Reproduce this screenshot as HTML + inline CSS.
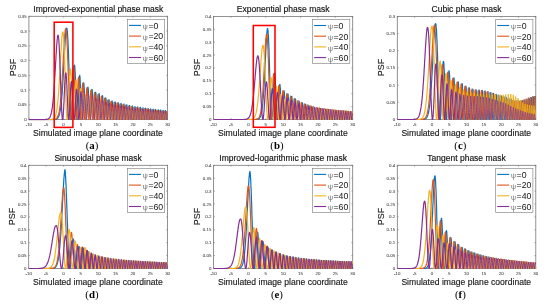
<!DOCTYPE html>
<html lang="en"><head><meta charset="utf-8"><title>PSF of phase masks</title>
<style>
html,body{margin:0;padding:0;background:#fff}
body{width:550px;height:308px;overflow:hidden}
svg{display:block}
text{font-family:'Liberation Sans', sans-serif}
.t{font-size:8.5px;fill:#111;text-anchor:middle;stroke:#111;stroke-width:.15px}
.l{font-size:8.58px;fill:#1a1a1a;text-anchor:middle;stroke:#1a1a1a;stroke-width:.15px}
.k{font-size:4.4px;fill:#505050;stroke:#505050;stroke-width:.08px}
.g{font-size:8.75px;fill:#151515}
.s{font-family:'Liberation Serif', serif;font-size:10.8px;fill:#000;text-anchor:middle}
</style></head><body>
<svg width="550" height="308" viewBox="0 0 550 308">
<rect width="550" height="308" fill="#fff"/>
<g id="panel-a">
<clipPath id="cp0"><rect x="28.90" y="15.30" width="138.70" height="104.90"/></clipPath>
<rect x="28.90" y="16.30" width="138.70" height="103.30" fill="none" stroke="#777" stroke-width="0.8"/>
<path d="M28.90 119.60v-1.4M28.90 16.30v1.4M46.24 119.60v-1.4M46.24 16.30v1.4M63.57 119.60v-1.4M63.57 16.30v1.4M80.91 119.60v-1.4M80.91 16.30v1.4M98.25 119.60v-1.4M98.25 16.30v1.4M115.59 119.60v-1.4M115.59 16.30v1.4M132.92 119.60v-1.4M132.92 16.30v1.4M150.26 119.60v-1.4M150.26 16.30v1.4M167.60 119.60v-1.4M167.60 16.30v1.4M28.90 119.60h1.4M167.60 119.60h-1.4M28.90 104.84h1.4M167.60 104.84h-1.4M28.90 90.09h1.4M167.60 90.09h-1.4M28.90 75.33h1.4M167.60 75.33h-1.4M28.90 60.57h1.4M167.60 60.57h-1.4M28.90 45.81h1.4M167.60 45.81h-1.4M28.90 31.06h1.4M167.60 31.06h-1.4M28.90 16.30h1.4M167.60 16.30h-1.4" stroke="#777" stroke-width="0.6" fill="none"/>
<g clip-path="url(#cp0)"><g transform="scale(.1)" fill="none" stroke-width="10.0" stroke-linejoin="round">
<path stroke="#0473C2" stroke-width="12" d="M289 1196L536 1196l1 0 2-1 1 0 1 0 1 0 2 0 1 0 1 0 1 0 2 0 1-1 1 0 2 0 1 0 1 0 1-1 2 0 1 0 1-1 1 0 2-1 1 0 1-1 1-1 2 0 1-1 1-1 1-1 2-1 1-1 1-2 1-1 2-1 1-2 1-2 2-2 1-2 1-2 1-3 2-3 1-3 1-3 1-4 2-3 1-5 1-4 1-5 2-5 1-5 1-6 1-7 2-6 1-8 1-7 1-9 2-8 1-10 1-10 2-10 1-11 1-12 1-12 2-13 1-14 1-14 1-15 2-16 1-16 1-17 1-18 2-18 1-19 1-20 1-20 2-21 1-22 1-21 1-23 2-23 1-23 1-23 2-24 1-23 1-24 1-24 2-23 1-23 1-23 1-22 2-22 1-21 1-20 1-19 2-18 1-17 1-15 1-14 2-12 1-10 1-8 1-6 2-4 1-2 1 0 2 2 1 5 1 7 1 10 2 12 1 15 1 18 1 20 2 22 1 25 1 28 1 29 2 32 1 33 1 35 1 37 2 38 1 39 1 39 1 40 2 40 1 40 1 39 2 38 1 37 1 35 1 34 2 31 1 29 1 25 1 23 2 19 1 15 1 12 1 8 2 4 1-1 1-4 1-8 2-13 1-15 1-20 1-23 2-25 1-29 1-30 2-32 1-34 1-34 1-34 2-35 1-33 1-31 1-30 2-27 1-25 1-20 1-17 2-13 1-9 1-3 1 1 2 6 1 10 1 16 1 19 2 24 1 27 1 31 2 33 1 35 1 37 1 38 2 37 1 37 1 36 1 33 2 31 1 27 1 24 1 18 2 14 1 8 1 3 1-3 2-8 1-14 1-19 1-24 2-28 1-32 1-34 2-36 1-37 1-36 1-36 2-33 1-30 1-26 1-21 2-15 1-8 1-2 1 5 2 12 1 19 1 25 1 31 2 36 1 40 1 42 1 43 2 42 1 39 1 35 2 29 1 23 1 14 1 7 2-2 1-11 1-18 1-25 2-31 1-35 1-38 1-38 2-38 1-35 1-31 1-26 2-20 1-14 1-6 1 0 2 8 1 13 1 20 2 24 1 29 1 32 1 33 2 34 1 34 1 32 1 29 2 26 1 21 1 17 1 11 2 5 1-1 1-7 1-12 2-17 1-21 1-25 1-28 2-30 1-30 1-30 2-29 1-26 1-23 1-19 2-15 1-8 1-4 1 3 2 9 1 13 1 19 1 23 2 26 1 29 1 30 1 30 2 30 1 28 1 25 1 22 2 17 1 13 1 7 2 1 1-5 1-10 1-15 2-20 1-24 1-27 1-29 2-30 1-30 1-29 1-26 2-22 1-18 1-12 1-6 2 0 1 7 1 13 1 19 2 24 1 28 1 31 2 33 1 32 1 31 1 27 2 24 1 18 1 11 1 5 2-3 1-9 1-16 1-21 2-26 1-29 1-31 1-31 2-29 1-26 1-22 1-17 2-11 1-3 1 2 2 10 1 16 1 21 1 25 2 29 1 30 1 30 1 30 2 26 1 22 1 17 1 11 2 5 1-2 1-9 1-15 2-21 1-25 1-28 1-29 2-30 1-28 1-25 2-21 1-15 1-9 1-3 2 5 1 11 1 17 1 23 2 26 1 29 1 30 1 29 2 27 1 24 1 19 1 13 2 6 1 0 1-7 2-14 1-19 1-23 1-27 2-28 1-29 1-26 1-24 2-19 1-14 1-7 1-1 2 6 1 13 1 18 1 23 2 27 1 28 1 28 1 27 2 25 1 20 1 14 2 8 1 2 1-5 1-12 2-17 1-21 1-25 1-27 2-26 1-26 1-22 1-17 2-13 1-6 1 0 1 7 2 13 1 18 1 23 1 25 2 27 1 26 1 24 2 22 1 16 1 11 1 5 2-2 1-8 1-13 1-19 2-22 1-24 1-25 1-25 2-21 1-18 1-14 1-7 2-1 1 5 1 11 1 16 2 20 1 24 1 25 2 24 1 23 1 20 1 16 2 10 1 5 1-2 1-8 2-13 1-18 1-21 1-24 2-24 1-23 1-20 1-17 2-11 1-6 1 0 1 7 2 12 1 17 1 21 2 23 1 24 1 23 1 21 2 18 1 12 1 8 1 1 2-5 1-11 1-15 1-20 2-22 1-23 1-23 1-21 2-17 1-13 1-7 1-1 2 5 1 11 1 15 2 20 1 22 1 23 1 23 2 21 1 17 1 12 1 8 2 1 1-5 1-11 1-15 2-19 1-22 1-23 1-22 2-19 1-16 1-12 1-6 2 1 1 6 1 11 2 17 1 20 1 22 1 22 2 22 1 19 1 15 1 10 2 5 1-2 1-7"/>
<path stroke="#0473C2" stroke-width="11" d="M1198 1187l1-13 2-17 1-20 1-22 1-22 2-20 1-17 1-13 1-8 2-2 1 4 1 10 2 14 1 19 1 21 1 22 2 22 1 19 1 15 1 11 2 6 1-1 1-7 1-11 2-17 1-19 1-21 1-22 2-19 1-17 1-13 1-7 2-2 1 5 1 10 2 14 1 19 1 21 1 21 2 21 1 18 1 14 1 9 2 4 1-2 1-8 1-13 2-17 1-20 1-21 1-20 2-18 1-15 1-10 1-5 2 2 1 7 1 12 2 16 1 20 1 20 1 21 2 19 1 15 1 11 1 5 2 0 1-6 1-11 1-16 2-19 1-20 1-20 1-18 2-15 1-11 1-5 1 0 2 7 1 11 1 16 2 19 1 20 1 20 1 18 2 15 1 11 1 5 1-1 2-7 1-11 1-16 1-18 2-20 1-20 1-17 1-14 2-9 1-4 1 2 1 8 2 12 1 17 1 19 2 20 1 19 1 17 1 13 2 8 1 2 1-3 1-9 2-14 1-17 1-19 1-19 2-18 1-15 1-11 1-6 2 0 1 5 1 11 1 15 2 17 1 20 1 19 2 17 1 14 1 9 1 4 2-2 1-7 1-12 1-16 2-18 1-19 1-18 1-16 2-11 1-7 1-1 1 4 2 10 1 14 1 17 1 19 2 18 1 17 1 14 2 10 1 4 1-2 1-6 2-12 1-15 1-18 1-18 2-18 1-15 1-11 1-7 2-1 1 5 1 9 1 14 2 17 1 18 1 18 1 17 2 13 1 9 1 3 2-2 1-7 1-12 1-16 2-18 1-18 1-16 1-15 2-10 1-5 1 0 1 6 2 11 1 14 1 17 1 18 2 18 1 15 1 11 1 7 2 2 1-4 1-9 2-13 1-16 1-18 1-17 2-16 1-12 1-8 1-3 2 3 1 8 1 12 1 16 2 17 1 18 1 16 1 13 2 9 1 4 1-2 1-6 2-12 1-14 1-17 2-17 1-17 1-13 1-9 2-5 1 1 1 6 1 11 2 14 1 17 1 17 1 17 2 13 1 10 1 5 1 0 2-5 1-10 1-14 1-16 2-17 1-16 1-14 2-10 1-5 1 0 1 5 2 10 1 14 1 16 1 17 2 16 1 14 1 10 1 5 2 0 1-5 1-9 1-14 2-15 1-17 1-16 1-13 2-10 1-5 1 0 2 5 1 10 1 14 1 15 2 17 1 16 1 13 1 9 2 5 1 0 1-5 1-10 2-13 1-15 1-17 1-15 2-12 1-9 1-5 1 1 2 6 1 10 1 13 2 16 1 16 1 15 1 12 2 9 1 4 1-1 1-6 2-11 1-13 1-15 1-16 2-15 1-11 1-8 1-3 2 2 1 6 1 11 1 14 2 16 1 15 1 14 2 11 1 8 1 2 1-3 2-7 1-11 1-14 1-15 2-15 1-14 1-10 1-6 2-1 1 4 1 8 1 11 2 15 1 15 1 15 1 13 2 9 1 5 1 1 2-5 1-9 1-12 1-14 2-15 1-15 1-11 1-8 2-4 1 1 1 6 1 9 2 13 1 15 1 15 1 13 2 11 1 7 1 3 1-2 2-7 1-11 1-13 2-14 1-15 1-12 1-10 2-6 1-1 1 4 1 8 2 12 1 14 1 15 1 13 2 12 1 9 1 4 1-1 2-5 1-9 1-13 1-14 2-14 1-13"/>
<path stroke="#E05519" stroke-width="12" d="M289 1196L529 1196l1 0 1-1 1 0 2 0 1 0 1 0 1 0 2 0 1 0 1 0 1-1 2 0 1 0 1 0 1-1 2 0 1 0 1-1 2 0 1 0 1-1 1-1 2 0 1-1 1-1 1 0 2-1 1-1 1-2 1-1 2-1 1-2 1-1 1-2 2-2 1-2 1-2 1-3 2-2 1-3 1-4 2-3 1-4 1-4 1-4 2-5 1-5 1-5 1-6 2-6 1-7 1-7 1-7 2-9 1-8 1-9 1-10 2-11 1-10 1-12 1-12 2-13 1-14 1-14 2-15 1-15 1-17 1-17 2-17 1-19 1-19 1-19 2-21 1-20 1-22 1-22 2-22 1-23 1-23 1-23 2-24 1-24 1-24 1-23 2-24 1-23 1-23 2-22 1-22 1-21 1-20 2-19 1-18 1-17 1-15 2-13 1-12 1-10 1-8 2-6 1-4 1-1 1 1 2 2 1 6 1 8 1 10 2 13 1 15 1 18 2 21 1 23 1 25 1 28 2 30 1 32 1 34 1 35 2 37 1 37 1 39 1 40 2 39 1 40 1 40 1 38 2 38 1 37 1 34 1 33 2 30 1 28 1 25 2 21 1 18 1 14 1 11 2 6 1 3 1-2 1-5 2-10 1-13 1-18 1-20 2-24 1-27 1-29 1-31 2-32 1-34 1-34 1-34 2-33 1-32 1-30 2-28 1-25 1-22 1-18 2-14 1-10 1-5 1 0 2 5 1 9 1 14 1 19 2 23 1 28 1 30 1 33 2 36 1 37 1 38 1 38 2 37 1 36 1 33 2 30 1 27 1 22 1 17 2 11 1 6 1 0 1-5 2-12 1-17 1-21 1-27 2-30 1-32 1-35 1-36 2-36 1-35 1-33 1-29 2-26 1-21 1-16 2-9 1-4 1 3 1 10 2 16 1 22 1 27 1 32 2 35 1 38 1 39 1 39 2 38 1 34 1 30 1 26 2 19 1 12 1 5 1-2 2-10 1-17 1-22 2-28 1-32 1-34 1-36 2-36 1-35 1-31 1-28 2-23 1-17 1-10 1-4 2 3 1 9 1 15 1 21 2 25 1 29 1 32 1 34 2 34 1 33 1 32 2 28 1 24 1 20 1 15 2 8 1 3 1-3 1-10 2-14 1-20 1-23 1-27 2-29 1-31 1-30 1-29 2-28 1-24 1-20 1-16 2-10 1-5 1 1 2 7 1 13 1 17 1 22 2 26 1 28 1 29 1 30 2 30 1 28 1 25 1 22 2 18 1 13 1 8 1 2 2-4 1-8 1-15 1-19 2-23 1-26 1-28 2-30 1-29 1-28 1-26 2-22 1-18 1-13 1-7 2 0 1 5 1 13 1 18 2 23 1 27 1 31 1 32 2 32 1 30 1 28 1 23 2 18 1 11 1 5 2-3 1-9 1-16 1-21 2-26 1-29 1-31 1-30 2-29 1-26 1-21 1-16 2-10 1-3 1 3 1 10 2 16 1 22 1 25 1 29 2 29 1 30 1 29 2 25 1 22 1 16 1 10 2 4 1-3 1-9 1-16 2-20 1-25 1-27 1-29 2-29 1-27 1-24 1-20 2-14 1-9 1-1 1 5 2 11 1 18 1 22 2 27 1 28 1 30 1 28 2 26 1 23 1 18 1 11 2 6 1-2 1-8 1-14 2-20 1-24 1-26 1-28 2-28 1-26 1-23 2-18 1-13 1-6 1 1 2 7 1 14 1 19 1 23 2 27 1 28 1 28 1 26 2 23 1 19 1 13 1 7 2 0 1-6 1-13 1-17 2-23 1-25 1-26 2-26 1-25 1-21 1-16 2-11 1-5 1 2 1 8 2 14 1 19 1 23 1 25 2 26 1 26 1 24 1 20 2 15 1 10 1 3 1-3 2-9 1-15 1-19 2-22 1-25 1-24 1-24 2-21 1-16 1-12 1-6 2 0 1 7 1 12 1 17 2 21 1 23 1 25 1 24 2 22 1 19 1 14 1 9 2 3 1-3 1-9 2-14 1-19 1-21 1-24 2-23 1-22 1-19 1-15 2-10 1-4 1 1 1 8 2 13 1 18 1 21"/>
<path stroke="#E05519" stroke-width="11" d="M1116 1074l1 23 2 23 1 22 1 20 1 16 2 12 1 5 1 0 2-6 1-12 1-16 1-20 2-22 1-22 1-22 1-20 2-16 1-11 1-5 1 0 2 6 1 12 1 16 1 20 2 22 1 23 1 21 1 20 2 16 1 11 1 5 2 0 1-6 1-11 1-17 2-19 1-22 1-22 1-21 2-18 1-15 1-10 1-4 2 2 1 7 1 13 1 17 2 20 1 21 1 22 1 21 2 18 1 13 1 9 2 3 1-3 1-8 1-14 2-17 1-21 1-21 1-21 2-19 1-16 1-12 1-6 2 0 1 5 1 11 1 15 2 19 1 21 1 21 1 21 2 18 1 14 1 9 2 4 1-2 1-8 1-12 2-17 1-20 1-21 1-20 2-19 1-15 1-12 1-5 2 0 1 5 1 11 1 16 2 18 1 21 1 21 1 19 2 17 1 13 1 8 2 2 1-4 1-9 1-13 2-18 1-19 1-21 1-19 2-17 1-14 1-8 1-3 2 2 1 8 1 13 1 17"/>
<path stroke="#E05519" stroke-width="10" d="M1262 1091l2 20 1 20 1 20 1 18 2 14 1 9 1 4 2-2 1-7 1-12 1-16 2-19 1-20 1-19 1-17 2-14 1-9 1-4 1 2 2 7 1 13 1 16 1 19 2 20 1 19 1 17 1 14 2 8 1 4 1-2 2-8 1-12 1-16 1-19 2-19 1-19 1-16 1-13 2-7 1-2 1 3 1 9 2 13 1 17 1 19 1 19 2 18 1 16 1 11 1 7 2 1 1-5 1-10 2-14 1-17 1-19 1-18 2-17 1-14 1-10 1-4 2 1 1 7 1 11 1 15 2 18 1 19 1 18 1 16 2 13 1 8 1 2 1-3 2-8 1-13 1-16 2-18 1-19 1-17 1-14 2-10 1-5 1 0 1 5 2 11 1 14 1 17 1 19 2 18 1 16 1 12 1 8 2 3 1-3 1-7 1-13 2-15 1-18 1-18 2-17 1-13 1-10 1-5 2 0 1 6 1 10 1 14 2 17 1 18 1 18 1 15 2 12 1 7 1 2 1-3 2-9 1-12 1-16 1-17 2-18 1-16 1-13 2-8 1-4 1 2 1 6 2 12 1 15 1 17 1 17 2 17 1 14 1 10 1 5 2 0 1-5 1-9 1-14 2-16 1-17 1-17 1-15 2-11 1-6 1-1 2 4 1 8 1 13 1 16 2 17 1 17 1 15 1 12 2 7 1 3 1-3 1-7 2-12 1-15 1-17 1-17 2-15 1-12 1-8 1-3 2 2 1 7 1 12 2 14 1 17 1 17 1 15 2 13 1 8 1 4 1-2 2-6 1-11 1-14 1-16 2-17 1-15 1-12 1-9 2-4 1 2 1 6 1 11 2 14 1 16 1 16 2 16 1 12 1 9 1 4 2-1 1-6 1-11 1-13 2-16 1-16 1-15 1-12 2-9 1-3 1 1 1 6 2 11 1 14 1 15 1 16 2 15 1 12 1 8 2 4 1-2 1-6 1-10 2-14 1-15 1-16 1-14 2-12 1-7 1-3 1 2 2 6 1 11 1 14 1 15 2 16 1 14 1 11 1 7 2 3 1-2 1-7 2-11 1-14 1-15 1-15 2-14 1-10 1-7 1-1 2 3 1 7 1 12 1 14 2 15 1 15 1 13 1 10 2 6 1 1 1-4 1-8 2-12 1-14 1-14 2-15 1-12 1-9 1-5 2 0 1 5 1 9 1 12 2 14 1 15 1 14 1 12 2 8 1 4 1-1 1-6 2-9 1-13 1-14 1-14 2-14 1-10 1-7 2-3 1 2 1 7 1 10 2 14 1 14 1 14 1 13 2 10 1 6 1 1 1-3 2-8 1-11 1-13 1-15 2-13 1-12 1-8 1-5 2 1 1 4 1 9 2 12 1 14 1 14 1 13 2 11 1 7 1 3 1-2 2-6 1-10 1-12 1-14 2-14 1-12 1-9 1-5 2-2 1 4 1 8 1 10 2 14 1 13"/>
<path stroke="#F0B21F" stroke-width="12" d="M289 1196L502 1196l1 0 2-1 1 0 1 0 1 0 2 0 1 0 1 0 1 0 2 0 1-1 1 0 1 0 2 0 1-1 1 0 2 0 1-1 1 0 1 0 2-1 1-1 1 0 1-1 2-1 1-1 1 0 1-2 2-1 1-1 1-1 1-2 2-2 1-1 1-2 1-3 2-2 1-3 1-2 2-3 1-4 1-3 1-4 2-4 1-5 1-5 1-5 2-6 1-6 1-6 1-7 2-8 1-8 1-8 1-10 2-9 1-11 1-10 1-12 2-12 1-13 1-13 2-15 1-15 1-15 1-16 2-17 1-18 1-18 1-19 2-20 1-20 1-21 1-21 2-22 1-23 1-22 1-23 2-23 1-24 1-23 1-24 2-23 1-23 1-23 2-22 1-21 1-21 1-20 2-19 1-18 1-16 1-16 2-13 1-12 1-10 1-7 2-6 1-3 1-2 1 1 2 3 1 6 1 9 1 13 2 15 1 17 1 21 2 24 1 26 1 29 1 31 2 33 1 35 1 37 1 38 2 39 1 40 1 40 1 41 2 40 1 39 1 39 1 37 2 35 1 33 1 30 1 28 2 25 1 21 1 18 2 15 1 10 1 7 1 2 2-2 1-5 1-9 1-13 2-17 1-20 1-22 1-25 2-28 1-29 1-31 1-31 2-32 1-32 1-31 1-30 2-28 1-27 1-23 2-21 1-18 1-14 1-11 2-6 1-2 1 2 1 6 2 10 1 14 1 18 1 21 2 24 1 27 1 29 1 31 2 31 1 33 1 33 1 32 2 31 1 30 1 28 2 26 1 22 1 20 1 15 2 12 1 8 1 4 1-1 2-5 1-9 1-13 1-17 2-20 1-23 1-26 1-28 2-29 1-30 1-30 1-29 2-28 1-26 1-24 2-20 1-17 1-12 1-8 2-3 1 2 1 7 1 12 2 16 1 21 1 25 1 27 2 30 1 31 1 33 1 32 2 31 1 30 1 27 1 23 2 20 1 15 1 11 2 5 1-1 1-6 1-10 2-16 1-20 1-24 1-26 2-28 1-29 1-30 1-28 2-25 1-23 1-19 1-13 2-8 1-3 1 4 1 10 2 16 1 21 1 26 2 30 1 33 1 33 1 33 2 31 1 26 1 22 1 15 2 8 1 0 1-6 1-14 2-20 1-24 1-28 1-30 2-30 1-28 1-26 1-21 2-16 1-11 1-5 2 2 1 6 1 12 1 17 2 20 1 23 1 25 1 25 2 26 1 24 1 23 1 19 2 16 1 12 1 7 1 3 2-2 1-6 1-11 1-15 2-17 1-20 1-22 2-23 1-22 1-22 1-20 2-17 1-15 1-10 1-7 2-2 1 3 1 7 1 11 2 15 1 18 1 20 1 22 2 23 1 22 1 21 1 20 2 17 1 14 1 10 2 6 1 2 1-3 1-6 2-11 1-15 1-17 1-20 2-22 1-22 1-22 1-20 2-19 1-16 1-12 1-7 2-4 1 2 1 7 1 11 2 16 1 19 1 21 2 24 1 23 1 23 1 22 2 18 1 15"/>
<path stroke="#F0B21F" stroke-width="11" d="M936 1181l1 10 1 4 2 0 1-5 1-11 1-15 2-18 1-21 1-22 1-22 2-22 1-19 1-16 1-12 2-8 1-2 1 2 2 7 1 12 1 15 1 19 2 21 1 22 1 22 1 20 2 19 1 15 1 11 1 7 2 2 1-3 1-8 1-12 2-16 1-18 1-21 1-21 2-21 1-19 1-17 2-13 1-10 1-4 1 1 2 5 1 10 1 15 1 17 2 20 1 21 1 21 1 21 2 18 1 15 1 11 1 6 2 2 1-3 1-8 2-12 1-16 1-18 1-20 2-21 1-19 1-18 1-14 2-11 1-7 1-2 1 3 2 8 1 12 1 16 1 18 2 20 1 20 1 20 1 17 2 15 1 11"/>
<path stroke="#F0B21F" stroke-width="10" d="M1038 1187l1 7 2 2 1-3 1-7 1-11 2-15 1-17 1-19 1-19 2-18 1-16 1-13 1-9 2-5 1-1 1 5 1 8 2 13 1 15 1 18 1 19 2 18 1 18 1 15 2 12 1 8 1 4 1-1 2-5 1-10 1-12 1-16 2-17 1-18 1-17 1-15 2-13 1-10 1-5 1-1 2 3 1 8 1 11 1 15 2 16 1 18 1 17 2 16 1 14 1 11 1 8 2 3 1-1 1-6 1-9 2-13 1-15 1-16 1-17 2-16 1-15 1-11 1-8 2-4 1 0 1 5 1 8 2 12 1 15 1 16 2 17 1 16 1 15 1 12 2 9 1 5 1 1 1-4 2-7 1-12 1-13 1-16 2-16 1-16 1-15 1-12 2-8 1-5 1-1 1 4 2 8 1 11 1 14 2 15 1 17 1 15 1 15 2 12 1 8 1 5 1 1 2-4 1-8 1-11 1-13 2-16 1-15 1-16 1-13 2-12 1-7 1-4 1 0 2 5 1 8 1 12 2 14 1 16 1 16 1 15 2 13 1 10 1 7 1 3 2-1"/>
<path stroke="#F0B21F" stroke-width="9" d="M1196 1195l1-6 1-9 1-12 2-14 1-16 1-15 1-14 2-12 1-9 1-5 1-1 2 3 1 7 1 11 2 13 1 15 1 15 1 15 2 13 1 11 1 7 1 4 2-1 1-5 1-8 1-12 2-14 1-15 1-15 1-14 2-11 1-9 1-4 1-1 2 3 1 8 1 10 2 13 1 15 1 15 1 14 2 13 1 10 1 6 1 2 2-2 1-6 1-9 1-12 2-14 1-15 1-14 1-13 2-10 1-6 1-3 1 1 2 5 1 9 1 12 2 14 1 14 1 15 1 12 2 11 1 7 1 4 1-1 2-4 1-9 1-11 1-13 2-14 1-14 1-13 1-10 2-7 1-4 1 1 1 5 2 8 1 12 1 13 2 14 1 14 1 13 1 10 2 7 1 3 1-1 1-5 2-8 1-12 1-13 1-14 2-13 1-12 1-10 1-6 2-2 1 2 1 6 1 9 2 11 1 14 1 14 2 13 1 12 1 8 1 6 2 1 1-3 1-6 1-10 2-12 1-14 1-13 1-13 2-10 1-8 1-3 1 0 2 4 1 8 1 11 1 12 2 14 1 13 1 12 2 9 1 7 1 2 1-2 2-5 1-9 1-11 1-13 2-14 1-12 1-11 1-8 2-4 1-1 1 4 1 7 2 10 1 12 1 13 1 14 2 11 1 10 1 6 2 3 1-1 1-6 1-8 2-11 1-13 1-13 1-12 2-11 1-8 1-4 1 0 2 3 1 7 1 11 1 12 2 13 1 13 1 11 1 9 2 6 1 2 1-2 2-5 1-9 1-12 1-12 2-13 1-12 1-10 1-7 2-3 1 1 1 4 1 8 2 10 1 13 1 13 1 12 2 11 1 8 1 4 1 1 2-3 1-7 1-10 2-12 1-12 1-13 1-11 2-8 1-6 1-1 1 2 2 6 1 9 1 12 1 12 2 13 1 11 1 9 1 7 2 2 1-1 1-6 1-8 2-11 1-12 1-13 2-11 1-10 1-6 1-3 2 1 1 5 1 8 1 10 2 13 1 12 1 12 1 10 2 6 1 4 1-1 1-4 2-8 1-10 1-12 1-12 2-12 1-9 1-7 2-4 1 1 1 4 1 7 2 11 1 11 1 13 1 11 2 10 1 7 1 4 1-1 2-4 1-7 1-10 1-12 2-12 1-11 1-10 1-6 2-4 1 1 1 4 2 7 1 10 1 12 1 12 2 11 1 10 1 6 1 4 2-1 1-4 1-7 1-10 2-12 1-12 1-11 1-9 2-6 1-3 1 1 1 5 2 7 1 10 1 12 2 12 1 10 1 9 1 6 2 3 1-1 1-5 1-8 2-10 1-11 1-12 1-10 2-9 1-5 1-2 1 2 2 5 1 8 1 11 1 11 2 11 1 11 1 8 2 5 1 1 1-2 1-6 2-8 1-11 1-11 1-11 2-10 1-7 1-4 1-1 2 3 1 6 1 9 1 11 2 11 1 11 1 9 1 7 2 4 1-1 1-3 2-7 1-9 1-11 1-11 2-11 1-8 1-6 1-2 2 1 1 4 1 8 1 10 2 11 1 11 1 10 1 7 2 5 1 2 1-2 1-5 2-9 1-10 1-11 2-10 1-10 1-6 1-4 2-1 1 4 1 6 1 9 2 10 1 11 1 11 1 8 2 6 1 3 1-1 1-4 2-7 1-10 1-10 1-11 2-10 1-7"/>
<path stroke="#842F97" stroke-width="12" d="M289 1196L452 1196l1 0 1-1 1 0 2 0 1 0 1 0 1 0 2 0 1 0 1 0 2-1 1 0 1 0 1 0 2 0 1-1 1 0 1 0 2-1 1 0 1-1 1 0 2-1 1 0 1-1 1-1 2-1 1-1 1-1 1-1 2-1 1-2 1-1 2-2 1-1 1-2 1-3 2-2 1-2 1-3 1-3 2-3 1-4 1-3 1-5 2-4 1-5 1-5 1-5 2-6 1-6 1-7 1-7 2-7 1-8 1-9 2-9 1-10 1-10 1-11 2-11 1-12 1-13 1-13 2-14 1-14 1-15 1-16 2-17 1-17 1-17 1-19 2-18 1-20 1-20 1-20 2-21 1-21 1-21 2-22 1-22 1-22 1-22 2-22 1-22 1-22 1-21 2-21 1-20 1-19 1-19 2-18 1-16 1-15 1-14 2-13 1-11 1-9 1-7 2-6 1-3 1-1 2 1 1 5 1 6 1 9 2 12 1 14 1 17 1 19 2 22 1 24 1 26 1 29 2 30 1 32 1 33 1 35 2 36 1 36 1 37 1 38 2 37 1 36 1 36 2 35 1 34 1 32 1 30 2 27 1 26 1 22 1 20 2 16 1 13 1 10 1 6 2 3 1-1 1-4 1-8 2-11 1-15 1-17 1-20 2-22 1-25 1-26 2-27 1-29 1-29 1-29 2-28 1-28 1-27 1-25 2-23 1-20 1-17 1-15 2-11 1-7 1-4 1 0 2 4 1 7 1 12 1 15 2 18 1 22 1 24 2 27 1 28 1 30 1 31 2 31 1 32 1 30 1 29 2 27 1 25 1 22 1 18 2 15 1 11 1 7 1 3 2-2 1-6 1-10 1-14 2-17 1-21 1-24 2-25 1-28 1-28 1-29 2-28 1-27 1-26 1-24 2-21 1-18 1-14 1-10 2-7 1-2 1 3 1 6 2 10 1 15 1 17 1 21 2 23 1 25 1 26 2 28 1 27 1 27 1 27 2 25 1 23 1 21 1 18 2 15 1 11 1 8 1 4 2 1 1-3 1-7 1-11 2-13 1-16 1-19 1-21 2-22 1-24 1-24 2-23 1-24 1-21 1-20 2-18 1-14 1-12 1-7 2-4 1 1 1 5 1 9 2 12 1 17 1 19 1 22 2 24 1 25 1 26 1 25 2 25 1 23 1 21 2 17 1 15 1 10 1 6 2 1 1-4"/>
<path stroke="#842F97" stroke-width="11" d="M791 1192l1-8 1-12 2-17 1-20 1-23 1-26 2-26 1-27 1-27 1-24 2-22 1-19 1-14"/>
<path stroke="#842F97" stroke-width="10" d="M807 927l1-9 2-4 1 3 1 8 2 14 1 20 1 25 1 29 2 31 1 32 1 31 1 29 2 24"/>
<path stroke="#842F97" stroke-width="9" d="M824 1160l1 19 1 12 1 5 2-3 1-10 1-18 1-23 2-27 1-30 1-32 1-30 2-28 1-24 1-18 2-13 1-7 1 0 1 5 2 11 1 16 1 21 1 23 2 26 1 27 1 26 1 26 2 23 1 20 1 17 1 12 2 7 1 3 1-2 1-7 2-12 1-15 1-19 2-21 1-23 1-24 1-23 2-23 1-21 1-18 1-14 2-10 1-6 1-1 1 3 2 9 1 12 1 17 1 19 2 22 1 23 1 24 1 23 2 22 1 20 1 17 2 13 1 10 1 4 1 0 2-4 1-9 1-13 1-17 2-20 1-22 1-23 1-24 2-23 1-21 1-19 1-15 2-11 1-6 1-1 1 5 2 9 1 15 1 19 2 21 1 25 1 25 1 25 2 24 1 21 1 18 1 12 2 8 1 2 1-4 1-9 2-14 1-19 1-21 1-24 2-24 1-24 1-22 1-19 2-15 1-10 1-5 2 1 1 5 1 11 1 16 2 19 1 22 1 24 1 24 2 23 1 21 1 18 1 13 2 9 1 4 1-2 1-7 2-12 1-16 1-20 1-22 2-24 1-23 1-22 2-20 1-15 1-12 1-6 2-1 1 5 1 10 1 14 2 19 1 21 1 24 1 23 2 23 1 21 1 17 1 14 2 8 1 3 1-3 2-7 1-13 1-17 1-20 2-22 1-23 1-22 1-20 2-17 1-13 1-9 1-3 2 2 1 8 1 13 1 16 2 20 1 22 1 23 1 22 2 21 1 17 1 13 2 9 1 3 1-2 1-8 2-12 1-16 1-19 1-21 2-22 1-20 1-19 1-16 2-11 1-6"/>
<path stroke="#842F97" stroke-width="8" d="M1057 1024l1-1 1 4 2 9 1 13 1 17 1 20 2 21 1 22 1 20 2 17 1 15 1 9 1 5 2 0 1-5 1-10 1-14 2-18 1-19 1-20 1-20 2-18 1-16 1-11 1-7 2-2 1 3 1 8 1 13 2 16 1 19 1 20 2 20 1 19 1 16 1 13 2 9 1 5 1-1 1-6 2-10 1-14 1-18 1-19 2-19 1-19 1-17 1-14 2-9 1-6 1 0 1 5 2 9 1 14 1 16 2 19 1 19 1 20 1 17 2 15 1 10 1 7 1 1 2-4 1-8 1-13 1-15 2-18 1-19 1-19 1-17 2-15 1-10 1-6 1-2 2 4 1 8 1 13 2 16 1 18 1 19 1 19 2 17 1 14 1 11 1 6 2 1 1-4 1-8 1-13 2-16 1-17 1-19 1-18 2-17 1-13 1-10 1-5 2 0 1 5 1 10 2 13 1 16 1 18 1 19 2 18 1 16 1 12 1 9 2 4 1-1 1-6 1-11 2-14 1-16 1-18 1-18 2-17 1-15 1-11 1-6 2-2 1 3 1 8 2 12 1 16 1 17 1 18 2 18 1 16 1 13 1 9 2 5 1-1 1-5 1-10 2-13 1-17 1-17 1-18 2-17 1-14 1-10 1-6 2-2 1 4 1 8 2 12 1 16 1 17 1 18 2 17 1 15 1 12 1 8 2 3 1-2 1-6 1-11 2-15 1-16 1-18"/>
<path stroke="#842F97" stroke-width="7" d="M1261 1128l1-17 2-15 1-12 1-9 1-4 2 1 1 6 1 10 2 14 1 16 1 18 1 17 2 16 1 13 1 9 1 4 2 0 1-5 1-9 1-14 2-15 1-17 1-17 1-16 2-13 1-9 1-4 1 0 2 6 1 9 1 14 2 15 1 18 1 17 1 15 2 13 1 8 1 5 1-1 2-5 1-10 1-14 1-15 2-17 1-17 1-14 1-12 2-8 1-3 1 1 1 7 2 11 1 14 1 16 2 17 1 16 1 14 1 11 2 7 1 2 1-3 1-7 2-12 1-14 1-16 1-17 2-15 1-13 1-10 1-5 2 0 1 5 1 9 1 12 2 16 1 16 1 16 2 15 1 12 1 8 1 3 2-2 1-6 1-10 1-14 2-15 1-16 1-16 1-13 2-10 1-6 1-1 1 4 2 8 1 12 1 15 1 16 2 16 1 14 1 12 2 8 1 4 1-1 1-6 2-10 1-13 1-15 1-16 2-15 1-13 1-10 1-6 2 0 1 3 1 9 1 11 2 15 1 16 1 15 1 14 2 12 1 7 1 3 2-2 1-6 1-10 1-14 2-15 1-15 1-15 1-12 2-9 1-4 1 0 1 5 2 9 1 13 1 14 1 16 2 15 1 13 1 10 1 6 2 1 1-3 1-8 2-12 1-13 1-16 1-15 2-13 1-11 1-6 1-3 2 3 1 6 1 11 1 14 2 14 1 16 1 13 1 12 2 8 1 3 1-1 1-6 2-10 1-13 1-14 2-15 1-14 1-12 1-8 2-4 1 1 1 5 1 10 2 12 1 15 1 14 1 15 2 11 1 9 1 4 1 0 2-4 1-9 1-12 1-14 2-15 1-14 1-11 2-9 1-4 1 0 1 4 2 9 1 12 1 13 1 15 2 14 1 12 1 9 1 4 2 1 1-5 1-8 1-12 2-13 1-15 1-13 1-12 2-8 1-5 1 0 2 5 1 8 1 12 1 13 2 15 1 13 1 12 1 8 2 5 1-1 1-4 1-9 2-11 1-14 1-14 1-13 2-11 1-8 1-4 1 1 2 5 1 9 1 11 2 14 1 14 1 13 1 11 2 7 1 4 1-1 1-5 2-9 1-12 1-13 1-14 2-13 1-10 1-7 1-2 2 1 1 6 1 9 1 13 2 13 1 14 1 12 2 10 1 6 1 2 1-2 2-7 1-9 1-12 1-14 2-13 1-12 1-9 1-5 2-1 1 3 1 7 1 11 2 12 1 14 1 12 1 12 2 8 1 4 1 1 2-4 1-8 1-11 1-12 2-14 1-12 1-10 1-7 2-4 1 1 1 5 1 9 2 11 1 13 1 13 1 12 2 10 1 6 1 2 1-2 2-6 1-9 1-12 2-13 1-12 1-11 1-9 2-5 1 0 1 3 1 7 2 10 1 12 1 13 1 12 2 11 1 7 1 4 1-1 2-4 1-8 1-11 1-13 2-12 1-12"/>
</g></g>
<text class="k" text-anchor="middle" x="28.90" y="125.80">-10</text><text class="k" text-anchor="middle" x="46.24" y="125.80">-5</text><text class="k" text-anchor="middle" x="63.57" y="125.80">0</text><text class="k" text-anchor="middle" x="80.91" y="125.80">5</text><text class="k" text-anchor="middle" x="98.25" y="125.80">10</text><text class="k" text-anchor="middle" x="115.59" y="125.80">15</text><text class="k" text-anchor="middle" x="132.92" y="125.80">20</text><text class="k" text-anchor="middle" x="150.26" y="125.80">25</text><text class="k" text-anchor="middle" x="167.60" y="125.80">30</text>
<text class="k" text-anchor="end" x="26.70" y="121.10">0</text><text class="k" text-anchor="end" x="26.70" y="106.34">0.05</text><text class="k" text-anchor="end" x="26.70" y="91.59">0.1</text><text class="k" text-anchor="end" x="26.70" y="76.83">0.15</text><text class="k" text-anchor="end" x="26.70" y="62.07">0.2</text><text class="k" text-anchor="end" x="26.70" y="47.31">0.25</text><text class="k" text-anchor="end" x="26.70" y="32.56">0.3</text><text class="k" text-anchor="end" x="26.70" y="17.80">0.35</text>
<rect x="54.20" y="22.20" width="18.70" height="105.20" fill="none" stroke="#ff0000" stroke-width="1.55"/>
<text class="t" x="98.25" y="12.30">Improved-exponential phase mask</text>
<text class="l" x="97.95" y="135.60">Simulated image plane coordinate</text>
<text class="l" style="font-size:8.9px" transform="translate(15.60 67.55) rotate(-90)">PSF</text>
<rect x="127.50" y="19.30" width="37.20" height="44.10" fill="#fff" stroke="#7a7a7a" stroke-width="0.6"/>
<path d="M129.00 25.40h12" stroke="#0473C2" stroke-width="1.1" fill="none"/><text class="g" x="142.80" y="28.70"><tspan font-size="7" fill="#6a6a6a" dy="0.6">ψ</tspan><tspan dy="-0.6" dx="0.6">=0</tspan></text>
<path d="M129.00 36.10h12" stroke="#E05519" stroke-width="1.1" fill="none"/><text class="g" x="142.80" y="39.40"><tspan font-size="7" fill="#6a6a6a" dy="0.6">ψ</tspan><tspan dy="-0.6" dx="0.6">=20</tspan></text>
<path d="M129.00 46.80h12" stroke="#F0B21F" stroke-width="1.1" fill="none"/><text class="g" x="142.80" y="50.10"><tspan font-size="7" fill="#6a6a6a" dy="0.6">ψ</tspan><tspan dy="-0.6" dx="0.6">=40</tspan></text>
<path d="M129.00 57.50h12" stroke="#842F97" stroke-width="1.1" fill="none"/><text class="g" x="142.80" y="60.80"><tspan font-size="7" fill="#6a6a6a" dy="0.6">ψ</tspan><tspan dy="-0.6" dx="0.6">=60</tspan></text>
<text class="s" x="92.05" y="149.30">(<tspan font-weight="bold">a</tspan>)</text>
</g>
<g id="panel-b">
<clipPath id="cp1"><rect x="213.60" y="15.40" width="139.10" height="104.70"/></clipPath>
<rect x="213.60" y="16.40" width="139.10" height="103.10" fill="none" stroke="#777" stroke-width="0.8"/>
<path d="M213.60 119.50v-1.4M213.60 16.40v1.4M230.99 119.50v-1.4M230.99 16.40v1.4M248.38 119.50v-1.4M248.38 16.40v1.4M265.76 119.50v-1.4M265.76 16.40v1.4M283.15 119.50v-1.4M283.15 16.40v1.4M300.54 119.50v-1.4M300.54 16.40v1.4M317.93 119.50v-1.4M317.93 16.40v1.4M335.31 119.50v-1.4M335.31 16.40v1.4M352.70 119.50v-1.4M352.70 16.40v1.4M213.60 119.50h1.4M352.70 119.50h-1.4M213.60 106.61h1.4M352.70 106.61h-1.4M213.60 93.73h1.4M352.70 93.73h-1.4M213.60 80.84h1.4M352.70 80.84h-1.4M213.60 67.95h1.4M352.70 67.95h-1.4M213.60 55.06h1.4M352.70 55.06h-1.4M213.60 42.18h1.4M352.70 42.18h-1.4M213.60 29.29h1.4M352.70 29.29h-1.4M213.60 16.40h1.4M352.70 16.40h-1.4" stroke="#777" stroke-width="0.6" fill="none"/>
<g clip-path="url(#cp1)"><g transform="scale(.1)" fill="none" stroke-width="10.0" stroke-linejoin="round">
<path stroke="#0473C2" stroke-width="12" d="M2136 1195L2560 1195l1 0 1-1 1 0 2 0 1 0 1 0 1 0 2 0 1 0 1-1 2 0 1 0 1 0 1-1 2 0 1 0 1-1 1 0 2-1 1-1 1 0 1-1 2-1 1-1 1-1 2-1 1-2 1-1 1-2 2-2 1-2 1-2 1-2 2-3 1-3 1-3 1-3 2-4 1-4 1-5 1-5 2-5 1-6 1-6 2-7 1-8 1-7 1-9 2-9 1-10 1-10 1-12 2-11 1-13 1-14 1-14 2-15 1-16 1-17 1-17 2-19 1-19 1-20 2-21 1-22 1-23 1-23 2-24 1-24 1-26 1-25 2-26 1-26 1-26 1-27 2-26 1-26 1-26 2-25 1-24 1-24 1-22 2-22 1-20 1-18 1-16 2-14 1-13 1-9 1-8 2-4 1-2 1 3 1 6 2 10 1 14 1 16 2 20 1 24 1 26 1 30 2 33 1 35 1 37 1 40 2 41 1 42 1 44 1 44 2 44 1 44 1 44 2 41 1 41 1 38 1 36 2 33 1 29 1 26 1 22 2 18 1 14 1 9 1 5 2 1 1-5 1-8 1-12 2-17 1-20 1-23 2-26 1-28 1-30 1-31 2-32 1-31 1-32 1-30 2-28 1-26 1-23 1-20 2-17 1-12 1-9 2-3 1 0 1 6 1 9 2 14 1 18 1 21 1 25 2 27 1 30 1 31 1 32 2 32 1 33 1 31 1 30 2 28 1 25 1 21 2 19 1 14 1 10 1 6 2 1 1-4 1-8 1-12 2-16 1-20 1-23 1-25 2-27 1-29 1-29 2-28 1-27 1-26 1-23 2-19 1-16 1-11 1-6 2-1 1 4 1 9 1 15 2 19 1 23 1 27 1 29 2 31 1 32 1 31 2 30 1 28 1 24 1 20 2 15 1 9 1 4 1-2 2-8 1-13 1-19 1-22 2-25 1-28 1-28 2-29 1-27 1-25 1-21 2-17 1-13 1-7 1-2 2 4 1 9 1 15 1 19 2 23 1 25 1 28 1 28 2 28 1 27 1 24 2 21 1 16 1 12 1 6 2 1 1-6 1-10 1-15 2-20 1-23 1-25 1-26 2-27 1-25 1-23 1-21 2-16 1-11 1-6 2-1 1 4 1 10 1 15 2 19 1 22 1 25 1 26 2 26 1 26 1 23 1 21 2 17 1 12 1 7 2 2 1-3 1-9 1-13 2-18 1-20 1-23 1-25 2-24 1-24 1-22 1-19 2-15 1-10 1-6 1-1 2 5 1 10 1 14 2 19 1 21 1 23 1 25 2 24 1 24 1 21 1 18 2 14 1 9 1 5 1-1 2-5 1-11 1-14 2-18 1-21 1-22 1-22 2-22 1-21 1-18 1-14 2-11 1-6 1-1 1 4 2 9 1 13 1 16 1 19 2 21 1 22 1 22 2 21 1 19 1 16 1 13 2 8 1 4 1-1 1-6 2-9 1-14 1-16 1-19 2-20 1-21 1-20 2-18 1-15 1-13 1-8 2-4 1 1 1 6 1 10 2 14 1 17 1 19 1 21 2 20 1 20 1 19 1 15 2 12 1 7 1 3 2-2 1-6 1-11 1-14 2-18 1-18 1-20 1-20 2-17 1-16 1-12 1-8 2-4 1 1 1 6 2 10 1 14 1 16 1 19 2 20 1 19 1 19 1 16 2 12 1 9 1 5 1-1 2-5 1-9 1-13 1-16 2-18 1-19 1-18 2-17 1-15 1-11 1-7 2-3 1 2 1 6 1 10 2 13 1 17 1 18 1 18 2 18 1 17 1 14 1 10 2 7 1 2 1-2 2-7 1-10 1-13 1-16 2-18 1-17 1-17 1-15 2-12 1-9 1-4 1 0 2 5 1 9 1 13 2 15 1 17"/>
<path stroke="#0473C2" stroke-width="11" d="M3096 1114l1 18 1 18 2 15 1 14 1 9 1 6 2 1 1-4 1-8 1-12 2-14 1-17 1-18 1-17 2-15 1-13 1-8 2-5 1 1 1 5 1 10 2 14 1 17 1 18 1 19 2 17 1 14 1 10"/>
<path stroke="#0473C2" stroke-width="10" d="M3131 1189l1 5 2 0 1-5 1-10 2-13 1-17 1-18 1-17 2-16 1-13 1-9 1-4 2 0 1 5 1 10 1 13 2 15 1 17 1 16 1 16 2 13 1 10 1 6 2 2 1-3 1-6 1-11 2-13 1-16 1-16 1-16 2-14 1-11 1-8 1-3 2 1 1 6 1 10 2 14 1 16 1 17 1 16 2 15 1 11 1 8 1 3 2-2 1-7 1-11 1-14 2-16 1-17 1-15 1-14 2-9 1-6 1-1 2 4 1 8 1 12 1 15 2 16 1 16 1 15 1 12 2 9 1 5 1-1 1-5 2-9 1-12 1-15 2-15 1-16 1-13 1-11 2-8 1-3 1 2 1 6 2 10 1 13 1 15 1 16 2 14 1 13 1 11 1 6 2 2 1-2 1-7 2-10 1-13 1-15 1-15 2-15 1-12 1-9 1-5 2 0 1 4 1 9 1 12 2 14 1 16 1 16 2 13 1 11 1 6 1 2 2-3 1-8 1-11 1-14 2-16 1-15 1-13 1-11 2-7 1-2 1 3 1 7 2 11 1 14 1 15 2 15 1 14 1 11 1 7 2 3 1-2 1-6 1-10 2-13 1-15 1-15 1-13 2-11 1-8 1-3 1 1 2 6 1 10 1 13 2 14 1 15 1 14 1 11 2 8 1 4 1-1 1-5 2-10 1-12 1-14 1-15 2-13 1-11 1-8 2-4 1 1 1 5 1 10 2 12 1 14 1 15 1 13 2 11 1 8 1 4 1-1 2-5 1-9 1-12 1-14 2-14 1-14 1-10 2-8 1-3 1 1 1 6 2 9 1 13 1 13 1 15 2 13 1 10 1 7 1 3 2-2 1-5 1-10 2-12 1-14 1-14 1-12 2-10 1-6 1-2 1 2 2 7 1 10 1 12 1 14 2 14 1 12 1 9 1 6 2 1 1-3 1-7 2-10 1-13 1-14 1-13 2-11 1-8 1-5 1 0 2 4 1 8 1 11 1 13 2 13 1 13 1 11 2 7 1 4 1-1 1-5 2-9 1-11 1-13 1-13 2-12 1-10 1-6 1-2 2 2 1 6 1 10 1 12 2 13 1 13 1 12 2 8 1 5 1 1 1-4 2-7 1-11 1-12 1-13 2-12 1-11 1-7 1-3 2 1 1 6 1 9 2 11 1 13 1 13 1 11 2 9 1 6 1 1 1-3 2-7 1-10 1-12 1-12 2-13 1-10 1-7 1-4 2 1 1 5 1 9 2 11 1 12 1 13 1 11 2 9 1 6 1 1 1-3 2-7 1-9 1-12 1-13 2-12 1-10 1-7 2-3 1 1 1 6 1 8 2 11 1 13 1 12 1 11 2 8 1 5 1 1 1-4 2-7 1-10 1-12 1-12 2-12 1-9"/>
<path stroke="#E05519" stroke-width="12" d="M2136 1195L2550 1195l1 0 1-1 1 0 2 0 1 0 1 0 1 0 2 0 1 0 1-1 1 0 2 0 1 0 1-1 1 0 2 0 1-1 1 0 2-1 1 0 1-1 1-1 2 0 1-1 1-1 1-1 2-2 1-1 1-1 1-2 2-2 1-2 1-2 2-3 1-2 1-3 1-3 2-4 1-4 1-4 1-4 2-5 1-5 1-6 1-6 2-7 1-7 1-8 1-8 2-9 1-9 1-10 2-11 1-12 1-12 1-13 2-14 1-14 1-15 1-16 2-17 1-18 1-18 1-19 2-20 1-21 1-21 1-22 2-23 1-23 1-23 2-24 1-25 1-24 1-25 2-24 1-25 1-24 1-24 2-23 1-23 1-21 1-21 2-19 1-19 1-16 2-15 1-13 1-11 1-9 2-6 1-4 1-1 1 2 2 5 1 8 1 11 1 15 2 17 1 21 1 24 1 26 2 29 1 32 1 34 2 36 1 38 1 40 1 40 2 41 1 42 1 41 1 41 2 40 1 39 1 37 1 35 2 32 1 30 1 26 2 22 1 19 1 15 1 11 2 6 1 2 1-2 1-7 2-11 1-14 1-18 1-22 2-24 1-27 1-29 1-30 2-31 1-32 1-31 2-30 1-29 1-27 1-24 2-22 1-18 1-14 1-10 2-5 1-1 1 3 1 8 2 13 1 16 1 21 2 23 1 27 1 29 1 31 2 32 1 33 1 32 1 32 2 31 1 28 1 25 1 23 2 19 1 14 1 11 1 6 2 1 1-4 1-8 2-12 1-17 1-20 1-23 2-25 1-27 1-29 1-28 2-28 1-27 1-24 1-22 2-18 1-14 1-9 2-5 1 1 1 6 1 11 2 17 1 20 1 25 1 28 2 30 1 31 1 32 1 30 2 28 1 26 1 21 1 17 2 11 1 6 1-1 2-7 1-12 1-17 1-22 2-26 1-28 1-29 1-29 2-28 1-26 1-23 1-18 2-14 1-8 1-2 2 4 1 10 1 14 1 20 2 24 1 26 1 29 1 29 2 29 1 27 1 24 1 21 2 16 1 11 1 6 1-1 2-6 1-12 1-17 2-20 1-24 1-27 1-27 2-27 1-25 1-23 1-19 2-15 1-10 1-5 1 1 2 7 1 12 1 16 1 21 2 24 1 26 1 26 2 27 1 25 1 23 1 19 2 15 1 10 1 6 1-1 2-6 1-11 1-15 1-19 2-22 1-25 1-25 2-24 1-24 1-20 1-18 2-13 1-8 1-3 1 2 2 8 1 12 1 17 1 20 2 23 1 24 1 25 1 24 2 23 1 20 1 16 2 11 1 7 1 2 1-4 2-8 1-13 1-17 1-20 2-22 1-23 1-22 1-22 2-20 1-16 1-12 2-8 1-3 1 2 1 6 2 12 1 15 1 19 1 20 2 23 1 22 1 22 1 20 2 18 1 14 1 10 1 6 2 1 1-4 1-8 2-13 1-15 1-19 1-20 2-21 1-21 1-19 1-17 2-14 1-10 1-6 1-1 2 4 1 9 1 12 2 17 1 18 1 21 1 22 2 21 1 19 1 17 1 13 2 10 1 4 1 0 1-5 2-9 1-13 1-17 1-19 2-20 1-20 1-19 2-17 1-14 1-10 1-5 2-1 1 4 1 8 1 13 2 16 1 19 1 20 1 20 2 19 1 18 1 14 2 11 1 6 1 2 1-3 2-8 1-12 1-15 1-18 2-19 1-19 1-19 1-16 2-13 1-10 1-5 1 0 2 4 1 9 1 13 2 15 1 18 1 19 1 19 2 18 1 16 1 12 1 9 2 5 1-1 1-4 1-9 2-13 1-16 1-17 1-19 2-18 1-16 1-14 2-11 1-7 1-2 1 3 2 7 1 12 1 15 1 17 2 18"/>
<path stroke="#E05519" stroke-width="11" d="M3086 1120l1 19 1 17 1 16 2 12 1 8 1 3 2-2 1-6 1-10 1-14 2-17 1-18 1-19 1-17 2-15 1-11 1-7 1-2 2 3 1 8 1 13 1 16 2 18 1 20 1 19 2 16 1 13 1 9"/>
<path stroke="#E05519" stroke-width="10" d="M3121 1192l1 3 2-2 1-8 1-13 1-16 2-18 1-19 1-18 1-16 2-11 1-8 1-2 2 3 1 7 1 12 1 15 2 17 1 17 1 18 1 15 2 13 1 9 1 4 1 0 2-4 1-9 1-13 1-15 2-17 1-17 1-16 2-14 1-11 1-6 1-2 2 3 1 8 1 13 1 15 2 18 1 18 1 17 1 14 2 11 1 7 1 1 2-4 1-9 1-13 1-16 2-18 1-17 1-16 1-13 2-9 1-5 1 1 1 6 2 10 1 14 1 16 1 18 2 17 1 15 1 12 2 8 1 3 1-2 1-6 2-11 1-14 1-17 1-16 2-16 1-14 1-11 1-7 2-1 1 3 1 8 2 11 1 15 1 16 1 17 2 15 1 13 1 10 1 6 2 1 1-4 1-8 1-12 2-15 1-16 1-16 1-15 2-12 1-9 1-4 2 1 1 6 1 10 1 14 2 16 1 17 1 16 1 14 2 10 1 6 1 1 1-5 2-9 1-13 1-16 2-17 1-16 1-14 1-10 2-6 1-1 1 4 1 9 2 12 1 16 1 16 1 16 2 14 1 11 1 7 1 2 2-3 1-8 1-12 2-15 1-16 1-15 1-15 2-11 1-7 1-2 1 3 2 7 1 12 1 14 1 16 2 16 1 14 1 12 1 7 2 3 1-2 1-7 2-11 1-14 1-16 1-15 2-14 1-12 1-7 1-3 2 2 1 7 1 11 1 14 2 16 1 15 1 15 2 11 1 7 1 3 1-2 2-7 1-11 1-13 1-16 2-15 1-14 1-11 1-7 2-2 1 3 1 7 1 11 2 14 1 15 1 15 2 14 1 10 1 7 1 2 2-3 1-7 1-12 1-13 2-15 1-15 1-13 1-10 2-6 1-1 1 4 2 8 1 12 1 14 1 15 2 14 1 13 1 9 1 5 2 1 1-5 1-9 1-12 2-14 1-14 1-14 1-12 2-8 1-4 1 1 2 5 1 10 1 13 1 14 2 15 1 13 1 11 1 7 2 3 1-2 1-7 1-10 2-13 1-14 1-15 2-12 1-10 1-6 1-1 2 4 1 8 1 11 1 14 2 14 1 14 1 12 1 8 2 5 1-1 1-5 1-9 2-12 1-14 1-14 2-13 1-11 1-6 1-2 2 2 1 7 1 10 1 13 2 15 1 13 1 12 1 9 2 5 1 1 1-5 2-8 1-12 1-13 1-14 2-13 1-11 1-7 1-2 2 2 1 6 1 10 1 13 2 14 1 14 1 12 1 8 2 5 1 1 1-5 2-8 1-11 1-14 1-14 2-12 1-10 1-7 1-2 2 2 1 7 1 10 1 13 2 14 1 13 1 11 2 8 1 5 1-1 1-5 2-9 1-11 1-14 1-13 2-12 1-10 1-5 1-1 2 3 1 8 1 10 1 13 2 14 1 13"/>
<path stroke="#F0B21F" stroke-width="12" d="M2136 1195L2495 1195l1 0 2-1 1 0 1 0 1 0 2 0 1 0 1 0 2 0 1 0 1 0 1-1 2 0 1 0 1 0 1 0 2-1 1 0 1 0 1-1 2 0 1-1 1 0 1-1 2 0 1-1 1-1 2 0 1-1 1-1 1-1 2-1 1-1 1-2 1-1 2-2 1-1 1-2 1-2 2-2 1-3 1-2 2-3 1-3 1-3 1-3 2-4 1-4 1-4 1-4 2-5 1-5 1-5 1-6 2-6 1-7 1-7 1-7 2-8 1-8 1-8 2-10 1-9 1-10 1-11 2-11 1-11 1-13 1-12 2-13 1-14 1-14 1-15 2-15 1-15 1-16 2-17 1-17 1-17 1-17 2-18 1-18 1-18 1-19 2-18 1-19 1-18 1-19 2-18 1-18 1-17 1-17 2-17 1-15 1-16 2-14 1-13 1-13 1-11 2-10 1-9 1-7 1-6 2-4 1-3 1 0 1 1 2 3 1 4 1 7 1 8 2 10 1 12 1 14 2 15 1 18 1 19 1 21 2 22 1 24 1 25 1 27 2 27 1 29 1 29 1 30 2 30 1 31 1 31 2 30 1 30 1 29 1 28 2 27 1 26 1 24 1 22 2 20 1 18 1 15 1 13 2 10 1 7 1 5 1 1 2-2 1-4 1-8 2-10 1-13 1-15 1-18 2-20 1-21 1-23 1-25 2-25 1-26 1-25 1-26 2-24 1-24 1-22 2-21 1-18 1-16 1-12 2-10 1-7 1-3 1 0 2 4 1 7 1 11 1 14 2 17 1 21 1 22 1 25 2 27 1 28 1 29 2 29 1 28 1 28 1 26 2 25 1 21 1 19 1 15 2 12 1 7 1 3 1-1 2-6 1-10 1-14 2-17 1-21 1-23 1-25 2-27 1-27 1-28 1-26 2-25 1-23 1-19 1-17 2-12 1-8 1-3 1 1 2 6 1 11 1 15 2 19 1 23 1 25 1 27 2 28 1 29 1 28 1 26 2 25 1 22 1 18 1 14 2 10 1 4 1 0 2-4 1-10 1-14 1-17 2-20 1-23 1-23 1-25 2-24 1-22 1-21 1-17 2-13 1-10 1-5 1 0 2 5 1 10 1 14 2 18 1 21 1 23 1 25 2 25 1 25 1 23 1 20 2 17 1 12 1 8 1 3 2-2 1-7 1-12 2-15 1-19 1-21 1-22 2-22 1-21 1-19 1-17 2-13 1-8 1-4 1 0 2 6 1 9 1 14 1 17 2 20 1 21 1 22 2 21 1 20 1 18 1 14 2 11 1 7 1 2 1-3 2-7 1-11 1-14 1-17 2-19 1-21 1-20 1-19 2-17 1-14 1-11 2-7 1-3 1 2 1 6 2 10 1 14 1 16 1 18 2 20 1 19 1 20 1 17 2 15 1 12 1 9 2 4 1 1 1-4 1-8 2-11 1-14 1-17 1-18 2-18 1-18 1-17 1-15 2-12 1-9 1-5 1-1 2 3 1 7 1 11 2 13 1 16 1 18 1 18 2 18 1 17 1 15 1 13 2 10 1 6 1 2 1-2 2-5 1-9 1-12 2-14 1-16 1-16 1-17 2-16 1-14 1-12 1-9 2-5 1-2 1 1 1 6 2 8 1 12 1 13"/>
<path stroke="#F0B21F" stroke-width="11" d="M2959 1086l1 16 2 16 1 16 1 16 2 14 1 12 1 10 1 6 2 3 1-1 1-4 1-7 2-10 1-12 1-14 1-15 2-15 1-15 1-13 2-11 1-9 1-5 1-3 2 2 1 5 1 8 1 11 2 13 1 14 1 16 1 15 2 14 1 13 1 10 1 8 2 4 1 1 1-3 2-6 1-9 1-12 1-13 2-15 1-15 1-14 1-12 2-10 1-8 1-4 1-1 2 3 1 6 1 9 2 11 1 14 1 14 1 15 2 14 1 13 1 10"/>
<path stroke="#F0B21F" stroke-width="10" d="M3035 1182l1 8 2 4 1 1 1-3 1-6 2-9 1-12 1-13 1-14 2-14 1-13 1-12 2-9 1-6 1-3 1 1 2 4 1 7 1 10 1 12 2 13 1 14 1 14 1 12 2 11 1 8 1 6 1 2 2-1 1-5 1-8 2-10 1-12 1-13 1-14 2-13 1-11 1-10 1-6 2-4 1 0 1 4 1 7 2 10 1 12 1 13 2 14 1 13 1 13 1 10 2 7 1 3 1 1 1-4 2-7"/>
<path stroke="#F0B21F" stroke-width="9" d="M3105 1184l1-10 1-12 1-13 2-14 1-14 1-11 1-10 2-5 1-2 1 2 2 6 1 10 1 12 1 15 2 15 1 15 1 12 1 9 2 5 1 1 1-4 1-9 2-11 1-15 1-15 2-14 1-13 1-11 1-6 2-2 1 2 1 6 1 10 2 12 1 14 1 14 1 13 2 12 1 9 1 6 1 2 2-2 1-6 1-9 2-13 1-13 1-15 1-13 2-12 1-10 1-5 1-2 2 3 1 7 1 11 1 13 2 15 1 15 1 14 2 11 1 8 1 3 1-2 2-6 1-10 1-13 1-15 2-15 1-14 1-12 1-8 2-4 1 1 1 5 1 9 2 13 1 14 1 15 2 15 1 12 1 9 1 5 2 1 1-4 1-9 1-12 2-14 1-15 1-14 1-13 2-10 1-7 1-1 2 3 1 7 1 11 1 13 2 15 1 15 1 14 1 10 2 8 1 3 1-2 1-5 2-10 1-13 1-15 1-15 2-14 1-12 1-9 2-4 1 1 1 5 1 10 2 13 1 16 1 15 1 15 2 12 1 8 1 4 1-2 2-6 1-11 1-15 2-15 1-16 1-14 1-11 2-7 1-2 1 4 1 8 2 12 1 15 1 16 1 15 2 13 1 10 1 5 1 0 2-5 1-9 1-13 2-16 1-15 1-15 1-12 2-9 1-3 1 1 1 7 2 10 1 14 1 15 1 15 2 15 1 11 1 7 1 3 2-2 1-7 1-11 2-14 1-15 1-15 1-14 2-11 1-6 1-3 1 3 2 8 1 11 1 14 1 15 2 15 1 13 1 11 2 6 1 2 1-3 1-8 2-11 1-14 1-15 1-15 2-13 1-10 1-6 1-1 2 3 1 8 1 12 1 14 2 15 1 15 1 13 2 9 1 6 1 1 1-4 2-9 1-12 1-14 1-15 2-15 1-12 1-9 1-5 2 1 1 5 1 9 2 12 1 15 1 15 1 14 2 12 1 8 1 4 1-1 2-6 1-10 1-13 1-15 2-15 1-13 1-11 1-7 2-2 1 2 1 7 2 11 1 14 1 15 1 14 2 13 1 10 1 6 1 1 2-4 1-8 1-12 1-14 2-15 1-14 1-12 2-8 1-4 1 0 1 6 2 10 1 12 1 15 1 15 2 13 1 11 1 7 1 2 2-3 1-7 1-11 1-13 2-15 1-14 1-12 2-9 1-5 1 0 1 5 2 8 1 13 1 14 1 15 2 13 1 11 1 7 1 3 2-2 1-7 1-10 2-13 1-15 1-14 1-12 2-9 1-5 1 0 1 4 2 9 1 12 1 14 1 15 2 13 1 11 1 7 1 2 2-2 1-7 1-11 2-13 1-14 1-14 1-12 2-8 1-4 1 0 1 5 2 10 1 12 1 14 1 14 2 13 1 10 1 6 2 1 1-3 1-8 1-11 2-14 1-14 1-13 1-10 2-8 1-2 1 1 1 7 2 10 1 13 1 13 1 14 2 12 1 8"/>
<path stroke="#842F97" stroke-width="12" d="M2136 1195L2439 1195l2 0 1-1 1 0 2 0 1 0 1 0 1 0 2 0 1 0 1 0 1 0 2-1 1 0 1 0 1 0 2 0 1-1 1 0 2 0 1 0 1-1 1 0 2-1 1 0 1-1 1 0 2-1 1 0 1-1 1-1 2-1 1-1 1-1 1-1 2-1 1-1 1-2 2-1 1-2 1-1 1-2 2-2 1-2 1-3 1-2 2-3 1-3 1-3 1-3 2-3 1-4 1-4 2-4 1-5 1-4 1-5 2-6 1-5 1-6 1-6 2-7 1-7 1-7 1-8 2-8 1-8 1-9 1-9 2-10 1-10 1-11 2-10 1-12 1-11 1-12 2-12 1-13 1-13 1-14 2-13 1-14 1-15 1-14 2-15 1-15 1-15 2-15 1-15 1-15 1-15 2-15 1-14 1-15 1-14 2-14 1-13 1-13 1-13 2-11 1-11 1-11 1-9 2-8 1-8 1-6 2-5 1-4 1-3 1-1 2-1 1 1 1 2 1 4 2 6 1 7 1 8 1 11 2 11 1 13 1 15 2 16 1 18 1 19 1 20 2 21 1 22 1 24 1 24 2 24 1 25 1 26 1 25 2 26 1 25 1 25 1 25 2 24 1 23 1 21 2 21 1 19 1 18 1 15 2 14 1 12 1 10 1 8 2 5 1 3 1 1 1-2 2-3 1-7 1-8 1-10 2-13 1-14 1-16 2-17 1-19 1-20 1-20 2-21 1-22 1-21 1-21 2-21 1-20 1-19 1-17 2-16 1-14 1-12 2-10 1-7 1-5 1-2 2 0 1 3 1 5 1 9 2 10 1 14 1 15 1 17 2 19 1 21 1 22 1 23 2 23 1 23 1 24 2 22 1 22 1 21 1 19 2 17 1 14 1 13 1 9 2 7 1 4 1 1 1-2 2-6 1-8 1-11 2-13 1-16 1-18 1-19 2-21 1-21 1-22 1-22 2-22 1-21 1-19 1-17 2-16 1-13 1-10 1-7 2-4 1-1 1 3 2 5 1 10 1 12 1 15 2 17 1 20 1 22 1 22 2 24 1 23 1 23 1 23 2 21 1 18 1 17 2 13 1 10 1 7 1 4 2-1 1-4 1-7 1-11 2-14 1-16 1-19 1-20 2-21 1-22 1-22 1-21 2-20 1-18 1-16 2-14 1-11 1-8 1-4 2-1 1 2 1 5 1 9 2 11 1 13 1 16 1 18 2 19 1 19 1 21 2 20 1 19 1 19 1 18 2 16 1 14 1 11 1 9 2 7 1 3 1 1 1-2 2-6 1-8 1-10 1-13 2-14 1-17 1-17 2-19 1-19 1-18 1-19 2-17 1-16 1-14 1-11 2-9 1-6 1-3 1 0 2 3 1 7 1 10 2 13 1 15 1 17 1 19 2 20 1 21 1 20 1 19 2 19 1 16 1 14 1 11 2 8 1 5 1 1 1-3 2-6 1-9 1-12 2-15 1-17 1-19 1-19 2-20 1-19 1-18 1-16 2-14 1-12 1-8 1-5 2-1 1 3 1 6 1 9 2 12 1 16 1 17 2 18 1 20 1 20 1 19 2 19 1 16 1 14 1 11 2 8 1 4 1 1 1-3 2-7 1-10 1-13 2-15 1-17 1-19 1-19 2-18 1-18 1-16 1-13 2-11 1-8 1-4 1 0 2 3 1 8 1 10 1 13 2 16 1 18 1 18 2 19 1 19 1 17 1 16 2 13 1 11 1 7 1 3 2-1 1-4 1-8 1-11 2-14 1-15 1-18 2-17 1-18 1-17 1-15 2-13 1-10 1-7 1-4 2 1 1 4 1 7 1 11 2 13 1 16 1 17 1 17 2 18 1 17 1 15 2 14 1 10 1 7"/>
<path stroke="#842F97" stroke-width="11" d="M2968 1190l1 4 2 1 1-4 1-6 1-10 2-13 1-14 1-16 1-17 2-17 1-15 1-15 2-11 1-9 1-6 1-2 2 2 1 5 1 9 1 11 2 15 1 16 1 17 1 17 2 16 1 15 1 13 1 10 2 6 1 3 1-1 2-5 1-9 1-11 1-14 2-16 1-17 1-16 1-16"/>
<path stroke="#842F97" stroke-width="10" d="M3017 1090l2-13 1-12 1-8 1-4 2-1 1 3 1 7 2 10 1 14 1 15 1 16 2 17 1 16 1 15 1 13 2 9 1 6 1 2 1-2 2-6 1-9 1-12 1-15 2-16 1-16 1-16 2-14 1-12 1-9 1-6 2-2 1 2 1 6 1 10 2 12 1 15 1 16 1 16 2 16 1 14 1 12 1 9 2 5 1 2 1-2 2-6 1-10 1-12 1-14 2-16 1-16 1-15 1-14 2-11 1-8 1-4 1 0 2 4 1 8 1 12 2 13"/>
<path stroke="#842F97" stroke-width="9" d="M3095 1104l1 16 1 16 1 16 2 15 1 12 1 9 1 6 2 1 1-3 1-7 1-10 2-14 1-15 1-16 1-16 2-15 1-12 1-9 2-5 1 0 1 4 1 8 2 12 1 15 1 17 1 18 2 16 1 14 1 10 1 7 2 1 1-4 1-8 2-12 1-15 1-17 1-17 2-16 1-13 1-10 1-5 2-1 1 3 1 8 1 11 2 14 1 16 1 16 1 15 2 14 1 10 1 8 2 3 1-1 1-5 1-9 2-13 1-14 1-16 1-15 2-15 1-12 1-9 1-5 2 0 1 4 1 8 2 12 1 15 1 16 1 16 2 16 1 12 1 10 1 4 2 0 1-4 1-10 1-12 2-16 1-16 1-16 1-14 2-12 1-7 1-4 2 2 1 6 1 11 1 13 2 16 1 16 1 15 1 14 2 11 1 6 1 2 1-3 2-7 1-11 1-13 2-16 1-16 1-15 1-12 2-10 1-5 1 0 1 3 2 9 1 11 1 14 1 16 2 15 1 15 1 12 1 8 2 4 1 0 1-4 2-9 1-12 1-14 1-15 2-16 1-13 1-12 1-7 2-3 1 2 1 6 1 11 2 13 1 16 1 16 2 15 1 13 1 9 1 5 2-1 1-5 1-10 1-13 2-15 1-16 1-15 1-13 2-10 1-5 1 0 1 5 2 9 1 13 1 14 2 16 1 16 1 13 1 10 2 6 1 1 1-4 1-8 2-12 1-14 1-16 1-15 2-14 1-10 1-6 1-2 2 3 1 8 1 12 2 14 1 15 1 16 1 13 2 11 1 7 1 2 1-3 2-7 1-11 1-14 1-15 2-15 1-14 1-10 2-7 1-2 1 2 1 7 2 11 1 14 1 15 1 15 2 14 1 11 1 7 1 2 2-2 1-7 1-11 1-14 2-15 1-15 1-13 2-11 1-6 1-2 1 3 2 7 1 11 1 14 1 15 2 14 1 14 1 10 1 6 2 2 1-3 1-8 2-11 1-13 1-15 1-15 2-12 1-10 1-6 1-1 2 4 1 8 1 12 1 14 2 15 1 14 1 12 1 9 2 5 1 1 1-5 2-8 1-12 1-14 1-15 2-14 1-12 1-8 1-3 2 0 1 6 1 9 1 13 2 14 1 15 1 13 2 11 1 7 1 3 1-2 2-6 1-11 1-12 1-15 2-14 1-13 1-9 1-6 2-2 1 4 1 8 1 11 2 13 1 15 1 14 2 11 1 9 1 5 1-1 2-4 1-9 1-12 1-14 2-14 1-13 1-11 1-7 2-3 1 2 1 7 2 10 1 13 1 14 1 14 2 13 1 9 1 5 1 1 2-4 1-8 1-12 1-13 2-14 1-14 1-10 1-8 2-3 1 2 1 6 2 10 1 13 1 14 1 13 2 13 1 9 1 5 1 1 2-4 1-8 1-12 1-13 2-14 1-13 1-10 2-7 1-3 1 2 1 6 2 11 1 12 1 14 1 14 2 11 1 9 1 4 1 0 2-4 1-9 1-12 1-13 2-14 1-12"/>
</g></g>
<text class="k" text-anchor="middle" x="213.60" y="125.70">-10</text><text class="k" text-anchor="middle" x="230.99" y="125.70">-5</text><text class="k" text-anchor="middle" x="248.38" y="125.70">0</text><text class="k" text-anchor="middle" x="265.76" y="125.70">5</text><text class="k" text-anchor="middle" x="283.15" y="125.70">10</text><text class="k" text-anchor="middle" x="300.54" y="125.70">15</text><text class="k" text-anchor="middle" x="317.93" y="125.70">20</text><text class="k" text-anchor="middle" x="335.31" y="125.70">25</text><text class="k" text-anchor="middle" x="352.70" y="125.70">30</text>
<text class="k" text-anchor="end" x="211.40" y="121.00">0</text><text class="k" text-anchor="end" x="211.40" y="108.11">0.05</text><text class="k" text-anchor="end" x="211.40" y="95.23">0.1</text><text class="k" text-anchor="end" x="211.40" y="82.34">0.15</text><text class="k" text-anchor="end" x="211.40" y="69.45">0.2</text><text class="k" text-anchor="end" x="211.40" y="56.56">0.25</text><text class="k" text-anchor="end" x="211.40" y="43.68">0.3</text><text class="k" text-anchor="end" x="211.40" y="30.79">0.35</text><text class="k" text-anchor="end" x="211.40" y="17.90">0.4</text>
<rect x="253.30" y="25.50" width="21.70" height="101.80" fill="none" stroke="#ff0000" stroke-width="1.55"/>
<text class="t" x="283.15" y="12.40">Exponential phase mask</text>
<text class="l" x="282.85" y="135.50">Simulated image plane coordinate</text>
<text class="l" style="font-size:8.9px" transform="translate(200.30 67.55) rotate(-90)">PSF</text>
<rect x="312.60" y="19.40" width="37.20" height="44.10" fill="#fff" stroke="#7a7a7a" stroke-width="0.6"/>
<path d="M314.10 25.50h12" stroke="#0473C2" stroke-width="1.1" fill="none"/><text class="g" x="327.90" y="28.80"><tspan font-size="7" fill="#6a6a6a" dy="0.6">ψ</tspan><tspan dy="-0.6" dx="0.6">=0</tspan></text>
<path d="M314.10 36.20h12" stroke="#E05519" stroke-width="1.1" fill="none"/><text class="g" x="327.90" y="39.50"><tspan font-size="7" fill="#6a6a6a" dy="0.6">ψ</tspan><tspan dy="-0.6" dx="0.6">=20</tspan></text>
<path d="M314.10 46.90h12" stroke="#F0B21F" stroke-width="1.1" fill="none"/><text class="g" x="327.90" y="50.20"><tspan font-size="7" fill="#6a6a6a" dy="0.6">ψ</tspan><tspan dy="-0.6" dx="0.6">=40</tspan></text>
<path d="M314.10 57.60h12" stroke="#842F97" stroke-width="1.1" fill="none"/><text class="g" x="327.90" y="60.90"><tspan font-size="7" fill="#6a6a6a" dy="0.6">ψ</tspan><tspan dy="-0.6" dx="0.6">=60</tspan></text>
<text class="s" x="276.95" y="149.20">(<tspan font-weight="bold">b</tspan>)</text>
</g>
<g id="panel-c">
<clipPath id="cp2"><rect x="397.30" y="15.40" width="138.50" height="104.70"/></clipPath>
<rect x="397.30" y="16.40" width="138.50" height="103.10" fill="none" stroke="#777" stroke-width="0.8"/>
<path d="M397.30 119.50v-1.4M397.30 16.40v1.4M414.61 119.50v-1.4M414.61 16.40v1.4M431.93 119.50v-1.4M431.93 16.40v1.4M449.24 119.50v-1.4M449.24 16.40v1.4M466.55 119.50v-1.4M466.55 16.40v1.4M483.86 119.50v-1.4M483.86 16.40v1.4M501.17 119.50v-1.4M501.17 16.40v1.4M518.49 119.50v-1.4M518.49 16.40v1.4M535.80 119.50v-1.4M535.80 16.40v1.4M397.30 119.50h1.4M535.80 119.50h-1.4M397.30 102.32h1.4M535.80 102.32h-1.4M397.30 85.13h1.4M535.80 85.13h-1.4M397.30 67.95h1.4M535.80 67.95h-1.4M397.30 50.77h1.4M535.80 50.77h-1.4M397.30 33.58h1.4M535.80 33.58h-1.4M397.30 16.40h1.4M535.80 16.40h-1.4" stroke="#777" stroke-width="0.6" fill="none"/>
<g clip-path="url(#cp2)"><g transform="scale(.1)" fill="none" stroke-width="10.0" stroke-linejoin="round">
<path stroke="#0473C2" stroke-width="12" d="M3973 1195L4222 1195l2 0 1-1 1 0 1 0 2 0 1 0 1 0 1 0 2 0 1 0 1-1 1 0 2 0 1 0 1 0 1-1 2 0 1 0 1-1 1 0 2-1 1 0 1-1 2 0 1-1 1-1 1-1 2-1 1-1 1-1 1-1 2-1 1-2 1-1 1-2 2-2 1-2 1-2 1-3 2-2 1-3 1-3 1-3 2-4 1-4 1-4 1-5 2-4 1-6 1-5 2-6 1-7 1-7 1-7 2-8 1-8 1-9 1-9 2-10 1-11 1-11 1-12 2-12 1-13 1-14 1-14 2-15 1-16 1-17 1-17 2-18 1-18 1-20 1-19 2-21 1-21 1-22 2-22 1-23 1-23 1-24 2-23 1-25 1-24 1-24 2-25 1-24 1-24 1-24 2-24 1-23 1-22 1-22 2-20 1-20 1-18 1-18 2-15 1-14 1-13 1-10 2-9 1-6 1-5 2-2 1 0 1 2 1 4 2 8 1 10 1 12 1 16 2 18 1 21 1 24 1 26 2 29 1 31 1 33 1 35 2 37 1 39 1 39 1 41 2 41 1 42 1 41 1 42 2 40 1 40 1 39 1 37 2 34 1 33 1 30 2 27 1 23 1 21 1 16 2 13 1 9 1 5 1 1 2-3 1-8 1-11 1-15 2-19 1-22 1-25 1-28 2-30 1-32 1-34 1-35 2-35 1-35 1-35 1-34 2-32 1-30 1-27 2-25 1-21 1-18 1-13 2-9 1-5 1 0 1 5 2 10 1 14 1 18 1 22 2 27 1 29 1 33 1 35 2 37 1 38 1 38 1 38 2 38 1 36 1 34 1 31 2 27 1 24 1 19 2 14 1 10 1 4 1-1 2-7 1-12 1-17 1-21 2-26 1-29 1-33 1-34 2-36 1-37 1-37 1-36 2-34 1-31 1-28 1-24 2-19 1-14 1-8 1-3 2 3 1 9 1 15 2 20 1 25 1 29 1 33 2 35 1 38 1 38 1 38 2 38 1 35 1 33 1 29 2 25 1 20 1 14 1 8 2 2 1-4 1-10 1-16 2-21 1-26 1-29 1-33 2-35 1-35 1-36 2-35 1-33 1-29 1-26 2-20 1-16 1-9 1-3 2 3 1 9 1 16 1 21 2 26 1 30 1 34 1 36 2 37 1 36 1 36 1 33 2 30 1 25 1 20 1 14 2 8 1 2 1-6 2-11 1-18 1-23 1-28 2-31 1-35 1-35 1-35 2-35 1-32 1-28 1-24 2-18 1-13 1-5 1 1 2 8 1 15 1 21 1 26 2 31 1 33 1 36 1 37 2 36 1 34 1 30 2 27 1 20 1 14 1 7 2 0 1-7 1-15 1-20 2-27 1-31 1-34 1-36 2-36 1-36 1-33 1-29 2-23 1-18 1-10 1-4 2 5 1 12 1 19 1 25 2 30 1 34 1 37 2 37 1 36 1 35 1 30 2 25 1 19 1 12 1 4 2-4 1-11 1-18 1-25 2-30 1-33 1-36 1-36 2-35 1-33 1-28 1-22 2-16 1-8 1 0 1 7 2 16 1 22 1 28 2 32 1 36 1 36 1 37 2 34 1 30 1 25 1 18 2 11 1 3 1-5 1-13 2-21 1-26 1-31 1-35 2-36 1-35 1-34 1-29 2-24 1-17 1-10 1-1 2 7 1 15 1 22 1 28 2 32 1 36 1 37 2 35 1 33 1 28 1 22 2 15 1 7 1-2 1-10 2-18 1-25 1-31 1-34 2-36 1-36 1-34 1-29 2-24 1-17 1-9 1 0 2 9 1 17 1 24 1 30 2 34 1 36 1 37 2 34 1 31 1 25 1 17 2 10 1 0 1-8 1-17 2-24 1-30 1-35 1-36 2-37 1-34 1-29 1-24 2-16 1-7 1 2 1 11 2 19 1 27 1 32 1 36 2 37 1 36 1 34 2 27 1 21 1 13 1 3 2-6 1-16 1-23 1-30 2-35 1-37 1-37 1-35 2-31 1-23 1-16 1-6 2 3 1 13 1 22 1 29 2 34 1 37 1 38 1 37 2 31 1 26 1 17 2 8 1-3 1-12 1-21 2-28 1-35 1-37 1-38 2-37 1-32 1-25 1-17 2-7 1 4 1 13 1 22 2 30 1 35 1 38 1 39 2 36 1 31 1 24 1 15 2 5"/>
<path stroke="#0473C2" stroke-width="11" d="M4837 1195l1-6 1-15 2-25 1-31 1-37 1-38 2-38 1-35 1-28 1-21 2-11 1 0 1 10 1 20 2 28 1 35 1 38 1 39 2 37 1 32 1 25 1 16 2 5 1-5 1-16 1-25 2-32 1-37 1-39 2-37 1-34 1-27 1-18 2-9 1 3 1 14 1 23 2 30 1 37 1 39 1 38 2 35 1 29 1 20 1 10 2-1 1-11 1-22 1-30 2-35 1-38 1-39 1-34 2-29 1-20 1-10 2 1 1 12 1 22 1 30 2 36 1 39 1 38 1 35 2 28 1 19 1 9 1-2 2-13 1-22 1-31 1-36 2-38 1-37 1-33 1-26 2-17 1-6 1 5 1 16 2 25 1 33 1 37 1 38 2 37 1 31 1 23 2 14 1 3 1-9 1-19 2-28 1-34 1-38 1-37 2-34 1-28 1-18 1-8 2 3 1 14 1 24 1 32 2 36 1 38 1 36 1 31 2 23 1 13 1 2 1-9 2-20 1-28 1-34 2-37 1-37 1-32 1-26 2-16 1-5 1 6 1 17 2 26 1 33 1 37 1 37 2 34 1 28 1 18 1 9 2-3 1-15 1-24 1-31 2-36 1-37 1-34 1-28 2-20 1-9 1 2 2 13 1 23 1 31 1 36 2 37 1 35 1 29 1 20 2 10 1-1 1-13 1-22 2-31 1-35 1-36 1-34 2-29 1-19 1-10 1 3 2 13 1 24 1 31 1 36 2 36 1 34 1 27 2 19 1 8 1-4 1-15 2-24 1-31 1-36 1-35 2-32 1-25 1-16 1-5 2 6 1 18 1 26 1 33 2 36 1 35 1 30 1 23 2 13 1 2 1-9 1-20 2-28 1-34 1-35 2-33 1-27 1-19 1-9 2 3 1 14 1 24 1 31 2 34 1 35 1 31 1 24 2 15 1 4 1-8 1-18 2-27 1-32 1-34 1-33 2-27 1-19 1-9 1 3 2 14 1 23 1 30 2 34 1 34 1 30 1 23 2 13 1 2 1-9 1-19 2-27 1-32 1-34 1-31 2-25 1-17 1-5 1 5 2 17 1 25 1 31 1 34 2 32 1 27 1 20 1 9 2-3 1-13 1-23 2-29 1-33 1-33 1-28 2-21 1-10 1 0 1 11 2 22 1 28 1 33 1 33 2 29 1 22 1 13 1 1 2-10 1-19 1-28 1-32 2-33 1-29 1-23 1-13 2-2 1 9 1 19 2 28 1 32 1 32 1 30 2 23 1 14 1 3 1-9 2-20 1-27 1-32 1-33 2-29 1-23 1-13 1-2 2 9 1 20 1 28 1 32 2 33 1 29 1 23 1 12 2 1 1-11 1-21 1-28 2-33 1-34 1-29 2-21 1-11 1 0 1 13 2 22 1 30 1 34 1 33 2 28 1 20 1 9 1-4 2-15 1-25 1-32 1-35 2-33 1-28 1-18 1-6 2 7 1 18 1 28 1 33 2 36 1 32 1 25 2 14 1 2 1-11 1-22 2-32 1-36 1-36 1-31 2-23 1-11 1 3 1 15 2 26 1 34 1 38 1 35 2 29 1 18 1 5 1-9 2-21 1-32 1-37 1-39 2-34 1-26 1-13 2 1 1 14 1 27 1 36 2 39 1 37 1 31 1 20 2 6 1-9 1-22 1-33 2-40 1-40 1-36 1-27 2-13 1 2 1 16 1 29 2 38 1 41 1 39 1 32 2 18 1 5 1-12 2-26 1-36 1-42 1-41 2-36 1-25 1-10 1 6 2 21 1 33 1 41 1 43 2 39 1 28 1 15 1-1 2-17 1-30 1-41 1-44 2-41 1-33 1-20 1-3 2 12 1 28"/>
<path stroke="#E05519" stroke-width="12" d="M3973 1195L4212 1195l1 0 2-1 1 0 1 0 2 0 1 0 1 0 1 0 2 0 1 0 1-1 1 0 2 0 1 0 1 0 1-1 2 0 1 0 1-1 1 0 2-1 1 0 1-1 1 0 2-1 1-1 1-1 1-1 2-1 1-1 1-1 2-1 1-2 1-1 1-2 2-2 1-2 1-3 1-2 2-3 1-3 1-3 1-3 2-4 1-4 1-4 1-5 2-5 1-5 1-6 1-6 2-6 1-7 1-8 1-8 2-8 1-9 1-10 2-10 1-11 1-11 1-12 2-13 1-13 1-14 1-15 2-15 1-16 1-17 1-17 2-19 1-18 1-20 1-20 2-21 1-21 1-22 1-22 2-23 1-23 1-24 1-24 2-24 1-24 1-24 2-25 1-24 1-23 1-24 2-23 1-22 1-22 1-21 2-20 1-18 1-18 1-16 2-14 1-13 1-11 1-9 2-7 1-4 1-3 1 0 2 3 1 5 1 8 1 11 2 13 1 17 1 18 2 22 1 24 1 26 1 29 2 31 1 33 1 35 1 37 2 38 1 39 1 40 1 40 2 41 1 41 1 40 1 40 2 38 1 38 1 35 1 34 2 31 1 29 1 26 1 22 2 20 1 16 1 12 1 8 2 4 1 1 1-4 2-7 1-11 1-15 1-18 2-21 1-24 1-27 1-29 2-31 1-32 1-33 1-33 2-34 1-32 1-32 1-30 2-29 1-25 1-23 1-20 2-16 1-12 1-8 1-3 2 1 1 5 1 10 2 14 1 19 1 22 1 26 2 29 1 32 1 34 1 35 2 37 1 37 1 36 1 36 2 34 1 31 1 29 1 25 2 21 1 16 1 12 1 6 2 2 1-4 1-9 1-14 2-19 1-23 1-27 2-30 1-33 1-34 1-36 2-36 1-35 1-34 1-32 2-28 1-26 1-20 1-17 2-11 1-5 1 0 1 5 2 11 1 16 1 21 1 26 2 29 1 32 1 34 1 36 2 36 1 37 1 35 2 33 1 31 1 27 1 23 2 18 1 13 1 8 1 2 2-3 1-9 1-15 1-19 2-23 1-28 1-30 1-33 2-33 1-35 1-33 1-33 2-30 1-26 1-23 1-18 2-12 1-7 1-1 2 5 1 11 1 16 1 22 2 26 1 30 1 33 1 35 2 36 1 36 1 34 1 32 2 29 1 24 1 19 1 14 2 7 1 2 1-5 1-12 2-17 1-23 1-27 1-30 2-34 1-34 1-35 2-34 1-32 1-29 1-24 2-19 1-13 1-7 1 0 2 6 1 13 1 19 1 25 2 28 1 33 1 35 1 36 2 35 1 35 1 31 1 27 2 23 1 16 1 10 1 3 2-4 1-11 1-18 2-23 1-28 1-32 1-34 2-36 1-35 1-34 1-31 2-26 1-20 1-15 1-7 2 0 1 7 1 15 1 21 2 26 1 31 1 35 1 36 2 36 1 35 1 33 1 28 2 23 1 16 1 10 2 2 1-6 1-13 1-20 2-25 1-31 1-33 1-36 2-35 1-34 1-32 1-26 2-21 1-14 1-6 1 1 2 9 1 16 1 23 1 28 2 33 1 35 1 36 1 36 2 33 1 29 1 24 2 17 1 10 1 2 1-6 2-14 1-21 1-27 1-31 2-34 1-36 1-35 1-32 2-29 1-23 1-17 1-9 2-1 1 8 1 15 1 22 2 28 1 33 1 35 1 36 2 35 1 33 1 27 1 22 2 14 1 7 1-2 2-11 1-18 1-24 1-30 2-34 1-36 1-35 1-34 2-29 1-24 1-17 1-8 2 0 1 8 1 17 1 23 2 30 1 34 1 36 1 36 2 34 1 30 1 25 1 18 2 9 1 1 1-8 2-16 1-24 1-29 1-34 2-36 1-36 1-34 1-30 2-23 1-16 1-8 1 1 2 11 1 18 1 26 1 32 2 35 1 37 1 36 1 33 2 28 1 21 1 13 1 4 2-5 1-15 1-23 2-29 1-34 1-37 1-37 2-34 1-31 1-24 1-16 2-7 1 3 1 12"/>
<path stroke="#E05519" stroke-width="11" d="M4785 918l1 20 2 28 1 34 1 37 1 37 2 36 1 32 1 26 1 18 2 8 1-1 1-11 1-20 2-28 1-33 1-37 2-38 1-37 1-32 1-26 2-17 1-8 1 2 1 12 2 21 1 29 1 35 1 37 2 39 1 36 1 32 1 24 2 16 1 6 1-4 1-15 2-23 1-31 1-36 1-38 2-38 1-35 1-29 2-22 1-12 1-1 1 9 2 19 1 27 1 34 1 37 2 39 1 37 1 33 1 26 2 16 1 7 1-4 1-15 2-24 1-31 1-36 1-39 2-38 1-34 1-28 1-19 2-10 1 2 1 12 2 22 1 30 1 36 1 38 2 39"/>
<path stroke="#E05519" stroke-width="10" d="M4880 1096l1 35 1 30 1 21 2 11 1 1 1-11 1-20 2-29 1-35 1-38 1-38 2-35 1-30 1-21 1-11 2 0 1 10 1 21 1 29 2 36 1 38 1 39 2 35 1 29 1 21 1 10 2-1 1-11 1-22 1-30 2-35 1-38 1-38 1-34 2-27 1-18 1-7 1 4 2 14 1 25 1 31 1 37 2 39 1 37 1 32 1 24 2 15 1 4 1-7 1-18 2-27 1-34 1-37 2-38 1-34 1-29 1-20 2-9 1 2 1 13 1 22 2 31 1 36 1 38 1 37 2 32 1 24 1 14 1 4 2-8 1-19 1-27 1-34 2-37 1-36 1-34 1-26 2-18 1-6 1 4 2 16 1 25 1 33 1 36 2 37 1 35 1 29 1 20 2 9 1-1 1-13 1-23 2-31 1-35 1-37 1-35 2-29 1-21 1-10 1 0 2 12 1 22 1 31 1 35 2 37 1 35 1 29 2 22 1 12 1 0 1-12 2-21 1-29 1-35 1-36 2-35 1-29 1-21 1-10 2 1 1 12 1 22 1 31 2 35 1 36 1 34 1 28 2 20 1 9 1-2 1-13 2-23 1-31 1-34 2-36 1-32 1-26 1-18 2-6 1 5 1 16 1 26 2 32 1 35 1 35 1 31 2 24 1 14 1 4 1-8 2-19 1-27 1-32 1-35 2-33 1-28 1-20 1-10 2 2 1 12 1 23 2 30 1 33 1 35 1 31 2 25 1 16 1 5 1-6 2-17 1-25 1-31 1-34 2-33 1-27 1-20 1-10 2 2 1 12 1 22 1 29 2 33 1 33 1 31 1 23 2 14 1 4 1-8 2-17 1-26 1-31 1-33 2-31 1-25 1-17 1-7 2 4 1 15 1 23 1 30 2 33 1 32 1 27 1 20 2 10 1-1 1-12 1-21 2-28 1-32 1-31 1-28 2-22 1-11 1-2 2 10 1 20 1 27 1 32 2 32 1 29 1 22 1 14 2 3 1-9 1-18 1-26 2-31 1-32 1-29 1-23 2-14 1-4 1 8 1 17 2 26 1 31 1 32 1 30 2 23 1 15 1 4 2-7 1-18 1-26 1-31 2-32 1-30 1-24 1-14 2-4 1 8 1 18 1 26 2 32 1 32 1 30 1 23 2 14 1 2 1-9 1-19 2-28 1-33 1-34 1-30 2-22 1-13 1-1 1 11 2 21 1 30 1 33 2 34 1 29 1 21 1 10 2-2 1-14 1-24 1-32 2-35 1-35 1-29 1-19 2-8 1 5 1 17 1 27 2 33 1 36 1 34 1 27 2 16 1 4 1-10 1-22 2-31 1-37 1-37 2-33 1-25 1-13 1 1 2 14 1 26 1 34 1 38 2 37 1 31 1 20 1 7 2-7 1-21 1-31 1-38 2-40 1-36 1-28 1-16 2-1 1 14 1 26 1 36 2 40 1 39 1 33 2 22 1 8 1-7 1-22 2-32 1-40 1-42 1-38 2-28 1-15 1 0 1 15 2 28 1 38 1 42 1 41 2 33 1 21 1 6 1-10 2-24 1-36 1-42 1-43 2-37 1-27 1-12 2 4 1 20 1 32 1 41 2 44 1 40 1 30 1 17 2 1 1-15 1-30 1-39 2-44 1-43 1-34 1-22 2-6 1 11 1 26 1 38 2 44 1 44 1 37 1 25 2 10 1-7"/>
<path stroke="#F0B21F" stroke-width="12" d="M3973 1195L4179 1195l2 0 1-1 1 0 2 0 1 0 1 0 1 0 2 0 1 0 1 0 1 0 2-1 1 0 1 0 1 0 2 0 1-1 1 0 1 0 2-1 1 0 1 0 1-1 2-1 1 0 1-1 1 0 2-1 1-1 1-1 2-1 1-1 1-1 1-1 2-2 1-1 1-2 1-2 2-2 1-2 1-2 1-3 2-2 1-3 1-3 1-4 2-3 1-4 1-4 1-5 2-5 1-5 1-5 1-6 2-6 1-7 1-7 2-8 1-8 1-8 1-9 2-9 1-10 1-11 1-11 2-12 1-12 1-13 1-13 2-14 1-15 1-15 1-16 2-17 1-17 1-18 1-18 2-19 1-19 1-20 1-21 2-21 1-21 1-22 2-22 1-22 1-23 1-22 2-23 1-23 1-23 1-22 2-22 1-22 1-22 1-20 2-21 1-19 1-18 1-18 2-16 1-15 1-14 1-12 2-11 1-9 1-7 1-5 2-3 1-1 1-2 2 1 1 3 1 6 1 8 2 11 1 14 1 16 1 18 2 21 1 24 1 25 1 28 2 30 1 32 1 34 1 35 2 37 1 38 1 38 1 39 2 40 1 39 1 39 1 39 2 38 1 36 1 35 2 34 1 31 1 28 1 26 2 23 1 20 1 17 1 13 2 9 1 6 1 2 1-2 2-5 1-10 1-13 1-16 2-20 1-23 1-25 1-28 2-30 1-32 1-33 1-33 2-35 1-34 1-33 1-33 2-31 1-29 1-27 2-24 1-21 1-18 1-13 2-10 1-6 1-1 1 3 2 7 1 12 1 16 1 19 2 24 1 27 1 29 1 33 2 34 1 35 1 37 1 37 2 37 1 36 1 34 1 33 2 29 1 27 1 24 2 19 1 15 1 11 1 6 2 1 1-4 1-8 1-13 2-17 1-21 1-25 1-27 2-30 1-32 1-33 1-34 2-33 1-32 1-31 1-29 2-25 1-22 1-18 1-14 2-9 1-4 1 2 2 6 1 11 1 16 1 20 2 24 1 28 1 30 1 33 2 34 1 35 1 35 1 33 2 32 1 30 1 26 1 23 2 18 1 13 1 9 1 3 2-2 1-8 1-12 1-17 2-22 1-25 1-28 2-30 1-32 1-32 1-32 2-31 1-29 1-26 1-22 2-19 1-13 1-9 1-2 2 2 1 8 1 13 1 19 2 22 1 26 1 30 1 31 2 33 1 34 1 32 1 31 2 29 1 25 1 22 2 16 1 11 1 6 1 0 2-5 1-11 1-16 1-21 2-25 1-28 1-30 1-31 2-32 1-31 1-29 1-26 2-23 1-18 1-13 1-7 2-2 1 4 1 10 1 15 2 21 1 24 1 28 2 31 1 32 1 32 1 32 2 29 1 27 1 23 1 19 2 13 1 7 1 2 1-5 2-10 1-16 1-21 1-25 2-28 1-30 1-31 1-30 2-30 1-26 1-24 1-19 2-13 1-8 1-2 2 5 1 10 1 16 1 21 2 25 1 29 1 30 1 32 2 31 1 29 1 27 1 23 2 19 1 13 1 7 1 1 2-6 1-11 1-17 1-22 2-26 1-28 1-30 1-31 2-29 1-27 1-24 2-19 1-14 1-8 1-1 2 4 1 11 1 17 1 21 2 26 1 29 1 30 1 31 2 30 1 27 1 24 1 20 2 14 1 7 1 2 1-5 2-12 1-17 1-22 1-27 2-28 1-31 1-30 2-29 1-26 1-21 1-17 2-11 1-4 1 2 1 9 2 16 1 20 1 26 1 28 2 31 1 31 1 30"/>
<path stroke="#F0B21F" stroke-width="11" d="M4683 1108l1 27 2 23 1 19 1 12 1 6 2-2 1-8 1-14 1-20 2-25 1-29 1-30 1-31 2-30 1-27 1-23 2-17 1-12 1-4 1 2 2 10 1 16 1 22 1 26 2 29 1 32 1 31 1 29 2 27 1 21 1 16 1 9 2 2 1-6 1-12 1-19 2-24 1-29 1-30 1-32 2-30 1-28 1-23 2-18 1-12 1-4 1 4 2 11 1 17 1 24 1 27 2 31 1 32 1 31 1 29 2 25 1 19 1 12 1 5 2-3 1-10 1-17 1-24"/>
<path stroke="#F0B21F" stroke-width="10" d="M4762 1141l2-28 1-31 1-32 1-31 2-28 1-25 1-18 2-12 1-3 1 4 1 12 2 18 1 25 1 29 1 32 2 32 1 32 1 27 1 23 2 17 1 9 1 1 1-6 2-15 1-21 1-27 1-31 2-32 1-33 1-30 1-25 2-20 1-13 1-5 2 3 1 12 1 19 1 25 2 30 1 32 1 33 1 32 2 27 1 23 1 15 1 7 2-1 1-9 1-18 1-24 2-29 1-32 1-33 1-32 2-29 1-23 1-16 1-9 2 1 1 9 1 17 2 24 1 29 1 33 1 33 2 33 1 29 1 23 1 16 2 8 1-1 1-9 1-18 2-25 1-30 1-33 1-34 2-32 1-28 1-22 1-15 2-6 1 3 1 12 1 20"/>
<path stroke="#F0B21F" stroke-width="9" d="M4869 976l2 26 1 32 1 34 2 33 1 32 1 27 1 20 2 12 1 3 1-7 1-15 2-23 1-29 1-33 1-34 2-33 1-30 1-24 1-16 2-8 1 2 1 11 1 20 2 27 1 32 1 34 1 34 2 32 1 27 1 20 2 11 1 1 1-8 1-17 2-24 1-31 1-34 1-35 2-33 1-29 1-21 1-14 2-4 1 6 1 16 1 23 2 30 1 34 1 36 1 34 2 29 1 23 1 15 1 5 2-5 1-15 1-23 1-30 2-34 1-35 1-34 2-30 1-23 1-15 1-5 2 5 1 15 1 24 1 30 2 34 1 36 1 34 1 30 2 23 1 14 1 4 1-7 2-16 1-25 1-31 1-35 2-36 1-34 1-29 1-21 2-12 1-2 1 9 2 19 1 27 1 33 1 36 2 36 1 33 1 27 1 19 2 8 1-2 1-12 1-22 2-30 1-34 1-37 1-36 2-31 1-24 1-14 1-5 2 7 1 17 1 26 1 33 2 36 1 37 1 34 2 28 1 20 1 9 1-1 2-13 1-22 1-31 1-35 2-37 1-36 1-31 1-24 2-13 1-3 1 9 1 19 2 28 1 34 1 37 1 37 2 33 1 27 1 17 1 6 2-5 1-17 1-26 2-34 1-37 1-39 1-35 2-29 1-19 1-9 1 3 2 14 1 25 1 33 1 37 2 39 1 36 1 31 1 21 2 10 1-2 1-13 1-25 2-33 1-38 1-40 1-37 2-31 1-23 1-11 2 1 1 14 1 24 1 33 2 39 1 40 1 38 1 31 2 22 1 11 1-2 1-14 2-26 1-34 1-39 1-40 2-38 1-30 1-22 1-9 2 4 1 16 1 27 1 35 2 40 1 40 1 37 2 30 1 19 1 7 1-6 2-18 1-28 1-36 1-40 2-39 1-34 1-26 1-16 2-3 1 10 1 21 1 31 2 38 1 39 1 38 1 32 2 24 1 12 1-1 1-13 2-24 1-32 1-37 2-37 1-35 1-27 1-18 2-6 1 6 1 18 1 28 2 34 1 38 1 36 1 32 2 24 1 13 1 1 1-11 2-21 1-30 1-34 1-36 2-33 1-26 1-17 1-6 2 6 1 17 1 26 2 33 1 35 1 35 1 29 2 22 1 11 1-1 1-11 2-21 1-29 1-32 1-33 2-29 1-23 1-13 1-2 2 9 1 18 1 27 1 31 2 32 1 30 1 25 1 16 2 7 1-4 1-14 1-22 2-27 1-29 1-28 2-23 1-17 1-7 1 3 2 12 1 20 1 26 1 29 2 28 1 24 1 18 1 10 2 0 1-9 1-17 1-23 2-27 1-27 1-23 1-18 2-10 1-1 1 8 1 16 2 23 1 26 1 27 2 24 1 19 1 11 1 2 2-7 1-16 1-21 1-26 2-26 1-23 1-18 1-11 2-2 1 8 1 15 1 22 2 25 1 26 1 23 1 18 2 11 1 2 1-8 1-15 2-21 1-25 1-25 2-23 1-17 1-9 1-1 2 8 1 16 1 22 1 25 2 25 1 22 1 16 1 9 2 0 1-9 1-17 1-22 2-24 1-25 1-21 1-14 2-7 1 2 1 10 1 18 2 23 1 25 1 24 2 20 1 13 1 5 1-4 2-12 1-19 1-24 1-24 2-23 1-18 1-11 1-3 2 7 1 14 1 21 1 24 2 24 1 22 1 17 1 8 2 0 1-9 1-17 1-22 2-25 1-24"/>
<path stroke="#842F97" stroke-width="12" d="M3973 1195L4134 1195l1 0 2-1 1 0 1 0 1 0 2 0 1 0 1 0 1 0 2 0 1 0 1-1 2 0 1 0 1 0 1 0 2-1 1 0 1 0 1-1 2 0 1-1 1 0 1-1 2 0 1-1 1 0 1-1 2-1 1-1 1-1 1-1 2-1 1-1 1-2 1-1 2-2 1-1 1-2 2-2 1-2 1-3 1-2 2-3 1-3 1-3 1-4 2-3 1-4 1-4 1-5 2-5 1-5 1-5 1-6 2-6 1-7 1-7 1-7 2-8 1-9 1-8 1-10 2-10 1-10 1-11 2-11 1-12 1-13 1-13 2-13 1-15 1-14 1-16 2-16 1-16 1-18 1-17 2-19 1-18 1-20 1-19 2-20 1-21 1-21 1-21 2-22 1-21 1-22 1-22 2-22 1-22 1-22 2-21 1-22 1-20 1-21 2-20 1-19 1-18 1-17 2-17 1-15 1-14 1-13 2-11 1-10 1-8 1-6 2-5 1-2 1-1 1 0 2 2 1 4 1 7 1 9 2 12 1 14 1 16 2 19 1 21 1 23 1 25 2 27 1 29 1 31 1 32 2 34 1 35 1 36 1 37 2 37 1 38 1 37 1 38 2 37 1 36 1 35 1 34 2 32 1 30 1 28 1 26 2 23 1 21 1 17 2 14 1 11 1 8 1 4 2 1 1-3 1-6 1-10 2-12 1-16 1-19 1-22 2-24 1-26 1-28 1-29 2-31 1-31 1-32 1-32 2-31 1-30 1-30 1-27 2-25 1-23 1-20 2-17 1-14 1-10 1-6 2-3 1 2 1 5 1 9 2 13 1 17 1 20 1 23 2 27 1 28 1 31 1 32 2 34 1 34 1 35 1 34 2 33 1 31 1 30 1 27 2 25 1 21 1 17 1 14 2 9 1 5 1 1 2-4 1-8 1-13 1-16 2-20 1-23 1-26 1-28 2-30 1-32 1-31 1-32 2-31 1-30 1-27 1-25 2-22 1-18 1-14 1-10 2-6 1 0 1 4 1 9 2 13 1 18 1 21 2 25 1 27 1 31 1 31 2 33 1 33 1 32 1 32 2 29 1 27 1 24 1 20 2 16 1 12 1 7 1 2 2-2 1-8 1-11 1-16 2-20 1-22 1-26 1-27 2-28 1-29 1-29 2-28 1-26 1-23 1-20 2-17 1-13 1-8 1-4 2 1 1 6 1 11 1 15 2 19 1 22 1 26 1 27 2 29 1 29 1 30 1 28 2 26 1 25 1 20 1 18 2 13 1 8 1 4 2-1 1-6 1-10 1-15 2-18 1-21 1-24 1-26 2-26 1-27 1-26 1-24 2-22 1-19 1-15 1-11 2-7 1-2 1 3 1 8 2 12 1 16 1 20 1 23 2 24 1 27 1 27"/>
<path stroke="#842F97" stroke-width="11" d="M4528 1055l2 27 1 25 1 24 1 21 2 17 1 13 1 9 1 4 2-1 1-6 1-11 1-15 2-18 1-22 1-24 1-26 2-26 1-26 1-24 1-22 2-19 1-15 1-11 1-7 2-1 1 4 1 9 2 13 1 18 1 21 1 24 2 25 1 27 1 26 1 25 2 24 1 20 1 16 1 13 2 7 1 2 1-3 1-8 2-13 1-17"/>
<path stroke="#842F97" stroke-width="10" d="M4585 1154l1-21 1-23 2-25 1-26 1-26 1-24 2-22 1-19 1-15 2-10 1-5 1 1 1 6 2 10 1 16 1 19 1 23 2 25 1 26 1 26 1 26 2 23 1 20 1 17 1 11 2 7 1 1 1-5 1-9 2-15 1-19 1-22 1-24 2-26 1-26 1-25 2-23 1-20 1-15 1-11 2-5 1 0 1 6 1 11 2 16 1 20 1 24 1 25 2 27 1 26 1 25 1 22 2 18 1 14 1 8 1 3 2-3 1-9 1-14 1-18 2-22"/>
<path stroke="#842F97" stroke-width="9" d="M4662 1129l1-25 1-26 2-27 1-25 1-23 1-19 2-15 1-10 1-3 1 2 2 8 1 13 1 19 1 22 2 25 1 27 1 27 1 26 2 23 1 19 1 15 1 10 2 3 1-3 1-9 1-14 2-19 1-24 1-25 1-27 2-27 1-26 1-22 2-18 1-13 1-8 1-1 2 6 1 11 1 17 1 22 2 25 1 27 1 27 1 27 2 24 1 21 1 15 1 10 2 4 1-3 1-9 1-16 2-20 1-24 1-27 1-28 2-27 1-25 1-22 2-17 1-11 1-4 1 2 2 8 1 15 1 20 1 25 2 27 1 28 1 28 1 25 2 22 1 17 1 11 1 5 2-3 1-9 1-15 1-21 2-25 1-27 1-29 1-28"/>
<path stroke="#842F97" stroke-width="8" d="M4767 1038l2-25 1-21 1-16 2-10 1-2 1 4 1 11 2 18 1 22 1 27 1 28 2 29 1 27 1 24 1 20 2 13 1 7 1 0 1-8 2-14 1-20 1-25 1-28 2-29 1-28 1-26 1-21 2-17 1-9 1-2 2 5 1 12 1 18 1 24 2 27 1 30 1 28 1 27 2 24 1 18 1 11 1 4 2-3 1-11 1-18 1-23 2-26 1-29 1-29 1-28 2-23 1-18 1-12 1-5 2 4 1 11 1 17 2 23 1 27 1 29 1 30 2 27 1 24 1 18 1 11 2 4 1-4 1-11 1-18 2-24 1-27 1-29 1-29 2-27 1-22 1-17 1-9 2-2 1 6 1 14 1 20 2 25 1 28 1 29 2 29 1 26 1 20 1 15 2 6 1-1 1-8 1-16 2-22 1-26 1-29 1-29 2-27 1-23 1-17 1-11 2-3 1 6 1 13 1 19 2 25 1 28 1 29 1 28 2 25 1 20 1 14 2 6 1-2 1-10 1-17 2-23 1-27 1-28 1-28 2-26"/>
<path stroke="#842F97" stroke-width="7" d="M4919 1034l1-21 1-15 1-8 2 1 1 8 1 16 1 22 2 26 1 28 1 29 1 26 2 22 1 17 1 8 1 1 2-7 1-14 1-21 1-25 2-28 1-28 1-26 2-21 1-16 1-9 1-1 2 8 1 14 1 21 1 26 2 27 1 28 1 26 1 22 2 15 1 9 1 0 1-7 2-15 1-21 1-25 1-27 2-27 1-25 1-20 1-14 2-6 1 1 1 9 2 17 1 22 1 25 1 28 2 27 1 23 1 19 1 12 2 5 1-3 1-11 1-18 2-22 1-26 1-27 1-25 2-21 1-16 1-9 1-1 2 6 1 14 1 20 1 24 2 27 1 26 1 24 2 19 1 13 1 6 1-2 2-10 1-16 1-22 1-25 2-25 1-25 1-21 1-15 2-9 1 0 1 6 1 14 2 20 1 24 1 25 1 25 2 23 1 18 1 11 1 4 2-4 1-10 1-17 2-22 1-24 1-24 1-23 2-18 1-12 1-6 1 2 2 10 1 15 1 21 1 24 2 24 1 23 1 19 1 14 2 7 1 0 1-7 1-14 2-18 1-22 1-23 1-22 2-18 1-14 1-7 2 0 1 7 1 13 1 18 2 22 1 22 1 22 1 19 2 14 1 8 1 1 1-6 2-12 1-17 1-20 1-21 2-20 1-17 1-13 1-7 2 0 1 7 1 12 1 17 2 20 1 21 1 20 2 16 1 13 1 6 1 0 2-6 1-12 1-16 1-19 2-19 1-18 1-15 1-10 2-5 1 2 1 7 1 13 2 17 1 19 1 19 1 17 2 14 1 9 1 4 1-2 2-8 1-13 1-17 2-17 1-18 1-15 1-12 2-7 1-1 1 5 1 9 2 14 1 17 1 18 1 17 2 14 1 10 1 6 1-1 2-6 1-10 1-15 1-16 2-16 1-15 1-12 1-7 2-2 1 3 1 8 2 13 1 15 1 16 1 16 2 13 1 10 1 5 1 0 2-5 1-9 1-13 1-15 2-15 1-14 1-10 1-7 2-1 1 3 1 8 1 11 2 14 1 15 1 14 1 12 2 9 1 4 1-1 1-6 2-9 1-12 1-14 2-13 1-12 1-9 1-5 2 0 1 4 1 8 1 12 2 13 1 14 1 12 1 10 2 6 1 2 1-2 1-7 2-10 1-12 1-13 1-11 2-10 1-7 1-2 1 2 2 6 1 9 1 11 2 13 1 12 1 10 1 7 2 4 1-1 1-5 1-8 2-10 1-12 1-11 1-10 2-7 1-3 1 0 1 5 2 7 1 11 1 11 1 11 2 10 1 8 1 3 1 1 2-4 1-7 1-9 2-11 1-11 1-9 1-7 2-4 1 0 1 4 1 7 2 10 1 10 1 11 1 9 2 7 1 3 1 1 1-4 2-6 1-9 1-10 1-10 2-9 1-6 1-3 1 0 2 4 1 7 1 9 2 10 1 10 1 8 1 6 2 3 1-1 1-4 1-6 2-9 1-10 1-9 1-8 2-5 1-2 1 2 1 4 2 7 1 9 1 10 1 9 2 7 1 4 1 2 1-2 2-5 1-7"/>
</g></g>
<text class="k" text-anchor="middle" x="397.30" y="125.70">-10</text><text class="k" text-anchor="middle" x="414.61" y="125.70">-5</text><text class="k" text-anchor="middle" x="431.93" y="125.70">0</text><text class="k" text-anchor="middle" x="449.24" y="125.70">5</text><text class="k" text-anchor="middle" x="466.55" y="125.70">10</text><text class="k" text-anchor="middle" x="483.86" y="125.70">15</text><text class="k" text-anchor="middle" x="501.17" y="125.70">20</text><text class="k" text-anchor="middle" x="518.49" y="125.70">25</text><text class="k" text-anchor="middle" x="535.80" y="125.70">30</text>
<text class="k" text-anchor="end" x="395.10" y="121.00">0</text><text class="k" text-anchor="end" x="395.10" y="103.82">0.05</text><text class="k" text-anchor="end" x="395.10" y="86.63">0.1</text><text class="k" text-anchor="end" x="395.10" y="69.45">0.15</text><text class="k" text-anchor="end" x="395.10" y="52.27">0.2</text><text class="k" text-anchor="end" x="395.10" y="35.08">0.25</text><text class="k" text-anchor="end" x="395.10" y="17.90">0.3</text>
<text class="t" x="466.55" y="12.40">Cubic phase mask</text>
<text class="l" x="466.25" y="135.50">Simulated image plane coordinate</text>
<text class="l" style="font-size:8.9px" transform="translate(384.00 67.55) rotate(-90)">PSF</text>
<rect x="495.70" y="19.40" width="37.20" height="44.10" fill="#fff" stroke="#7a7a7a" stroke-width="0.6"/>
<path d="M497.20 25.50h12" stroke="#0473C2" stroke-width="1.1" fill="none"/><text class="g" x="511.00" y="28.80"><tspan font-size="7" fill="#6a6a6a" dy="0.6">ψ</tspan><tspan dy="-0.6" dx="0.6">=0</tspan></text>
<path d="M497.20 36.20h12" stroke="#E05519" stroke-width="1.1" fill="none"/><text class="g" x="511.00" y="39.50"><tspan font-size="7" fill="#6a6a6a" dy="0.6">ψ</tspan><tspan dy="-0.6" dx="0.6">=20</tspan></text>
<path d="M497.20 46.90h12" stroke="#F0B21F" stroke-width="1.1" fill="none"/><text class="g" x="511.00" y="50.20"><tspan font-size="7" fill="#6a6a6a" dy="0.6">ψ</tspan><tspan dy="-0.6" dx="0.6">=40</tspan></text>
<path d="M497.20 57.60h12" stroke="#842F97" stroke-width="1.1" fill="none"/><text class="g" x="511.00" y="60.90"><tspan font-size="7" fill="#6a6a6a" dy="0.6">ψ</tspan><tspan dy="-0.6" dx="0.6">=60</tspan></text>
<text class="s" x="460.35" y="149.20">(<tspan font-weight="bold">c</tspan>)</text>
</g>
<g id="panel-d">
<clipPath id="cp3"><rect x="28.70" y="164.30" width="138.90" height="104.80"/></clipPath>
<rect x="28.70" y="165.30" width="138.90" height="103.20" fill="none" stroke="#777" stroke-width="0.8"/>
<path d="M28.70 268.50v-1.4M28.70 165.30v1.4M46.06 268.50v-1.4M46.06 165.30v1.4M63.42 268.50v-1.4M63.42 165.30v1.4M80.79 268.50v-1.4M80.79 165.30v1.4M98.15 268.50v-1.4M98.15 165.30v1.4M115.51 268.50v-1.4M115.51 165.30v1.4M132.88 268.50v-1.4M132.88 165.30v1.4M150.24 268.50v-1.4M150.24 165.30v1.4M167.60 268.50v-1.4M167.60 165.30v1.4M28.70 268.50h1.4M167.60 268.50h-1.4M28.70 255.60h1.4M167.60 255.60h-1.4M28.70 242.70h1.4M167.60 242.70h-1.4M28.70 229.80h1.4M167.60 229.80h-1.4M28.70 216.90h1.4M167.60 216.90h-1.4M28.70 204.00h1.4M167.60 204.00h-1.4M28.70 191.10h1.4M167.60 191.10h-1.4M28.70 178.20h1.4M167.60 178.20h-1.4M28.70 165.30h1.4M167.60 165.30h-1.4" stroke="#777" stroke-width="0.6" fill="none"/>
<g clip-path="url(#cp3)"><g transform="scale(.1)" fill="none" stroke-width="10.0" stroke-linejoin="round">
<path stroke="#0473C2" stroke-width="12" d="M287 2685L514 2685l2 0 1-1 1 0 1 0 2 0 1 0 1 0 1 0 2 0 1 0 1-1 1 0 2 0 1 0 1 0 1-1 2 0 1 0 1-1 2 0 1-1 1 0 1-1 2 0 1-1 1-1 1 0 2-1 1-1 1-1 1-1 2-2 1-1 1-1 1-2 2-2 1-2 1-2 2-2 1-2 1-3 1-3 2-3 1-3 1-4 1-4 2-4 1-4 1-5 1-5 2-5 1-6 1-7 1-6 2-7 1-8 1-8 2-9 1-9 1-10 1-10 2-11 1-11 1-12 1-13 2-13 1-14 1-15 1-15 2-16 1-16 1-18 1-18 2-18 1-20 1-20 2-20 1-21 1-22 1-22 2-23 1-23 1-24 1-24 2-24 1-24 1-25 1-24 2-25 1-24 1-24 1-24 2-23 1-23 1-22 2-21 1-20 1-20 1-18 2-16 1-16 1-13 1-12 2-10 1-8 1-7 1-3 2-2 1 12 1 17 1 19 2 21 1 23 1 25 2 27 1 29 1 30 1 32 2 32 1 34 1 35 1 36 2 37 1 36 1 38 1 37 2 37 1 36 1 36 1 35 2 34 1 34 1 31 1 30 2 29 1 26 1 25 2 22 1 20 1 18 1 16 2 12 1 11 1 7 1 6 2 3 1 0 1-2 1-5 2-6 1-9 1-10 1-12 2-14 1-15 1-15 2-17 1-18 1-17 1-18 2-18 1-17 1-17 1-15 2-15 1-13 1-12 1-10 2-9 1-6 1-4 1-2 2 0 1 2 1 4 2 7 1 8 1 11 1 12 2 14 1 16 1 16 1 18 2 18 1 18 1 19 1 18 2 18 1 17 1 16 1 14 2 14 1 11 1 9 2 8 1 5 1 2 1 1 2-2 1-4 1-6 1-9 2-10 1-12 1-14 1-14 2-16 1-16 1-16 1-16 2-15 1-15 1-14 2-12 1-10 1-8 1-6 2-3 1-1 1 2 1 4 2 7 1 10 1 12 1 14 2 15 1 17 1 18 1 18 2 18 1 17 1 16 2 15 1 12 1 11 1 7 2 5 1 1 1-2 1-5 2-8 1-11 1-13 1-16 2-17 1-18 1-18 1-18 2-18 1-16 1-14 1-12 2-9 1-7 1-2 2 0 1 4 1 8 1 10 2 13 1 15 1 18 1 18 2 19 1 18 1 18 1 17 2 15 1 12 1 10 1 6 2 3 1-1 1-4 2-7 1-10 1-12 1-15 2-16 1-16 1-17 1-17 2-15 1-14 1-11 1-8 2-6 1-2 1 1 1 4 2 8 1 10 1 13 2 15 1 16 1 17 1 17 2 16 1 15 1 13 1 11 2 8 1 5 1 2 1-2 2-4 1-8 1-10 1-13 2-14 1-15 1-16 2-15 1-14 1-12 1-10 2-8 1-4 1-1 1 2 2 6 1 8 1 11 1 13 2 15 1 15 1 16 1 15 2 14 1 11 1 10 2 6 1 4 1 0 1-4 2-6 1-9 1-12 1-13 2-15 1-14 1-15 1-13 2-12 1-9 1-6 1-3 2 0 1 4 1 7 2 10 1 12 1 14 1 14 2 15 1 15 1 13 1 11 2 9 1 5 1 2 1-2 2-4 1-8 1-11 1-13 2-14 1-14 1-15 2-13 1-11 1-9 1-5 2-3 1 2 1 4 1 8 2 11 1 13 1 14 1 15 2 14 1 14 1 11 1 8 2 6 1 2 1-2 1-5 2-8 1-11 1-13 2-14 1-14 1-14 1-12 2-10 1-7 1-4 1 0 2 3 1 7 1 10 1 13 2 13 1 15 1 14 1 13 2 11 1 9 1 5"/>
<path stroke="#0473C2" stroke-width="11" d="M1033 2684l2 1 1-2 1-6 1-9 2-12 1-13 1-14 1-14 2-13 1-11 1-8 1-5 2-1 1 2 1 6 1 10 2 11 1 14 1 14 2 14 1 13 1 11 1 8 2 4 1 1 1-3 1-7 2-10 1-12 1-14 1-14 2-14 1-11 1-10 1-6 2-2 1 1 1 6 2 8 1 12 1 13 1 14 2 14 1 13 1 11 1 7 2 4 1-1 1-4 1-8 2-10"/>
<path stroke="#0473C2" stroke-width="10" d="M1098 2662l1-13 1-14 1-14 2-13 1-10 1-8 2-3 1 0 1 4 1 8 2 11 1 13 1 14 1 14 2 12 1 11 1 7 1 4 2-1 1-4 1-8 1-11 2-14 1-13 1-14 2-12 1-10 1-6 1-2 2 2 1 6 1 9 1 13 2 13 1 14 1 14 1 11 2 8 1 4 1 1 1-4 2-8 1-11 1-13 1-14 2-13 1-12 1-9 2-6 1-2 1 3 1 7 2 10 1 12 1 14 1 14 2 12 1 10 1 7 1 3 2-2 1-5 1-9 1-12 2-13 1-14 1-13 2-10 1-7 1-4 1 1 2 5 1 9 1 12 1 13 2 13 1 13 1 11 1 8 2 4 1-1 1-4 1-8 2-12 1-13 1-13 2-13 1-10 1-8 1-4 2 0 1 5 1 8 1 11 2 13 1 14 1 12 1 11 2 8 1 4 1-1 1-4 2-9 1-11 1-12 2-14 1-12 1-11 1-7 2-3 1 1 1 5 1 9 2 11 1 13 1 14 1 12 2 10 1 6 1 3 1-2 2-5 1-9 1-12 2-13 1-13 1-12 1-9 2-5 1-2 1 3 1 7 2 9 1 13 1 13 1 13 2 11 1 8 1 4 1 1 2-4 1-8 1-11 2-12 1-13 1-12 1-10 2-7 1-3 1 1 1 6 2 9 1 12 1 13 1 12 2 12 1 9 1 5 1 1 2-3 1-8 1-10 1-12 2-13 1-12 1-10 2-7 1-3 1 1 1 6 2 9 1 11 1 13 1 13 2 11 1 8 1 5 1 1 2-4 1-8 1-10 1-12 2-13 1-12 1-9 2-7 1-2 1 3 1 6 2 9 1 12 1 13 1 12 2 11 1 7 1 4 1-1 2-5 1-8 1-11 1-13 2-12 1-11 1-8 2-5 1-1 1 4 1 7 2 10 1 12 1 13 1 12 2 9 1 6 1 2 1-2 2-6 1-9 1-12 1-12 2-12 1-10 1-7 2-3 1 1 1 4 1 9 2 11 1 12 1 12 1 11 2 8 1 4 1 1 1-4 2-7 1-10 1-12 1-12 2-11 1-9 1-5 2-2 1 2 1 7 1 9 2 12 1 12 1 11 1 10 2 6 1 3 1-1 1-5 2-9 1-11 1-12 1-11 2-10 1-8 1-3 2 0 1 4 1 8 1 10 2 12 1 11 1 11 1 8 2 5 1 1 1-3 1-7 2-9 1-12 1-11 1-11 2-9 1-5 1-2 1 2 2 6 1 8 1 11 2 12 1 11 1 10 1 6 2 3 1-1 1-5 1-8 2-10 1-12 1-11 1-10 2-7 1-4 1 1 1 4 2 7 1 10 1 11 2 11 1 11 1 7 1 5 2 1 1-3 1-7 1-9 2-11 1-11 1-11 1-8 2-5 1-2 1 2 1 6 2 9 1 11 1 11 2 11 1 9 1 6 1 2 2-1 1-5 1-9 1-10 2-11 1-11 1-9 1-6 2-3 1 0 1 5 1 7 2 10 1 11 1 11 2 10 1 7 1 3 1 1 2-4 1-7 1-9 1-11 2-11 1-10 1-7 1-5 2 0 1 3 1 6 1 9 2 11 1 11 1 10 2 8 1 5 1 1 1-2 2-6 1-8 1-11 1-10 2-11 1-8 1-5 1-2 2 1 1 6 1 8 1 10 2 10 1 11 1 8 2 6 1 3 1-1 1-5 2-7 1-10 1-11 1-10 2-9 1-6 1-3 1 0 2 5 1 7 1 9 1 11 2 10 1 9 1 7 1 4 2 0 1-4 1-7 2-9 1-10 1-10 1-10 2-7 1-4 1 0 1 3 2 7 1 8 1 11 1 10 2 9 1 8 1 4 1 1 2-3 1-6 1-8 2-10 1-10 1-10 1-7 2-5 1-1 1 2 1 6 2 8 1 10 1 10 1 10 2 7 1 5 1 2 1-2 2-5 1-8 1-10 2-10 1-10 1-7 1-6 2-1 1 1 1 5 1 8 2 9 1 11 1 9 1 8 2 6 1 2 1-1 1-5 2-7 1-10"/>
<path stroke="#E05519" stroke-width="12" d="M287 2685L509 2685l2 0 1-1 1 0 1 0 2 0 1 0 1 0 1 0 2 0 1 0 1-1 1 0 2 0 1 0 1 0 1-1 2 0 1 0 1-1 1 0 2-1 1 0 1-1 2 0 1-1 1-1 1-1 2-1 1-1 1-1 1-1 2-2 1-1 1-2 1-2 2-2 1-2 1-2 1-3 2-2 1-3 1-3 2-4 1-4 1-4 1-4 2-5 1-5 1-5 1-6 2-6 1-7 1-7 1-7 2-9 1-8 1-9 1-10 2-10 1-11 1-11 2-12 1-12 1-13 1-14 2-15 1-15 1-15 1-16 2-17 1-18 1-18 1-18 2-19 1-19 1-20 1-21 2-20 1-21 1-21 2-21 1-22 1-21 1-21 2-21 1-20 1-20 1-20 2-19 1-18 1-17 1-16 2-16 1-13 1-13 1-11 2-9 1-7 1-6 2-3 1-2 1 3 1 6 2 9 1 11 1 13 1 16 2 19 1 20 1 23 1 26 2 27 1 29 1 30 1 32 2 33 1 34 1 35 2 35 1 36 1 35 1 35 2 34 1 33 1 32 1 30 2 29 1 26 1 25 1 21 2 19 1 17 1 13 1 10 2 8 1 4 1 1 1-2 2-5 1-7 1-11 2-12 1-15 1-17 1-19 2-20 1-22 1-22 1-22 2-23 1-22 1-22 1-20 2-20 1-18 1-16 1-14 2-12 1-9 1-7 2-3 1-1 1 1 1 5 2 7 1 11 1 12 1 15 2 16 1 19 1 20 1 20 2 22 1 22 1 22 1 22 2 22 1 20 1 20 2 18 1 16 1 14 1 12 2 10 1 7 1 5 1 3 2 0 1-3 1-5 1-7 2-10 1-11 1-13 1-15 2-15 1-17 1-17 2-17 1-17 1-16 1-16 2-14 1-13 1-11 1-10 2-6 1-5 1-2 1 1 2 4 1 6 1 8 1 12 2 13 1 15 1 16 2 18 1 19 1 18 1 19 2 18 1 17 1 15 1 13 2 11 1 9 1 5 1 3 2-1 1-3 1-7 1-9 2-13 1-14 1-16 2-18 1-18 1-19 1-18 2-18 1-16 1-15 1-12 2-10 1-6 1-3 1 0 2 4 1 7 1 10 1 13 2 16 1 17 1 19 1 20 2 19 1 19 1 18 2 17 1 13 1 11 1 8 2 4 1 1 1-3 1-7 2-10 1-12 1-15 1-17 2-18 1-18 1-18 1-17 2-15 1-13 1-10 2-7 1-3 1 0 1 4 2 8 1 10 1 13 1 16 2 17 1 18 1 18 1 18 2 16 1 15 1 12 1 9 2 6 1 3 1-1 2-4 1-8 1-10 1-12 2-14 1-16 1-15 1-16 2-14 1-12 1-10 1-8 2-4 1-2 1 3 1 5 2 9 1 11 1 13 2 15 1 15 1 16 1 15 2 14 1 11 1 9 1 7 2 3 1-1 1-3 1-7 2-9 1-11 1-14 1-13 2-15 1-13 1-13 2-10 1-8 1-5 1-2 2 1 1 4 1 7 1 10 2 12 1 13 1 14 1 14 2 13 1 12 1 10 1 8 2 4 1 2 1-2 2-4 1-8 1-10 1-11 2-13 1-13 1-13 1-12 2-11 1-8 1-5 1-2 2 1 1 4 1 7 1 10 2 11 1 13 1 14 2 13 1 12 1 11 1 8 2 6 1 2 1-1 1-4 2-7 1-10 1-11 1-13 2-13 1-13 1-12 1-9 2-7 1-4 1-1 1 2 2 6 1 8 1 11 2 13 1 13 1 13 1 12 2 11 1 8 1 6 1 2 2-1 1-5"/>
<path stroke="#E05519" stroke-width="11" d="M1022 2679l1-7 1-10 2-12 1-13 1-13 1-12 2-11 1-8 1-5 2-3 1 2 1 4 1 8 2 10 1 12 1 13 1 13 2 12 1 11 1 8 1 5 2 2 1-2 1-5 1-8 2-11 1-12 1-13 2-12 1-12 1-9 1-7 2-3 1 0 1 4 1 6 2 10 1 12 1 13 1 13 2 12 1 10 1 8 1 5 2 1 1-3 1-5 2-9 1-11"/>
<path stroke="#E05519" stroke-width="10" d="M1084 2657l1-13 1-13 2-12 1-10 1-8 1-5 2-1 1 2 1 6 1 9 2 11 1 13 1 12 1 13 2 10 1 8 1 5 2 1 1-3 1-6 1-9 2-11 1-13 1-12 1-12 2-10 1-7 1-3 1 0 2 4 1 7 1 10 1 12 2 13 1 13 1 11 2 9 1 5 1 2 1-2 2-6 1-8 1-12 1-12 2-13 1-11 1-10 1-6 2-3 1 0 1 5 1 8 2 10 1 13 1 12 1 12 2 11 1 7 1 4 2 1 1-4 1-7 1-10 2-11 1-13 1-12 1-10 2-8 1-5 1-1 1 3 2 7 1 9 1 12 1 12 2 12 1 11 1 8 2 6 1 1 1-3 1-6 2-9 1-11 1-12 1-12 2-11 1-8 1-5 1-1 2 2 1 6 1 9 1 11 2 12 1 13 1 10 2 9 1 5 1 1 1-3 2-6 1-9 1-11 1-12 2-12 1-10 1-8 1-4 2-1 1 3 1 6 1 10 2 11 1 12 1 12 2 10 1 7 1 4 1 1 2-4 1-7 1-10 1-11 2-12 1-11 1-10 1-6 2-3 1 1 1 4 1 8 2 10 1 12 1 12 2 11 1 8 1 6 1 2 2-2 1-5 1-9 1-11 2-12 1-11 1-10 1-8 2-4 1 0 1 3 1 7 2 10 1 11 1 12 2 11 1 9 1 6 1 3 2-1 1-5 1-8 1-11 2-11 1-12 1-10 1-8 2-4 1-1 1 4 1 6 2 10 1 11 1 12 1 11 2 9 1 6 1 2 2-2 1-5 1-8 1-11 2-12 1-11 1-10 1-7 2-3 1 0 1 4 1 8 2 10 1 11 1 12 1 10 2 8 1 5 1 1 2-3 1-6 1-9 1-11 2-11 1-11 1-9 1-6 2-2 1 2 1 5 1 8 2 10 1 12 1 11 1 9 2 7 1 4 1-1 2-4 1-7 1-9 1-11 2-11 1-10 1-8 1-5 2 0 1 2 1 7 1 9 2 10 1 11 1 11 1 8 2 6 1 2 1-2 2-5 1-8 1-10 1-11 2-11 1-9 1-6 1-3 2 1 1 4 1 7 1 10 2 11 1 10 1 10 1 7 2 4 1 1 1-3 2-7 1-9 1-10 1-11 2-10 1-8 1-5 1-1 2 2 1 6 1 8 1 10 2 11 1 10 1 9 1 5 2 3 1-1 1-5 2-7 1-10 1-11 1-10 2-9 1-6 1-3 1 0 2 4 1 7 1 9 1 10 2 11 1 9 1 7 1 4 2 1 1-3 1-6 1-9 2-10 1-10 1-10 2-7 1-5 1-2 1 3 2 5 1 8 1 10 1 10 2 10 1 8 1 6 1 2 2-1 1-5 1-7 1-10 2-10 1-10 1-8 2-6 1-3 1 0 1 4 2 7 1 9 1 10 1 10 2 9 1 7 1 3 1 1 2-3 1-7 1-8 1-10 2-10 1-9 1-7 2-4 1-1 1 2 1 6 2 8 1 10 1 10 1 9 2 7 1 5 1 2 1-2 2-5 1-7 1-10 1-10 2-9 1-8 1-5 2-2 1 1 1 4 1 8 2 9 1 9 1 10 1 8 2 6 1 3 1-1 1-4 2-6 1-9 1-10 1-9 2-8 1-7 1-3 2 0 1 3 1 7 1 8 2 10 1 9 1 9 1 6 2 4 1 1 1-3 1-6 2-8 1-9 1-10 1-8 2-7 1-4 1-1 2 2 1 5 1 8 1 9 2 10 1 9 1 7 1 5 2 1 1-2 1-5 1-7 2-9 1-9 1-9 1-8 2-5 1-1 1 1 1 5 2 7 1 8 1 10 2 9 1 7 1 6 1 2 2-1 1-4 1-7 1-8 2-10 1-9 1-7 1-6 2-2 1 0 1 4 1 7 2 8 1 9 1 9 2 8 1 6 1 3 1-1 2-3 1-6 1-8 1-9 2-9 1-8 1-6 1-3 2 0 1 3 1 6 1 8 2 9 1 9 1 8 2 6 1 3 1 1 1-3 2-6 1-8 1-8 1-9 2-9 1-6 1-3 1-1 2 3 1 5 1 8 1 9 2 9 1 8"/>
<path stroke="#F0B21F" stroke-width="12" d="M287 2685L464 2685l1 0 1-1 2 0 1 0 1 0 1 0 2 0 1 0 1 0 1 0 2 0 1 0 1-1 1 0 2 0 1 0 1 0 2-1 1 0 1 0 1 0 2-1 1 0 1-1 1 0 2-1 1 0 1-1 1 0 2-1 1-1 1-1 1 0 2-1 1-1 1-1 2-2 1-1 1-1 1-2 2-1 1-2 1-2 1-2 2-2 1-2 1-2 1-3 2-3 1-3 1-3 1-3 2-4 1-3 1-4 1-4 2-5 1-5 1-4 2-6 1-5 1-6 1-6 2-6 1-7 1-7 1-7 2-8 1-8 1-8 1-9 2-9 1-9 1-10 1-10 2-10 1-10 1-11 2-11 1-12 1-11 1-12 2-12 1-13 1-12 1-13 2-12 1-13 1-13 1-13 2-12 1-13 1-12 1-13 2-12 1-12 1-11 2-11 1-11 1-10 1-9 2-9 1-8 1-8 1-6 2-6 1-5 1-4 1-3 2-1 1-1 1-3 1-2 2-1 1 1 1 2 2 3 1 5 1 7 1 8 2 9 1 11 1 12 1 14 2 15 1 16 1 18 1 18 2 20 1 20 1 22 1 22 2 23 1 23 1 23 2 23 1 23 1 23 1 23 2 21 1 21 1 20 1 19 2 18 1 16 1 14 1 13 2 10 1 9 1 6 1 5 2 2 1 0 1-3 2-5 1-6 1-9 1-12 2-13 1-15 1-16 1-18 2-19 1-21 1-21 1-21 2-22 1-22 1-22 1-21 2-20 1-19 1-18 1-16 2-14 1-13 1-10 2-8 1-5 1-2 1 0 2 2 1 6 1 8 1 11 2 13 1 16 1 17 1 20 2 21 1 22 1 23 1 24 2 24 1 23 1 24 2 22 1 21 1 20 1 18 2 16 1 13 1 11 1 8 2 5 1 3 1-1 1-3 2-6 1-8 1-11 1-14 2-15 1-16 1-18 2-19 1-19 1-20 1-19 2-18 1-18 1-16 1-14 2-13 1-10 1-8 1-5 2-2 1 0 1 3 1 6 2 8 1 11 1 13 2 15 1 16 1 18 1 19 2 19 1 19 1 19 1 19 2 17 1 16 1 15 1 12 2 11 1 8 1 5 1 3 2 1 1-2 1-5 2-7 1-9 1-11 1-12 2-14 1-15 1-16 1-16 2-17 1-15 1-15 1-14 2-12 1-11 1-8 1-6 2-3 1-1 1 2 2 5 1 8 1 10 1 12 2 15 1 17 1 17 1 18 2 19 1 17 1 17 1 16 2 13 1 10 1 8 1 4 2 1 1-3 1-6 1-9 2-12 1-15 1-17 2-18 1-19 1-20 1-19 2-17 1-16 1-14 1-11 2-8 1-5 1-1 1 2 2 5 1 8 1 11 1 13 2 15 1 16 1 18 2 17 1 18 1 17 1 16 2 15 1 12 1 11 1 8 2 5 1 3 1 0 1-3 2-5 1-8 1-10 1-12 2-13 1-14 1-14 2-15 1-15 1-13 1-13 2-10 1-9 1-7 1-4 2-1 1 2 1 4 1 7 2 9 1 12 1 13 1 14 2 16 1 15 1 16 2 14 1 13 1 11 1 9 2 7 1 3 1 1 1-3 2-5 1-8 1-10 1-12 2-14 1-14 1-15 1-15 2-13 1-12 1-10 2-7 1-5 1-2 1 2 2 4 1 8 1 10 1 12 2 14 1 15 1 15 1 15 2 14 1 12 1 11 1 7 2 5 1 1 1-2 2-5 1-8 1-11 1-13 2-14 1-15"/>
<path stroke="#F0B21F" stroke-width="11" d="M964 2617l1-14 1-14 2-13 1-10 1-7 1-5 2-1 1 2 1 6 1 9 2 11 1 13 1 15 2 15 1 15 1 14 1 12 2 10 1 6 1 4 1-1 2-3 1-7 1-10 1-13 2-13 1-15 1-15 1-14 2-12 1-10 1-7 1-3 2 0 1 4"/>
<path stroke="#F0B21F" stroke-width="10" d="M1008 2566l1 7 2 10 1 13 1 14 1 15 2 15 1 14 1 13 1 9 2 6 1 3 1-1 1-5 2-8 1-11 1-13 1-15 2-15 1-14 1-13 2-10 1-7 1-4 1 0 2 4 1 7 1 11 1 13 2 15 1 15 1 14 1 14 2 10 1 8 1 4 1 1 2-4 1-8 1-10 2-13 1-14 1-15 1-15 2-12 1-10"/>
<path stroke="#F0B21F" stroke-width="9" d="M1065 2584l1-7 1-3 2 2 1 5 1 9 1 11 2 14 1 15 1 15 1 14 2 12 1 8 1 5 2 1 1-4 1-7 1-10 2-14 1-14 1-15 1-14 2-12 1-9 1-5 1-2 2 3 1 7 1 11 1 13 2 14 1 15 1 14 2 13 1 9 1 6 1 1 2-3 1-7 1-10 1-13 2-15 1-15 1-13 1-12 2-8 1-5 1 0 1 4 2 8 1 12 1 14 2 15 1 14 1 14 1 10 2 7 1 3 1-2 1-6 2-10 1-12 1-15 1-14 2-14 1-12 1-8 1-4 2 0 1 4 1 9 1 12 2 14 1 15 1 14 2 12 1 10 1 6 1 1 2-3 1-8 1-11 1-13 2-14 1-15 1-12 1-10 2-7 1-2 1 3 1 7 2 10 1 13 1 14 2 15 1 13 1 10 1 7 2 3 1-2 1-6 1-10 2-12 1-14 1-15 1-13 2-10 1-7 1-3 1 2 2 6 1 10 1 12 2 14 1 15 1 13 1 10 2 7 1 3 1-2 1-6 2-10 1-12 1-14 1-14 2-13 1-10 1-6 1-2 2 2 1 6 1 11 2 12 1 14 1 14 1 13 2 9 1 6 1 2 1-3 2-7 1-11 1-13 1-14 2-13 1-12 1-9 1-4 2-1 1 4 1 8 2 12 1 13 1 14 1 13 2 11 1 8 1 4 1-1 2-5 1-10 1-12 1-13 2-14 1-12 1-10 1-6 2-2 1 3 1 7 2 10 1 13 1 14 1 13 2 12 1 8 1 4 1 0 2-4 1-9 1-11 1-14 2-13 1-13 1-10 1-6 2-2 1 2 1 7 1 11 2 12 1 14 1 13 2 12 1 8 1 4 1-1 2-5 1-9 1-12 1-13 2-13 1-12 1-10 1-5 2-1 1 3 1 8 1 11 2 13 1 13 1 13 2 10 1 7 1 3 1-2 2-6 1-10 1-12 1-13 2-13 1-11 1-8 1-4 2 0 1 5 1 9 1 11 2 13 1 13 1 12 2 9 1 6 1 1 1-3 2-8 1-10 1-13 1-13 2-12 1-10 1-7 1-2 2 2 1 6 1 10 1 12 2 13 1 13 1 10 2 8 1 4 1-1 1-5 2-8 1-12 1-12 1-13 2-11 1-9 1-5 1 0 2 3 1 8 1 11 1 12 2 13 1 12 1 9 2 6 1 2 1-2 1-7 2-10 1-11 1-13 1-12 2-10 1-7 1-3 1 1 2 6 1 9 1 11 1 13 2 12 1 11 1 7 2 5 1-1 1-4 1-8 2-10 1-13 1-12 1-11 2-9 1-5 1 0 1 3 2 7 1 10 1 12 1 12 2 12 1 9 1 6 1 2 2-2 1-6 1-9 2-12 1-12 1-12 1-9 2-7 1-3 1 1 1 5 2 9 1 11 1 12 1 12 2 10 1 8 1 4 1-1 2-4 1-8 1-10 2-12 1-12 1-10 1-8 2-5 1-1 1 4 1 7 2 10 1 11 1 12 1 11 2 9 1 5 1 2 1-2 2-7 1-9 1-11 2-12 1-11 1-9 1-6 2-3 1 2 1 6 1 8 2 11 1 12 1 11 1 10 2 7 1 3 1-1 1-5 2-8 1-10 1-12 2-11 1-10 1-7 1-4 2 0 1 4 1 8 1 10 2 11 1 12 1 10 1 8 2 4 1 1 1-4 1-6 2-10 1-11 1-12 2-10 1-8 1-5 1-1 2 3 1 6 1 9 1 11 2 12 1 10 1 9 1 5 2 2 1-2 1-6 1-8 2-11 1-11 1-11 2-9 1-6 1-2 1 2 2 5 1 8 1 10 1 12 2 11 1 9 1 6 1 3 2-1 1-5 1-8 1-10 2-11 1-11 1-9 1-6 2-4 1 1 1 4 2 8 1 9 1 11 1 11 2 10 1 7 1 4 1 0 2-4 1-7 1-10 1-11 2-10 1-10 1-7 1-4 2-1 1 4 1 6 2 10 1 10 1 11 1 10 2 8 1 4 1 1 1-3 2-6 1-9 1-11 1-11 2-9 1-8 1-5 1-1 2 3 1 6 1 9 2 10 1 11 1 10 1 8 2 5 1 1 1-2 1-6 2-8 1-11 1-10 1-10 2-8 1-5 1-2 1 2 2 5 1 9"/>
<path stroke="#842F97" stroke-width="12" d="M287 2685L389 2685l2 0 1-1 1 0 1 0 2 0 1 0 1 0 1 0 2 0 1 0 1 0 1 0 2 0 1 0 1-1 1 0 2 0 1 0 1 0 2 0 1 0 1-1 1 0 2 0 1 0 1-1 1 0 2 0 1 0 1-1 1 0 2-1 1 0 1 0 1-1 2 0 1-1 1 0 2-1 1-1 1 0 1-1 2-1 1-1 1-1 1-1 2-1 1-1 1-1 1-1 2-1 1-1 1-2 1-1 2-2 1-2 1-1 2-2 1-2 1-2 1-2 2-2 1-3 1-2 1-3 2-2 1-3 1-3 1-3 2-3 1-4 1-3 1-4 2-4 1-4 1-4 2-4 1-4 1-5 1-5 2-4 1-6 1-5 1-5 2-6 1-5 1-6 1-6 2-7 1-6 1-7 1-6 2-7 1-7 1-7 2-7 1-8 1-7 1-8 2-7 1-8 1-8 1-8 2-8 1-8 1-8 1-8 2-8 1-8 1-8 1-7 2-8 1-8 1-7 1-8 2-7 1-7 1-6 2-7 1-6 1-6 1-6 2-5 1-5 1-4 1-4 2-4 1-3 1-3 1-2 2-2 1-1 1-1 1-1 2-2 1-1 1 0 2 1 1 1 1 3 1 3 2 4 1 5 1 6 1 7 2 7 1 9 1 9 1 11 2 11 1 12 1 12 1 13 2 14 1 15 1 14 2 16 1 15 1 16 1 16 2 16 1 17 1 16 1 15 2 16 1 15 1 15 1 14 2 13 1 12 1 12 1 10 2 9 1 9 1 7 2 5 1 5 1 2 1 2 2 0 1-2 1-3 1-4 2-6 1-8 1-8 1-10 2-11 1-13 1-13 1-14 2-15 1-16 1-16 2-17 1-16 1-17 1-16 2-16 1-16 1-15 1-14 2-13 1-11 1-11 1-9 2-7 1-6 1-4 1-2 2-1 1 2 1 3 2 5 1 8 1 8 1 11 2 12 1 14 1 15 1 16 2 17 1 18 1 18 1 19 2 19 1 18 1 19 1 17 2 16 1 16 1 14 1 12 2 11 1 8 1 7 2 4 1 3 1 0 1-3 2-4 1-7 1-9 1-10 2-13 1-14 1-15 1-17 2-17 1-18 1-18 1-18 2-18 1-17 1-16 2-15 1-13 1-11 1-10 2-7 1-5 1-3 1 0 2 2 1 4 1 7 1 9 2 11 1 13 1 15 1 16 2 17 1 17 1 18 2 19 1 18 1 18 1 17 2 15 1 15 1 13 1 11 2 9 1 7 1 4 1 3 2 0 1-3 1-4 1-7 2-9 1-11 1-12 2-14 1-15 1-15 1-17 2-16 1-16 1-15 1-15 2-13 1-12 1-10 1-8 2-6 1-3 1-1 1 2 2 4 1 7 1 10 2 11 1 14 1 15 1 17 2 18 1 18 1 18 1 17 2 16 1 15 1 13 1 11 2 8 1 6 1 2 1-1 2-4 1-7 1-9 2-12 1-14 1-16 1-17 2-18 1-18 1-17 1-17 2-15 1-13 1-11 1-9 2-6 1-3 1 0 1 3 2 6 1 8 1 11 1 13 2 14 1 16 1 17 2 17 1 16 1 17 1 15 2 14 1 13 1 10 1 8 2 6 1 3 1 0 1-3 2-5 1-7 1-10 1-12 2-13 1-14 1-16 2-15 1-16 1-15 1-13 2-13 1-10 1-9 1-5 2-4 1 0 1 3 1 5 2 8 1 11 1 13 1 14 2 15 1 17 1 16 2 16 1 15 1 14 1 12 2 9 1 7 1 4 1 1 2-2 1-5 1-7 1-11 2-12 1-13 1-15 1-15 2-15 1-15 1-13 2-11 1-10 1-6 1-4 2 0 1 2 1 6 1 8 2 11 1 12 1 15 1 15 2 16 1 15 1 14 1 13 2 11 1 8 1 6 2 2 1-1 1-4 1-7"/>
<path stroke="#842F97" stroke-width="11" d="M937 2673l2-10 1-12 1-13 1-15 2-15 1-14 1-14 1-12 2-9 1-8 1-4 1 0 2 2 1 6 1 9 2 11 1 13 1 15 1 15 2 15 1 15 1 12 1 11 2 8 1 5 1 1 1-2 2-6 1-8 1-11 1-13 2-15"/>
<path stroke="#842F97" stroke-width="10" d="M978 2630l1-15 1-14 2-14 1-12 1-9 1-6 2-3 1 1 1 4 1 7 2 11 1 13 1 14 1 15 2 15 1 14 1 13 1 10 2 7 1 4 1 0 1-4 2-7 1-10 1-13 2-14 1-15 1-14 1-14 2-12 1-9 1-6 1-2 2 1 1 5 1 8 1 11 2 14 1 14 1 16 1 14 2 13 1 11 1 8 2 4"/>
<path stroke="#842F97" stroke-width="9" d="M1035 2684l1 1 1-4 1-6 2-10 1-13 1-14 1-15 2-14 1-13 1-11 1-8 2-5 1-1 1 3 1 7 2 10 1 13 1 14 2 15 1 15 1 13 1 11 2 8 1 4 1 1 1-4 2-7 1-10 1-13 1-14 2-15 1-14 1-12 1-10 2-7 1-2 1 1 2 5 1 9 1 12 1 14 2 14 1 15 1 14 1 11 2 8 1 4 1 1 1-4 2-8 1-11 1-13 1-14 2-15 1-13 1-12 2-8 1-5 1 0 1 3 2 8 1 10 1 14 1 14 2 15 1 14 1 11 1 9 2 4 1 1 1-4 1-8 2-11 1-13 1-14 2-15 1-13 1-11 1-7 2-3 1 0 1 6 1 9 2 12 1 14 1 14 1 15 2 12 1 10 1 5 1 2 2-3 1-7 1-11 1-13 2-14 1-15 1-13 2-10 1-7 1-3 1 1 2 6 1 10 1 12 1 14 2 15 1 13 1 12 1 8 2 5 1-1 1-4 1-9 2-11 1-14 1-14 2-14 1-12 1-9 1-5 2 0 1 4 1 8 1 11 2 13 1 15 1 14 1 12 2 9 1 6 1 1 1-3 2-8 1-11 1-13 2-14 1-14 1-12 1-9 2-5 1-2 1 4 1 7 2 11 1 13 1 14 1 14 2 12 1 9 1 6 1 1 2-3 1-8 1-10 2-13 1-14 1-14 1-12 2-8 1-5 1-1 1 4 2 8 1 11 1 13 1 14 2 13 1 12 1 8 1 4 2 0 1-4 1-8 2-12 1-13 1-14 1-13 2-11 1-7 1-3 1 1 2 6 1 9 1 12 1 14 2 14 1 12 1 10 1 6 2 2 1-3 1-6 2-10 1-13 1-14 1-13 2-11 1-9 1-4 1-1 2 5 1 8 1 11 1 14 2 13 1 13 1 10 1 7 2 3 1-2 1-6 1-10 2-12 1-13 1-13 2-12 1-9 1-4 1-1 2 4 1 8 1 12 1 13 2 13 1 13 1 10 1 7 2 2 1-2 1-7 1-10 2-12 1-14 1-13 2-11 1-7 1-4 1 0 2 6 1 8 1 12 1 13 2 14 1 11 1 10 1 5 2 1 1-4 1-7 1-11 2-13 1-13 1-12 2-10 1-7 1-2 1 2 2 7 1 9 1 12 1 14 2 12 1 11 1 8 1 4 2-1 1-5 1-8 1-12 2-13 1-12 1-12 2-8 1-5 1-1 1 4 2 7 1 11 1 12 1 13 2 12 1 10 1 6 1 2 2-2 1-7 1-9 1-12 2-13 1-12 1-10 2-7 1-4 1 1 1 6 2 8 1 12 1 12 1 13 2 11 1 8 1 4 1 1 2-4 1-8 1-11 1-12 2-12 1-12 1-8 2-6 1-1 1 3 1 6 2 10 1 12 1 13 1 11 2 10 1 6 1 3 1-2 2-5 1-9 1-12 1-12 2-12 1-10 1-7 1-4 2 1 1 5 1 8 2 11 1 12 1 12 1 11 2 8 1 4 1 1 1-4 2-7 1-10 1-12 1-12 2-11 1-9 1-5 1-1 2 2 1 7 1 9 2 12 1 12 1 11 1 9 2 7 1 2 1-2 1-5 2-9 1-11 1-12 1-11 2-10 1-7 1-3 1 1 2 5 1 8 1 10 2 12 1 12 1 10 1 7 2 4 1 1 1-4 1-8 2-10 1-11 1-12 1-10 2-8 1-5 1-1 1 3 2 7 1 10 1 11 2 12 1 10 1 9 1 5 2 2 1-2 1-6 1-9 2-11 1-12 1-11 1-9 2-5 1-3 1 2 1 5 2 9 1 10 1 12 2 11 1 9 1 7 1 3 2-1 1-5 1-8 1-10 2-11 1-11 1-10 1-7 2-3 1 0 1 4 1 8 2 10 1 11 1 11 2 10 1 7 1 4 1 1 2-4 1-7 1-9 1-11 2-11 1-10 1-8 1-4 2-1 1 3 1 6 1 9 2 11 1 11 1 10 1 8 2 6 1 1 1-2 2-6 1-9 1-11 1-11 2-10 1-8 1-6 1-1 2 2 1 5 1 8 1 11 2 11 1 10 1 9 1 6 2 2 1-1 1-5 2-8 1-10 1-11 1-11 2-9 1-6 1-2 1 1 2 4 1 8 1 10 1 11 2 10 1 9 1 7 1 3 2-1 1-4 1-7 2-10 1-11 1-10 1-9 2-7 1-3 1 0 1 4 2 7 1 10 1 10 1 11 2 9 1 7 1 4 1 0 2-4 1-7"/>
</g></g>
<text class="k" text-anchor="middle" x="28.70" y="274.70">-10</text><text class="k" text-anchor="middle" x="46.06" y="274.70">-5</text><text class="k" text-anchor="middle" x="63.42" y="274.70">0</text><text class="k" text-anchor="middle" x="80.79" y="274.70">5</text><text class="k" text-anchor="middle" x="98.15" y="274.70">10</text><text class="k" text-anchor="middle" x="115.51" y="274.70">15</text><text class="k" text-anchor="middle" x="132.88" y="274.70">20</text><text class="k" text-anchor="middle" x="150.24" y="274.70">25</text><text class="k" text-anchor="middle" x="167.60" y="274.70">30</text>
<text class="k" text-anchor="end" x="26.50" y="270.00">0</text><text class="k" text-anchor="end" x="26.50" y="257.10">0.05</text><text class="k" text-anchor="end" x="26.50" y="244.20">0.1</text><text class="k" text-anchor="end" x="26.50" y="231.30">0.15</text><text class="k" text-anchor="end" x="26.50" y="218.40">0.2</text><text class="k" text-anchor="end" x="26.50" y="205.50">0.25</text><text class="k" text-anchor="end" x="26.50" y="192.60">0.3</text><text class="k" text-anchor="end" x="26.50" y="179.70">0.35</text><text class="k" text-anchor="end" x="26.50" y="166.80">0.4</text>
<text class="t" x="98.15" y="161.30">Sinusoidal phase mask</text>
<text class="l" x="97.85" y="284.50">Simulated image plane coordinate</text>
<text class="l" style="font-size:8.9px" transform="translate(15.40 216.50) rotate(-90)">PSF</text>
<rect x="127.50" y="168.30" width="37.20" height="44.10" fill="#fff" stroke="#7a7a7a" stroke-width="0.6"/>
<path d="M129.00 174.40h12" stroke="#0473C2" stroke-width="1.1" fill="none"/><text class="g" x="142.80" y="177.70"><tspan font-size="7" fill="#6a6a6a" dy="0.6">ψ</tspan><tspan dy="-0.6" dx="0.6">=0</tspan></text>
<path d="M129.00 185.10h12" stroke="#E05519" stroke-width="1.1" fill="none"/><text class="g" x="142.80" y="188.40"><tspan font-size="7" fill="#6a6a6a" dy="0.6">ψ</tspan><tspan dy="-0.6" dx="0.6">=20</tspan></text>
<path d="M129.00 195.80h12" stroke="#F0B21F" stroke-width="1.1" fill="none"/><text class="g" x="142.80" y="199.10"><tspan font-size="7" fill="#6a6a6a" dy="0.6">ψ</tspan><tspan dy="-0.6" dx="0.6">=40</tspan></text>
<path d="M129.00 206.50h12" stroke="#842F97" stroke-width="1.1" fill="none"/><text class="g" x="142.80" y="209.80"><tspan font-size="7" fill="#6a6a6a" dy="0.6">ψ</tspan><tspan dy="-0.6" dx="0.6">=60</tspan></text>
<text class="s" x="91.95" y="298.20">(<tspan font-weight="bold">d</tspan>)</text>
</g>
<g id="panel-e">
<clipPath id="cp4"><rect x="213.60" y="164.30" width="139.10" height="104.80"/></clipPath>
<rect x="213.60" y="165.30" width="139.10" height="103.20" fill="none" stroke="#777" stroke-width="0.8"/>
<path d="M213.60 268.50v-1.4M213.60 165.30v1.4M230.99 268.50v-1.4M230.99 165.30v1.4M248.38 268.50v-1.4M248.38 165.30v1.4M265.76 268.50v-1.4M265.76 165.30v1.4M283.15 268.50v-1.4M283.15 165.30v1.4M300.54 268.50v-1.4M300.54 165.30v1.4M317.93 268.50v-1.4M317.93 165.30v1.4M335.31 268.50v-1.4M335.31 165.30v1.4M352.70 268.50v-1.4M352.70 165.30v1.4M213.60 268.50h1.4M352.70 268.50h-1.4M213.60 255.60h1.4M352.70 255.60h-1.4M213.60 242.70h1.4M352.70 242.70h-1.4M213.60 229.80h1.4M352.70 229.80h-1.4M213.60 216.90h1.4M352.70 216.90h-1.4M213.60 204.00h1.4M352.70 204.00h-1.4M213.60 191.10h1.4M352.70 191.10h-1.4M213.60 178.20h1.4M352.70 178.20h-1.4M213.60 165.30h1.4M352.70 165.30h-1.4" stroke="#777" stroke-width="0.6" fill="none"/>
<g clip-path="url(#cp4)"><g transform="scale(.1)" fill="none" stroke-width="10.0" stroke-linejoin="round">
<path stroke="#0473C2" stroke-width="12" d="M2136 2685L2374 2685l1 0 1-1 2 0 1 0 1 0 1 0 2 0 1 0 1 0 1 0 2-1 1 0 1 0 1 0 2-1 1 0 1 0 1-1 2 0 1-1 1 0 2-1 1-1 1 0 1-1 2-1 1-1 1-1 1-2 2-1 1-1 1-2 1-2 2-2 1-2 1-2 2-3 1-3 1-3 1-3 2-4 1-4 1-4 1-5 2-5 1-5 1-6 1-6 2-7 1-7 1-8 1-8 2-9 1-9 1-10 2-11 1-11 1-12 1-13 2-13 1-15 1-14 1-16 2-17 1-17 1-18 1-19 2-19 1-21 1-21 2-22 1-22 1-23 1-24 2-24 1-25 1-25 1-26 2-26 1-26 1-26 1-26 2-26 1-26 1-25 1-25 2-24 1-23 1-22 2-22 1-20 1-18 1-17 2-15 1-13 1-11 1-8 2-7 1-4 1 0 1 11 2 15 1 16 1 20 2 22 1 24 1 27 1 30 2 31 1 33 1 35 1 37 2 38 1 39 1 40 1 40 2 41 1 41 1 40 1 40 2 39 1 38 1 36 2 35 1 32 1 31 1 27 2 25 1 23 1 19 1 16 2 13 1 9 1 6 1 3 2-1 1-3 1-7 2-10 1-12 1-15 1-17 2-19 1-21 1-21 1-23 2-23 1-24 1-23 1-22 2-22 1-20 1-18 1-16 2-15 1-11 1-9 2-6 1-3 1 0 1 4 2 6 1 10 1 12 1 15 2 18 1 20 1 21 1 23 2 24 1 25 1 25 2 24 1 23 1 23 1 20 2 19 1 16 1 13 1 10 2 6 1 4 1-1 1-3 2-7 1-10 1-13 1-15 2-18 1-19 1-21 2-21 1-21 1-22 1-20 2-19 1-17 1-14 1-12 2-9 1-6 1-3 1 1 2 4 1 8 1 10 1 13 2 15 1 18 1 19 2 20 1 21 1 21 1 21 2 20 1 18 1 17 1 14 2 12 1 9 1 6 1 4 2 0 1-3 1-6 2-9 1-12 1-13 1-15 2-17 1-18 1-18 1-18 2-17 1-16 1-15 1-13 2-10 1-8 1-4 1-2 2 2 1 4 1 8 2 10 1 13 1 15 1 17 2 18 1 18 1 18 1 18 2 17 1 16 1 13 1 11 2 8 1 6 1 2 2-1 1-4 1-7 1-10 2-12 1-14 1-15 1-17 2-17 1-17 1-16 1-14 2-13 1-11 1-8 1-5 2-2 1 2 1 4 2 8 1 10 1 13 1 15 2 16 1 17 1 17 1 17 2 16 1 15 1 12 1 10 2 7 1 3 1 1 2-3 1-6 1-9 1-12 2-13 1-15 1-17 1-16 2-16 1-15 1-13 1-12 2-8 1-6 1-2 1 1 2 4 1 7 1 11 2 12 1 15 1 16 1 16 2 17 1 16 1 14 1 13 2 10 1 7 1 3 1 1 2-3 1-6 1-10 2-11 1-14 1-15 1-16 2-16 1-15 1-13 1-12 2-9 1-6 1-2 1 1 2 4 1 8 1 10 1 13 2 15 1 15 1 16 2 16 1 15 1 13 1 10 2 7 1 4 1 1 1-3 2-6 1-10 1-11 1-14 2-15 1-16 1-15 2-14 1-12 1-9 1-7 2-3 1 0 1 4 1 8 2 10 1 13 1 14 1 16 2 15 1 15 1 14 1 11 2 8 1 6 1 1 2-2 1-6 1-9 1-12 2-14 1-15 1-15 1-15 2-13 1-11 1-9 1-5 2-1 1 3 1 6 1 9 2 13 1 14 1 15 2 16 1 15 1 13 1 11 2 8 1 3 1 1 1-4 2-8 1-11 1-13 1-15 2-15 1-15 1-14 2-12"/>
<path stroke="#0473C2" stroke-width="11" d="M2899 2578l1-8 1-5 1-1 2 3 1 7 1 11 1 13 2 15 1 16 1 16 1 14 2 12 1 8 1 5 1 1 2-4 1-8 1-11 2-13 1-16 1-15 1-16 2-13 1-10 1-7 1-3 2 1 1 6 1 10 1 13 2 15 1 16 1 15 2 15 1 12 1 8 1 5 2-1 1-4 1-9 1-12 2-14 1-16 1-16 1-14"/>
<path stroke="#0473C2" stroke-width="10" d="M2955 2599l2-12 1-9 1-4 1 0 2 4 1 9 1 12 2 14 1 16 1 15 1 15 2 12 1 9 1 4 1 1 2-5 1-8 1-12 1-14 2-16 1-15 1-14 2-12 1-8 1-3 1 0 2 5 1 9 1 13 1 14 2 16 1 15 1 14 1 11 2 7 1 3 1-2 1-6 2-10 1-13 1-15 2-15 1-15 1-12 1-10 2-5 1-1 1 4 1 8 2 11 1 14 1 15 1 16 2 14 1 11 1 8 2 3 1-1 1-6 1-10 2-13 1-15 1-15 1-14 2-13 1-8 1-5 1-1 2 5 1 8 1 12 1 15 2 15 1 15 1 13 2 10 1 6 1 2 1-3 2-7 1-11 1-14 1-15 2-15 1-13 1-11 1-7 2-2 1 2 1 7 1 10 2 13 1 15 1 15 2 14 1 11 1 8 1 3 2-1 1-6 1-10 1-13 2-14 1-15 1-14 1-11 2-8 1-3 1 1 2 5 1 10 1 12 1 15 2 15 1 13 1 12 1 8 2 4 1-1 1-5 1-10 2-12 1-14 1-15 1-13 2-12 1-7 1-4 2 1 1 6 1 9 1 13 2 14 1 15 1 13 1 11 2 8 1 3 1-2 1-5 2-10 1-13 1-14 2-14 1-13 1-11 1-7 2-2 1 2 1 7 1 11 2 13 1 14 1 14 1 13 2 10 1 6 1 1 1-3 2-8 1-11 1-13 2-15 1-13 1-12 1-9 2-4 1 0 1 4 1 9 2 12 1 14 1 14 1 14 2 11 1 7 1 3 2-2 1-6 1-10 1-12 2-14 1-14 1-13 1-9 2-6 1-1 1 4 1 7 2 12 1 13 1 14 1 14 2 11 1 8 1 4 2-1 1-5 1-10 1-12 2-14 1-13 1-13 1-10 2-6 1-1 1 3 1 7 2 11 1 13 1 14 2 14 1 11 1 8 1 4 2-1 1-5 1-9 1-12 2-14 1-14 1-12 1-10 2-5 1-2 1 4 1 7 2 11 1 13 1 14 2 13 1 11 1 8 1 3 2-1 1-6 1-10 1-12 2-14 1-13 1-12 1-9 2-5 1 0 1 4 2 9 1 11 1 13 1 14 2 13 1 10 1 6 1 2 2-3 1-7 1-10 1-13 2-13 1-13 1-11 1-8 2-3 1 2 1 5 2 10 1 12 1 14 1 13 2 11 1 9 1 4 1 0 2-4 1-9 1-11 1-13 2-14 1-12 1-9 1-5 2-1 1 3 1 8 2 11 1 13 1 14 1 12 2 10 1 6 1 2 1-3 2-7 1-10 1-13 1-13 2-13 1-10 1-7 2-2 1 2 1 6 1 10 2 13 1 13 1 13 1 10 2 8 1 3 1-2 1-5 2-10 1-12 1-13 1-13 2-11 1-7 1-4 2 1 1 6 1 9 1 12 2 13 1 13 1 11 1 8 2 4 1-1 1-5 1-9 2-12 1-13 1-13 2-11 1-8 1-4 1 1 2 6 1 9 1 12 1 13 2 13 1 10 1 8 1 4 2-1 1-6 1-9 1-11 2-13 1-13 1-11 2-7 1-4 1 2 1 5 2 10 1 12 1 13 1 12 2 11 1 7 1 3 1-2 2-6 1-9 1-13 2-12 1-13 1-10 1-6 2-3 1 3 1 6 1 10 2 13 1 13 1 12 1 9 2 6 1 2 1-3 1-7 2-11 1-12 1-13 2-12 1-9 1-5 1 0 2 4 1 8 1 11 1 13 2 12 1 11 1 9 1 4 2-1 1-5 1-9 2-11 1-13 1-13 1-10 2-7 1-3 1 2 1 6 2 10 1 12 1 13 1 12 2 10 1 5 1 2 1-3 2-8 1-10 1-13 2-12 1-12 1-8 1-4 2 0 1 5 1 8 1 12 2 13 1 12 1 10 1 7 2 3 1-2 1-6 2-10 1-12 1-13 1-12 2-9 1-5 1-1 1 4 2 8 1 11 1 13 1 12 2 11 1 8 1 3 1-1 2-6 1-10"/>
<path stroke="#E05519" stroke-width="12" d="M2136 2685L2354 2685l1 0 1-1 1 0 2 0 1 0 1 0 1 0 2 0 1 0 1 0 1 0 2-1 1 0 1 0 1 0 2-1 1 0 1 0 2-1 1 0 1 0 1-1 2 0 1-1 1-1 1 0 2-1 1-1 1-1 1-1 2-1 1-2 1-1 1-1 2-2 1-2 1-2 2-2 1-2 1-3 1-2 2-3 1-3 1-4 1-3 2-4 1-5 1-4 1-5 2-5 1-6 1-6 2-6 1-7 1-7 1-8 2-8 1-9 1-9 1-10 2-10 1-11 1-12 1-12 2-12 1-13 1-14 1-15 2-15 1-15 1-16 2-17 1-18 1-17 1-19 2-19 1-19 1-20 1-20 2-21 1-21 1-21 1-21 2-21 1-21 1-21 2-21 1-21 1-20 1-20 2-20 1-18 1-18 1-17 2-16 1-14 1-14 1-12 2-10 1-9 1-7 1-5 2-3 1-2 1 3 2 4 1 8 1 9 1 12 2 13 1 17 1 18 1 21 2 22 1 25 1 26 1 28 2 30 1 31 1 33 2 33 1 34 1 35 1 35 2 35 1 35 1 34 1 33 2 33 1 31 1 30 1 27 2 26 1 23 1 21 1 19 2 15 1 13 1 9 2 6 1 4 1 0 1-4 2-6 1-9 1-12 1-14 2-17 1-19 1-21 1-22 2-24 1-24 1-25 2-25 1-25 1-23 1-23 2-22 1-20 1-17 1-15 2-13 1-9 1-7 1-3 2-1 1 4 1 6 1 10 2 12 1 16 1 18 2 21 1 23 1 24 1 26 2 26 1 27 1 26 1 26 2 25 1 23 1 21 1 19 2 15 1 13 1 10 2 6 1 3 1-1 1-4 2-8 1-10 1-13 1-16 2-18 1-19 1-21 1-21 2-21 1-21 1-20 1-19 2-17 1-15 1-12 2-10 1-6 1-4 1 0 2 3 1 6 1 9 1 12 2 14 1 17 1 18 1 19 2 20 1 21 1 20 1 21 2 19 1 18 1 16 2 14 1 11 1 9 1 6 2 3 1 0 1-4 1-6 2-8 1-12 1-13 1-16 2-17 1-17 1-19 2-18 1-18 1-17 1-16 2-14 1-11 1-9 1-6 2-3 1 0 1 3 1 7 2 9 1 12 1 14 1 16 2 17 1 18 1 19 2 18 1 18 1 17 1 15 2 14 1 11 1 8 1 5 2 3 1-1 1-3 1-7 2-9 1-11 1-14 2-15 1-16 1-16 1-17 2-16 1-14 1-13 1-11 2-8 1-5 1-2 1 1 2 5 1 8 1 11 1 13 2 16 1 17 1 18 2 18 1 18 1 16 1 13 2 12 1 7 1 4 1 1 2-4 1-7 1-10 1-13 2-16 1-16 1-17 2-17 1-15 1-14 1-11 2-8 1-4 1-1 1 2 2 7 1 9 1 12 1 14 2 16 1 17 1 16 1 16 2 14 1 12 1 9 2 6 1 3 1-1 1-5 2-7 1-11 1-12 1-15 2-15 1-15 1-15 1-13 2-11 1-9 1-5 2-2 1 1 1 5 1 8 2 10 1 13 1 14 1 15 2 15 1 15 1 13 1 11 2 8 1 6 1 2 1-1 2-4 1-8 1-10 2-12 1-13 1-14 1-14 2-14 1-12 1-9 1-7 2-4 1-1 1 3 1 6 2 9 1 11 1 13 2 14 1 14 1 14 1 13 2 11 1 8 1 5 1 2 2-2 1-4 1-8 1-11 2-12 1-14 1-14 1-13 2-13 1-10 1-8 2-4 1-1 1 2 1 6 2 8 1 12 1 13 1 14 2 14 1 13 1 12 1 10 2 6 1 4 1-1 1-3 2-8 1-9 1-13 2-13 1-14"/>
<path stroke="#E05519" stroke-width="11" d="M2881 2624l1-14 1-12 2-10 1-7 1-4 1 0 2 3 1 7 1 10 1 13 2 13 1 15 1 14 2 12 1 10 1 7 1 4 2-1 1-4 1-7 1-11 2-13 1-14 1-14 1-13 2-12 1-8 1-6 1-1 2 2 1 6 1 10 2 12 1 14 1 14 1 14 2 13 1 10 1 6 1 3 2-1 1-6 1-8 1-12 2-13 1-15"/>
<path stroke="#E05519" stroke-width="10" d="M2939 2630l1-14 2-12 1-10 1-6 1-3 2 1 1 5 1 9 1 11 2 14 1 14 1 14 1 12 2 10 1 7 1 3 1-1 2-5 1-9 1-11 2-14 1-14 1-13 1-12 2-10 1-6 1-2 1 2 2 6 1 10 1 11 1 14 2 14 1 13 1 12 2 9 1 5 1 1 1-3 2-7 1-10 1-12 1-14 2-13 1-13 1-10 1-8 2-3 1 1 1 4 1 8 2 12 1 13 1 14 2 13 1 12 1 9 1 5 2 2 1-3 1-6 1-10 2-12 1-14 1-13 1-13 2-10 1-6 1-3 2 1 1 5 1 9 1 11 2 14 1 13 1 13 1 11 2 8 1 4 1 1 1-4 2-8 1-11 1-13 1-13 2-13 1-11 1-9 2-5 1-1 1 4 1 7 2 10 1 12 1 14 1 13 2 12 1 9 1 5 1 2 2-3 1-6 1-10 1-11 2-14 1-13 1-11 2-10 1-5 1-2 1 2 2 6 1 10 1 11 1 14 2 13 1 11 1 10 1 6 2 2 1-2 1-6 2-9 1-12 1-13 1-13 2-11 1-9 1-6 1-2 2 2 1 6 1 10 1 11 2 13 1 13 1 12 1 9 2 5 1 2 1-3 2-6 1-9 1-12 1-13 2-13 1-11 1-8 1-5 2-1 1 3 1 7 1 10 2 13 1 12 1 13 2 11 1 7 1 4 1 1 2-4 1-8 1-11 1-12 2-13 1-12 1-9 1-7 2-3 1 1 1 5 1 9 2 11 1 13 1 12 2 12 1 9 1 5 1 2 2-3 1-6 1-9 1-12 2-13 1-12 1-10 1-8 2-4 1 0 1 4 2 8 1 10 1 13 1 12 2 12 1 9 1 7 1 2 2-2 1-5 1-9 1-12 2-12 1-12 1-11 1-8 2-4 1-1 1 4 2 7 1 11 1 12 1 12 2 12 1 9 1 6 1 3 2-2 1-5 1-9 1-11 2-12 1-12 1-11 2-8 1-4 1 0 1 4 2 7 1 10 1 12 1 13 2 11 1 9 1 6 1 2 2-2 1-6 1-9 1-11 2-12 1-12 1-10 2-7 1-4 1 1 1 4 2 8 1 11 1 12 1 12 2 11 1 8 1 5 1 1 2-3 1-7 1-10 2-11 1-12 1-12 1-9 2-6 1-2 1 2 1 6 2 9 1 11 1 12 1 12 2 9 1 7 1 4 1-1 2-5 1-8 1-10 2-12 1-12 1-10 1-8 2-4 1 0 1 4 1 7 2 10 1 12 1 12 1 10 2 9 1 5 1 1 1-3 2-7 1-9 1-12 2-12 1-11 1-8 1-6 2-1 1 2 1 6 1 9 2 12 1 11 1 12 1 9 2 6 1 2 1-2 2-6 1-8 1-11 1-12 2-11 1-10 1-6 1-2 2 1 1 6 1 8 1 11 2 12 1 11 1 10 1 6 2 3 1-1 1-5 2-9 1-11 1-11 1-11 2-10 1-6 1-3 1 1 2 5 1 9 1 10 1 12 2 11 1 10 1 6 2 3 1-1 1-5 1-9 2-11 1-11 1-11 1-9 2-7 1-2 1 1 1 6 2 8 1 11 1 12 1 11 2 9 1 6 1 2 2-2 1-5 1-9 1-11 2-12 1-10 1-9 1-6 2-1 1 2 1 6 1 9 2 11 1 12 1 10 2 9 1 5 1 1 1-3 2-7 1-9 1-11 1-12 2-10 1-8 1-4 1 0 2 4 1 7 1 10 1 11 2 12 1 9 1 7 2 4 1-1 1-5 1-8 2-10 1-11 1-11 1-9 2-6 1-3 1 2 1 6 2 9 1 10 1 12 2 10 1 9 1 5 1 1 2-3 1-7 1-9 1-11 2-12 1-9 1-8 1-3 2 0 1 4 1 8 1 10 2 11 1 11 1 10 2 6 1 2 1-2 1-5 2-9 1-11 1-11 1-11 2-8 1-4 1-1 1 4 2 7 1 9 1 12 2 11 1 9 1 7 1 3 2-1 1-5 1-9 1-10 2-12 1-10 1-8 1-5 2-1 1 3 1 7 1 9 2 11 1 11"/>
<path stroke="#F0B21F" stroke-width="12" d="M2136 2685L2324 2685l2 0 1-1 1 0 1 0 2 0 1 0 1 0 2 0 1 0 1 0 1-1 2 0 1 0 1 0 1 0 2-1 1 0 1 0 1-1 2 0 1 0 1-1 2 0 1-1 1 0 1-1 2-1 1-1 1 0 1-1 2-1 1-1 1-2 1-1 2-1 1-2 1-2 1-1 2-2 1-2 1-3 2-2 1-3 1-2 1-3 2-4 1-3 1-4 1-4 2-4 1-4 1-5 1-5 2-6 1-6 1-6 1-6 2-7 1-7 1-8 2-7 1-9 1-9 1-9 2-9 1-10 1-11 1-11 2-11 1-12 1-12 1-12 2-13 1-13 1-14 2-14 1-14 1-14 1-15 2-15 1-15 1-15 1-15 2-15 1-16 1-15 1-15 2-14 1-15 1-14 1-13 2-14 1-12 1-12 2-11 1-10 1-9 1-9 2-7 1-6 1-5 1-3 2-2 1-1 1-2 1-1 2 1 1 2 1 5 2 6 1 8 1 10 1 12 2 13 1 15 1 17 1 19 2 20 1 21 1 23 1 24 2 25 1 26 1 26 1 27 2 27 1 27 1 27 2 27 1 26 1 25 1 24 2 22 1 21 1 19 1 18 2 15 1 13 1 10 1 8 2 5 1 3 1 0 2-3 1-6 1-8 1-11 2-13 1-16 1-18 1-19 2-21 1-22 1-24 1-24 2-24 1-24 1-25 1-23 2-22 1-21 1-20 2-17 1-15 1-12 1-10 2-7 1-4 1-1 1 3 2 5 1 9 1 12 1 15 2 17 1 20 1 22 2 23 1 25 1 26 1 27 2 27 1 26 1 25 1 24 2 23 1 20 1 18 1 15 2 12 1 9 1 5 1 2 2-1 1-5 1-8 2-11 1-14 1-16 1-19 2-20 1-21 1-22 1-23 2-22 1-21 1-20 1-19 2-17 1-14 1-12 2-8 1-6 1-3 1 1 2 4 1 7 1 10 1 12 2 15 1 18 1 19 1 20 2 22 1 21 1 22 1 22 2 20 1 20 1 17 2 15 1 13 1 11 1 7 2 5 1 1 1-2 1-4 2-8 1-10 1-12 1-14 2-16 1-18 1-18 1-19 2-18 1-18 1-17 2-16 1-14 1-12 1-10 2-7 1-5 1-2 1 1 2 4 1 6 1 9 1 11 2 13 1 15 1 15 2 17 1 18 1 17 1 18 2 16 1 16 1 15 1 13 2 12 1 9 1 7 1 5 2 3 1 0 1-3 1-5 2-7 1-9 1-12 2-13 1-14 1-15 1-16 2-16 1-16 1-16 1-14 2-13 1-11 1-9 1-7 2-4 1-1 1 2 2 4 1 8 1 10 1 13 2 15 1 17 1 17 1 19 2 18 1 17 1 17 1 14 2 12 1 9 1 6 1 3 2-1 1-4 1-8 2-10 1-13 1-15 1-17 2-17 1-17 1-17 1-15 2-13 1-12 1-8 1-6 2-3 1 1 1 4 2 6 1 9 1 12 1 13 2 15 1 15 1 16 1 16 2 15 1 14 1 13 1 10 2 8 1 6 1 3 1 0 2-3 1-6 1-8 2-10 1-12 1-13 1-15 2-14 1-15 1-14 1-13 2-11 1-9 1-7 1-4 2-1 1 2 1 5 2 8 1 10 1 13 1 14 2 15 1 15 1 16 1 14 2 14 1 11 1 9 1 6 2 3 1-1 1-3 1-6 2-9 1-12 1-13 2-15 1-15 1-14 1-14 2-13 1-10 1-8 1-5 2-2 1 2 1 5 1 7 2 11 1 13 1 14 2 15 1 16 1 14"/>
<path stroke="#F0B21F" stroke-width="11" d="M2834 2642l1 14 2 11 1 9 1 6 1 3 2-1 1-4 1-8 1-10 2-12 1-15 1-15 1-15 2-14 1-13 1-10 2-8 1-4 1-1 1 3 2 6 1 10 1 12 1 14 2 15 1 16 1 15 1 13 2 11 1 9 1 5"/>
<path stroke="#F0B21F" stroke-width="10" d="M2873 2684l1 1 2-3 1-6 1-9 2-12 1-14 1-16 1-15 2-15 1-12 1-11 1-7 2-3 1 1 1 4 1 8 2 12 1 13 1 16 2 16 1 15 1 14 1 11 2 8 1 4 1 1 1-4 2-8 1-11 1-14 1-15 2-16 1-15 1-14 1-10 2-8 1-3 1 1"/>
<path stroke="#F0B21F" stroke-width="9" d="M2921 2568l2 5 1 10 1 12 1 15 2 16 1 16 1 14 1 13 2 9 1 6 1 1 1-4 2-7 1-11 1-14 2-16 1-15 1-15 1-13 2-10 1-7 1-1 1 2 2 7 1 11 1 13 1 16 2 16 1 15 1 13 1 11 2 7 1 2 1-2 2-6 1-11 1-13 1-15 2-16 1-15 1-13 1-10 2-6 1-2 1 2 1 7 2 11 1 13 1 16 2 15 1 15 1 13 1 10 2 6 1 1 1-3 1-8 2-11 1-14 1-15 1-16 2-14 1-12 1-8 1-4 2 0 1 5 1 9 2 13 1 14 1 16 1 15 2 14 1 10 1 7 1 2 2-2 1-7 1-11 1-14 2-15 1-15 1-14 2-12 1-8 1-4 1 1 2 5 1 10 1 12 1 15 2 15 1 15 1 13 1 9 2 6 1 1 1-4 1-8 2-12 1-14 1-15 2-15 1-13 1-10 1-6 2-2 1 3 1 7 1 11 2 14 1 15 1 15 1 13 2 11 1 7 1 3 1-2 2-6 1-11 1-13 2-14 1-15 1-14 1-11 2-7 1-3 1 1 1 6 2 10 1 13 1 15 1 15 2 13 1 12 1 7 2 4 1-1 1-6 1-10 2-13 1-14 1-15 1-13 2-11 1-8 1-3 1 1 2 6 1 10 1 13 1 15 2 14 1 14 1 11 2 7 1 3 1-2 1-6 2-10 1-13 1-14 1-15 2-13 1-10 1-7 1-2 2 3 1 7 1 10 2 14 1 14 1 15 1 12 2 10 1 6 1 1 1-4 2-7 1-11 1-14 1-14 2-14 1-12 1-9 1-4 2 0 1 5 1 9 2 12 1 14 1 14 1 14 2 11 1 7 1 3 1-2 2-6 1-10 1-13 1-14 2-14 1-12 1-10 2-5 1-2 1 4 1 8 2 11 1 13 1 15 1 13 2 12 1 8 1 4 1-1 2-5 1-10 1-12 1-14 2-14 1-12 1-10 2-6 1-2 1 3 1 7 2 11 1 13 1 14 1 14 2 11 1 9 1 4 1-1 2-5 1-9 1-12 2-14 1-14 1-12 1-10 2-6 1-1 1 3 1 7 2 11 1 13 1 14 1 13 2 12 1 7 1 4 1-1 2-6 1-9 1-12 2-14 1-14 1-12 1-9 2-5 1-1 1 4 1 8 2 12 1 13 1 14 1 13 2 10 1 7 1 2 2-2 1-7 1-10 1-13 2-14 1-13 1-11 1-8 2-3 1 1 1 5 1 9 2 12 1 14 1 13 1 12 2 9 1 5 1 1 2-5 1-8 1-11 1-13 2-14 1-12 1-10 1-6 2-1 1 3 1 8 1 10 2 13 1 14 1 12 1 11 2 7 1 2 1-2 2-7 1-10 1-12 1-14 2-12 1-11 1-8 1-3 2 2 1 6 1 9 1 13 2 13 1 13 1 11 2 8 1 4 1-1 1-5 2-9 1-12 1-14 1-13 2-11 1-8 1-4 1 0 2 5 1 9 1 12 1 13 2 13 1 12 1 8 2 4 1 0 1-4 1-9 2-11 1-13 1-13 1-12 2-8 1-5 1 0 1 5 2 9 1 11 1 13 2 13 1 12 1 8 1 4 2 0 1-4 1-9 1-11 2-13 1-13 1-11 1-9 2-4 1 1 1 5 1 8 2 12 1 13 1 13 2 11 1 8 1 4 1-1 2-5 1-9 1-12 1-13 2-13 1-10 1-8 1-3 2 1 1 6 1 10 2 12 1 13 1 12 1 11 2 6 1 3 1-2 1-6 2-10 1-13 1-13 1-12 2-9 1-6 1-2 1 3 2 7 1 11 1 12 2 13 1 12 1 9 1 5 2 1 1-4 1-8 1-11 2-13 1-13 1-11 1-8 2-4 1 1 1 5 2 9 1 12 1 13 1 12 2 10 1 7 1 3 1-2 2-6 1-10 1-13 1-12 2-12 1-10 1-5 1-1 2 3 1 8 1 11 2 13 1 13 1 11 1 8 2 4 1-1 1-5 1-9 2-12 1-13 1-12 1-10 2-6 1-2 1 2 2 7 1 10 1 13 1 13 2 11 1 9 1 4 1 0 2-4 1-9 1-11 1-13 2-12 1-10 1-7 1-3 2 2 1 7"/>
<path stroke="#842F97" stroke-width="12" d="M2136 2685L2245 2685l1 0 1-1 2 0 1 0 1 0 1 0 2 0 1 0 1 0 1 0 2 0 1 0 1 0 1-1 2 0 1 0 1 0 2 0 1 0 1-1 1 0 2 0 1 0 1-1 1 0 2 0 1-1 1 0 1 0 2-1 1 0 1-1 1 0 2-1 1-1 1 0 2-1 1-1 1-1 1-1 2-1 1-1 1-1 1-1 2-1 1-2 1-1 1-1 2-2 1-2 1-1 2-2 1-2 1-3 1-2 2-2 1-3 1-2 1-3 2-3 1-3 1-3 1-4 2-3 1-4 1-4 1-4 2-5 1-4 1-5 2-5 1-5 1-5 1-6 2-5 1-6 1-7 1-6 2-7 1-7 1-7 1-7 2-8 1-7 1-8 2-9 1-8 1-9 1-8 2-9 1-10 1-9 1-9 2-10 1-9 1-10 1-10 2-10 1-10 1-10 1-10 2-10 1-10 1-9 2-10 1-10 1-9 1-9 2-9 1-9 1-8 1-8 2-8 1-7 1-7 1-6 2-6 1-5 1-5 1-4 2-3 1-3 1-2 2-1 1-1 1-1 1-1 2 0 1 1 1 2 1 3 2 5 1 6 1 7 1 8 2 9 1 10 1 12 2 12 1 14 1 14 1 16 2 16 1 17 1 18 1 18 2 19 1 19 1 19 1 19 2 20 1 19 1 19 1 19 2 18 1 17 1 17 2 16 1 15 1 14 1 12 2 11 1 10 1 8 1 6 2 5 1 3 1 2 1 0 2-3 1-3 1-6 2-7 1-9 1-11 1-11 2-14 1-14 1-16 1-16 2-17 1-18 1-18 1-19 2-19 1-18 1-18 1-17 2-17 1-16 1-15 2-13 1-12 1-10 1-9 2-6 1-5 1-3 1-1 2 2 1 3 1 5 1 8 2 9 1 11 1 13 2 15 1 16 1 17 1 18 2 19 1 19 1 20 1 20 2 19 1 20 1 18 1 18 2 17 1 16 1 14 1 12 2 11 1 8 1 7 2 4 1 2 1 0 1-3 2-5 1-7 1-10 1-11 2-13 1-15 1-16 1-18 2-18 1-20 1-19 2-20 1-20 1-19 1-18 2-17 1-15 1-14 1-12 2-10 1-7 1-5 1-2 2 0 1 3 1 6 1 9 2 11 1 14 1 16 2 18 1 19 1 21 1 21 2 22 1 22 1 21 1 21 2 19 1 18 1 15 1 14 2 10 1 8 1 5 2 1 1-2 1-5 1-7 2-11 1-14 1-15 1-18 2-19 1-20 1-21 1-21 2-21 1-20 1-19 1-17 2-15 1-12 1-10 2-7 1-4 1-1 1 3 2 5 1 8 1 11 1 14 2 16 1 17 1 19 1 19 2 21 1 20 1 20 1 19 2 18 1 17 1 15 2 12 1 10 1 8 1 5 2 2 1-1 1-3 1-6 2-9 1-10 1-13 1-14 2-16 1-17 1-17 2-17 1-17 1-17 1-15 2-14 1-11 1-10 1-7 2-5 1-2 1 1 1 4 2 7 1 9 1 12 1 14 2 15 1 17 1 18 2 18 1 18 1 17 1 17 2 14 1 13 1 11 1 8 2 5 1 3 1-1 1-3 2-7 1-9 1-11 2-13 1-15 1-16 1-16 2-17 1-16 1-15 1-14 2-12 1-9 1-7 1-4 2-1 1 2 1 6 1 7 2 11 1 13 1 14 2 16 1 17 1 17 1 17 2 16 1 14 1 13 1 10 2 7 1 5 1 1 1-2 2-5 1-8 1-10 2-13 1-14 1-16 1-16 2-16 1-15 1-14 1-13 2-10 1-7 1-5 1-1 2 2 1 5 1 8 1 11 2 13 1 15 1 16 2 16 1 16 1 16 1 14 2 12 1 10 1 7 1 3 2 1 1-3 1-6 1-9 2-12 1-13 1-15 2-16 1-16 1-15 1-14 2-11"/>
<path stroke="#842F97" stroke-width="11" d="M2794 2555l1-10 1-6 1-3 2 0 1 4 1 6 1 10 2 13 1 14 1 15 1 16 2 16 1 15 1 14 2 11 1 8 1 5 1 2 2-2 1-5 1-8 1-11 2-13 1-15 1-15 1-15 2-15 1-13 1-11 2-7 1-5 1-1 1 2 2 6 1 9 1 12 1 14"/>
<path stroke="#842F97" stroke-width="10" d="M2840 2592l2 15 1 15 1 16 1 14 2 13 1 10 1 6 1 4 2-1 1-4 1-7 2-10 1-13 1-15 1-15 2-15 1-15 1-12 1-10 2-7 1-3 1 0 1 4 2 8 1 11 1 13 1 15 2 16 1 15 1 15 2 12 1 10 1 6 1 2 2-2 1-5 1-9 1-12 2-14 1-15 1-16"/>
<path stroke="#842F97" stroke-width="9" d="M2892 2612l1-15 2-13 1-10 1-7 2-3 1 0 1 5 1 9 2 11 1 15 1 15 1 16 2 15 1 14 1 10 1 8 2 3 1-1 1-5 1-9 2-12 1-15 1-15 2-16 1-15 1-12 1-10 2-5 1-2 1 3 1 7 2 11 1 14 1 15 1 16 2 16 1 14 1 11 2 7 1 3 1-2 1-5 2-10 1-13 1-15 1-16 2-15 1-14 1-11 1-8 2-3 1 1 1 6 1 9 2 13 1 15 1 16 2 15 1 14 1 12 1 7 2 4 1-1 1-6 1-9 2-13 1-14 1-16 1-15 2-14 1-10 1-7 2-3 1 2 1 6 1 10 2 13 1 15 1 16 1 15 2 13 1 10 1 6 1 2 2-3 1-7 1-11 1-13 2-15 1-16 1-14 2-12 1-9 1-4 1 0 2 5 1 9 1 12 1 14 2 16 1 15 1 13 1 11 2 7 1 2 1-2 2-7 1-11 1-13 1-15 2-15 1-14 1-12 1-8 2-4 1 1 1 5 1 9 2 13 1 15 1 15 1 15 2 12 1 10 1 5 2 1 1-4 1-8 1-12 2-14 1-15 1-15 1-13 2-10 1-6 1-1 1 3 2 7 1 11 1 14 1 15 2 15 1 13 1 11 2 7 1 2 1-2 1-7 2-10 1-14 1-14 1-15 2-13 1-11 1-7 1-3 2 2 1 7 1 10 2 13 1 15 1 14 1 14 2 11 1 7 1 3 1-2 2-6 1-10 1-13 1-14 2-15 1-13 1-11 1-7 2-2 1 2 1 6 2 10 1 13 1 15 1 15 2 13 1 10 1 7 1 2 2-2 1-7 1-11 1-13 2-14 1-14 1-13 2-10 1-6 1-1 1 3 2 8 1 11 1 13 1 15 2 14 1 12 1 9 1 5 2 1 1-5 1-8 1-11 2-14 1-15 1-13 2-11 1-8 1-4 1 1 2 6 1 9 1 13 1 14 2 14 1 13 1 10 1 7 2 2 1-3 1-6 2-11 1-13 1-14 1-14 2-12 1-9 1-5 1 0 2 5 1 8 1 12 1 14 2 14 1 13 1 11 1 7 2 3 1-2 1-6 2-10 1-13 1-14 1-13 2-12 1-10 1-5 1 0 2 4 1 8 1 11 1 14 2 14 1 13 1 11 2 7 1 3 1-2 1-6 2-10 1-12 1-14 1-14 2-11 1-9 1-5 1-1 2 5 1 8 1 11 1 14 2 14 1 13 1 10 2 7 1 2 1-2 1-7 2-10 1-13 1-14 1-13 2-11 1-8 1-4 1 0 2 6 1 9 1 12 2 13 1 14 1 12 1 9 2 6 1 1 1-4 1-7 2-11 1-13 1-14 1-13 2-10 1-7 1-2 1 2 2 7 1 10 1 13 2 13 1 13 1 11 1 8 2 4 1-1 1-6 1-9 2-12 1-13 1-13 1-12 2-9 1-4 1 0 1 4 2 9 1 11 1 14 2 13 1 12 1 9 1 6 2 1 1-4 1-7 1-11 2-13 1-14 1-12 1-10 2-6 1-1 1 3 2 7 1 10 1 13 1 14 2 12 1 10 1 7 1 2 2-2 1-7 1-10 1-13 2-13 1-12 1-11 1-7 2-2 1 2 1 6 2 10 1 13 1 13 1 13 2 10 1 7 1 3 1-2 2-6 1-10 1-12 1-13 2-13 1-10 1-7 2-3 1 2 1 6 1 10 2 12 1 13 1 13 1 10 2 7 1 3 1-2 1-6 2-10 1-12 1-13 1-13 2-10 1-6 1-3 2 2 1 7 1 10 1 12 2 13 1 13 1 10 1 6 2 2 1-3 1-6 1-11 2-12 1-13 1-12 2-10 1-5 1-2 1 4 2 7 1 11 1 12 1 13 2 12 1 9 1 5 1 1 2-4 1-8 1-11 1-13 2-13 1-11 1-8 2-4 1 0 1 5 1 9 2 11 1 13 1 13 1 10 2 8 1 3 1-2 1-5 2-10 1-12 1-13 2-12 1-10 1-6 1-2 2 3 1 7 1 10 1 13 2 13 1 11 1 9 1 5 2 1 1-4 1-9 1-11 2-12 1-13 1-11 2-7 1-4 1 1 1 6 2 9 1 12 1 13 1 12 2 10 1 6 1 2 1-3 2-7 1-10 1-13 2-13 1-11 1-8 1-5 2 0 1 5 1 9 1 11 2 13 1 13 1 10 1 7 2 2 1-2 1-7 1-10 2-12 1-13"/>
</g></g>
<text class="k" text-anchor="middle" x="213.60" y="274.70">-10</text><text class="k" text-anchor="middle" x="230.99" y="274.70">-5</text><text class="k" text-anchor="middle" x="248.38" y="274.70">0</text><text class="k" text-anchor="middle" x="265.76" y="274.70">5</text><text class="k" text-anchor="middle" x="283.15" y="274.70">10</text><text class="k" text-anchor="middle" x="300.54" y="274.70">15</text><text class="k" text-anchor="middle" x="317.93" y="274.70">20</text><text class="k" text-anchor="middle" x="335.31" y="274.70">25</text><text class="k" text-anchor="middle" x="352.70" y="274.70">30</text>
<text class="k" text-anchor="end" x="211.40" y="270.00">0</text><text class="k" text-anchor="end" x="211.40" y="257.10">0.05</text><text class="k" text-anchor="end" x="211.40" y="244.20">0.1</text><text class="k" text-anchor="end" x="211.40" y="231.30">0.15</text><text class="k" text-anchor="end" x="211.40" y="218.40">0.2</text><text class="k" text-anchor="end" x="211.40" y="205.50">0.25</text><text class="k" text-anchor="end" x="211.40" y="192.60">0.3</text><text class="k" text-anchor="end" x="211.40" y="179.70">0.35</text><text class="k" text-anchor="end" x="211.40" y="166.80">0.4</text>
<text class="t" x="283.15" y="161.30">Improved-logarithmic phase mask</text>
<text class="l" x="282.85" y="284.50">Simulated image plane coordinate</text>
<text class="l" style="font-size:8.9px" transform="translate(200.30 216.50) rotate(-90)">PSF</text>
<rect x="312.60" y="168.30" width="37.20" height="44.10" fill="#fff" stroke="#7a7a7a" stroke-width="0.6"/>
<path d="M314.10 174.40h12" stroke="#0473C2" stroke-width="1.1" fill="none"/><text class="g" x="327.90" y="177.70"><tspan font-size="7" fill="#6a6a6a" dy="0.6">ψ</tspan><tspan dy="-0.6" dx="0.6">=0</tspan></text>
<path d="M314.10 185.10h12" stroke="#E05519" stroke-width="1.1" fill="none"/><text class="g" x="327.90" y="188.40"><tspan font-size="7" fill="#6a6a6a" dy="0.6">ψ</tspan><tspan dy="-0.6" dx="0.6">=20</tspan></text>
<path d="M314.10 195.80h12" stroke="#F0B21F" stroke-width="1.1" fill="none"/><text class="g" x="327.90" y="199.10"><tspan font-size="7" fill="#6a6a6a" dy="0.6">ψ</tspan><tspan dy="-0.6" dx="0.6">=40</tspan></text>
<path d="M314.10 206.50h12" stroke="#842F97" stroke-width="1.1" fill="none"/><text class="g" x="327.90" y="209.80"><tspan font-size="7" fill="#6a6a6a" dy="0.6">ψ</tspan><tspan dy="-0.6" dx="0.6">=60</tspan></text>
<text class="s" x="276.95" y="298.20">(<tspan font-weight="bold">e</tspan>)</text>
</g>
<g id="panel-f">
<clipPath id="cp5"><rect x="397.30" y="164.30" width="138.50" height="104.80"/></clipPath>
<rect x="397.30" y="165.30" width="138.50" height="103.20" fill="none" stroke="#777" stroke-width="0.8"/>
<path d="M397.30 268.50v-1.4M397.30 165.30v1.4M414.61 268.50v-1.4M414.61 165.30v1.4M431.93 268.50v-1.4M431.93 165.30v1.4M449.24 268.50v-1.4M449.24 165.30v1.4M466.55 268.50v-1.4M466.55 165.30v1.4M483.86 268.50v-1.4M483.86 165.30v1.4M501.17 268.50v-1.4M501.17 165.30v1.4M518.49 268.50v-1.4M518.49 165.30v1.4M535.80 268.50v-1.4M535.80 165.30v1.4M397.30 268.50h1.4M535.80 268.50h-1.4M397.30 255.60h1.4M535.80 255.60h-1.4M397.30 242.70h1.4M535.80 242.70h-1.4M397.30 229.80h1.4M535.80 229.80h-1.4M397.30 216.90h1.4M535.80 216.90h-1.4M397.30 204.00h1.4M535.80 204.00h-1.4M397.30 191.10h1.4M535.80 191.10h-1.4M397.30 178.20h1.4M535.80 178.20h-1.4M397.30 165.30h1.4M535.80 165.30h-1.4" stroke="#777" stroke-width="0.6" fill="none"/>
<g clip-path="url(#cp5)"><g transform="scale(.1)" fill="none" stroke-width="10.0" stroke-linejoin="round">
<path stroke="#0473C2" stroke-width="12" d="M3973 2685L4239 2685l1 0 1-1 1 0 2 0 1 0 1 0 1 0 2 0 1 0 1-1 2 0 1 0 1 0 1-1 2 0 1-1 1 0 1-1 2 0 1-1 1-1 1-1 2-1 1-1 1-1 1-2 2-1 1-2 1-2 1-2 2-3 1-2 1-3 1-3 2-4 1-4 1-4 2-5 1-5 1-6 1-6 2-6 1-8 1-7 1-9 2-9 1-10 1-11 1-11 2-12 1-13 1-14 1-15 2-16 1-17 1-17 1-19 2-20 1-20 1-22 1-22 2-24 1-24 1-25 2-26 1-26 1-27 1-28 2-28 1-28 1-28 1-29 2-28 1-28 1-27 1-27 2-25 1-25 1-23 1-21 2-20 1-17 1-15 1-13 2-10 1-7 1-4 1 0 2 3 1 7 1 12 2 15 1 19 1 23 1 27 2 31 1 34 1 38 1 40 2 43 1 45 1 46 1 48 2 48 1 49 1 48 1 46 2 46 1 43 1 40 1 38 2 33 1 30 1 24 1 21 2 15 1 9 1 5 1-1 2-6 1-12 1-16 2-20 1-25 1-28 1-32 2-33 1-35 1-37 1-36 2-36 1-34 1-33 1-29 2-26 1-23 1-18 1-13 2-7 1-3 1 3 1 9 2 14 1 19 1 23 1 28 2 31 1 34 1 36 2 37 1 38 1 37 1 36 2 34 1 31 1 27 1 24 2 18 1 14 1 8 1 2 2-3 1-9 1-14 1-18 2-23 1-26 1-29 1-31 2-32 1-32 1-32 1-29 2-27 1-24 1-20 2-15 1-10 1-5 1 1 2 7 1 11 1 17 1 21 2 25 1 29 1 30 1 32 2 33 1 32 1 30 1 28 2 25 1 22 1 16 1 12 2 7 1 1 1-5 1-9 2-14 1-19 1-22 2-26 1-27 1-28 1-29 2-28 1-26 1-23 1-20 2-16 1-11 1-6 1 0 2 5 1 10 1 15 1 19 2 23 1 25 1 28 1 29 2 28 1 28 1 25 1 23 2 20 1 15 1 10 2 5 1 0 1-5 1-10 2-15 1-20 1-22 1-25 2-26 1-27 1-27 1-24 2-22 1-18 1-14 1-9 2-3 1 2 1 8 1 14 2 18 1 23 1 26 1 28 2 29 1 28 1 26 2 23 1 19 1 14 1 8 2 2 1-4 1-11 1-16 2-20 1-24 1-26 1-27 2-26 1-25 1-22 1-17 2-13 1-7 1-1 1 5 2 11 1 15 1 20 1 23 2 26 1 26 1 26 2 24 1 22 1 17 1 14 2 8 1 2 1-3 1-9 2-13 1-17 1-21 1-23 2-24 1-24 1-22 1-20 2-16 1-11 1-7 1-1 2 4 1 9 1 14 1 18 2 21 1 24 1 24 2 23 1 22 1 19 1 15 2 11 1 6 1 1 1-5 2-10 1-15 1-18 1-21 2-22 1-23 1-22 1-20 2-16 1-13 1-8 1-2 2 3 1 8 1 12 1 17 2 20 1 21 1 23 2 22 1 21 1 18 1 14 2 10 1 5 1 0 1-5 2-9 1-15 1-17 1-20 2-22 1-21 1-20 1-18 2-15 1-10 1-5 1 1 2 6 1 12 1 16 1 20 2 22"/>
<path stroke="#0473C2" stroke-width="11" d="M4696 2584l1 24 1 22 1 20 2 17 1 11 1 6 2 0 1-6 1-12 1-17 2-20 1-22 1-22 1-22 2-18 1-14 1-9 1-3 2 2 1 9 1 14 1 17 2 21 1 22 1 22 1 21 2 17 1 12 1 7 1 2 2-5 1-10 1-14 2-18 1-21 1-21 1-20 2-18 1-14 1-10 1-5 2 1 1 5 1 11 1 14 2 17 1 19 1 20 1 19 2 17 1 14 1 11 1 6 2 2 1-3 1-8 1-11 2-15 1-17 1-18 2-19 1-17 1-15 1-12 2-8 1-3 1 2 1 6 2 11 1 14 1 17 1 19 2 19 1 18 1 15 1 13 2 8 1 4 1-1 1-6 2-11 1-14 1-17 1-18 2-19 1-17 1-15 2-11 1-7 1-1 1 3 2 9 1 13 1 17"/>
<path stroke="#0473C2" stroke-width="10" d="M4814 2590l1 19 2 19 1 19 1 16 1 12 2 8 1 2 1-4 1-9 2-13 1-17 1-19 1-19 2-17 1-15 1-11 1-5 2 0 1 5 1 10 2 14 1 16 1 19 1 18 2 17 1 14 1 10 1 5 2 0 1-4 1-10 1-13 2-17 1-17 1-18 1-16 2-13 1-9 1-5 1 1 2 6 1 10 1 14 1 16 2 18 1 17 1 16 2 12 1 9 1 4 1-1 2-7 1-10 1-14 1-17 2-17 1-16 1-15 1-11 2-6 1-3 1 3 1 8 2 12 1 15 1 17 1 17 2 16 1 13 1 10 1 5 2 1 1-5 1-9 2-13 1-15 1-16 1-16 2-15 1-11 1-8 1-3 2 3 1 6 1 11 1 14 2 16 1 17 1 15 1 13 2 10 1 5 1 1 1-5 2-9 1-12 1-15 1-16 2-15 1-14 1-10 1-7 2-2 1 3 1 7 2 12 1 14 1 15 1 16 2 15 1 11 1 8 1 4 2-1 1-6 1-10 1-13 2-15 1-15 1-15 1-12 2-8 1-5 1 1 1 5 2 9 1 13 1 15 1 15 2 15 1 12 1 9 2 5 1 1 1-5 1-8 2-12 1-14 1-15 1-14 2-13 1-9 1-5 1 0 2 4 1 9 1 12 1 14 2 15 1 14 1 12 1 9 2 5 1 1 1-5 1-8 2-12 1-13 1-15 2-14 1-11 1-9 1-4 2 0 1 5 1 9 1 12 2 14 1 14 1 14 1 11 2 8 1 4 1-1 1-5 2-9 1-12 1-13 1-14 2-13 1-11 1-7 1-3 2 2 1 6 1 9 2 13 1 13 1 14 1 13 2 10 1 6 1 2 1-2 2-7 1-9 1-13 1-13 2-13 1-12 1-9 1-5 2-1 1 3 1 8 1 10 2 13 1 13 1 13 1 11 2 8 1 4 1 0 2-4 1-8 1-10 1-13 2-13 1-12 1-10 1-7 2-3 1 1 1 6 1 9 2 11 1 13 1 13 1 11 2 10 1 5 1 2 1-2 2-7 1-9 1-12 1-13 2-12 1-10 1-8 2-4 1-1 1 4 1 8 2 10 1 12 1 13 1 12 2 9 1 7 1 3 1-1 2-5 1-9 1-11 1-12 2-12 1-11 1-8 1-5 2-1 1 3 1 6 1 10 2 11 1 13 1 11 2 10 1 7 1 4 1-1 2-4 1-8 1-10 1-12 2-11 1-11 1-9 1-5 2-1 1 2 1 6 1 9 2 11 1 12 1 11 1 10 2 7 1 4 1-1 1-4 2-7 1-10 1-11 2-11 1-11 1-8 1-5 2-2 1 2 1 6 1 9 2 11 1 11 1 11 1 10 2 6 1 4 1-1 1-4 2-7 1-10 1-11 1-11 2-10 1-7 1-5 1-1 2 2 1 6 1 9 1 11 2 11 1 10 1 9 2 6 1 3 1-1 1-5 2-7 1-10 1-11 1-10 2-9 1-7 1-4 1 0 2 3 1 6 1 9 1 11 2 11 1 9 1 8 1 5 2 2 1-2 1-5 1-8 2-10 1-11 1-9 2-9 1-6 1-2 1 1 2 4 1 7 1 10 1 10 2 10 1 9 1 7 1 3 2 1 1-4 1-6 1-8 2-10 1-10 1-10 1-7 2-4 1-1 1 2 1 6 2 8 1 10 1 10 2 9 1 8 1 5 1 2 2-1 1-5 1-8 1-9 2-9 1-10 1-8 1-5 2-3 1 1 1 4 1 7 2 9 1 10 1 9 1 9 2 6 1 3 1-1 1-3 2-6 1-8 1-10 2-9 1-9 1-6 1-3 2 0 1 3 1 5 1 8 2 10 1 9 1 9 1 6 2 4 1 1 1-3 1-5 2-8 1-9 1-9 1-8 2-7 1-4 1-1 1 3 2 5 1 7"/>
<path stroke="#E05519" stroke-width="12" d="M3973 2685L4213 2685l2 0 1-1 1 0 2 0 1 0 1 0 1 0 2 0 1 0 1 0 1-1 2 0 1 0 1 0 1-1 2 0 1-1 1 0 1 0 2-1 1-1 1 0 1-1 2-1 1-1 1-1 1-1 2-1 1-2 1-1 2-2 1-2 1-2 1-2 2-3 1-2 1-3 1-4 2-3 1-4 1-4 1-5 2-5 1-5 1-6 1-6 2-7 1-7 1-8 1-9 2-9 1-9 1-10 1-11 2-12 1-12 1-13 2-14 1-15 1-15 1-16 2-17 1-18 1-19 1-19 2-20 1-21 1-21 1-22 2-23 1-24 1-24 1-24 2-25 1-25 1-25 1-25 2-25 1-25 1-25 1-24 2-23 1-23 1-22 2-21 1-19 1-18 1-17 2-15 1-12 1-11 1-8 2-6 1-3 1-1 1 3 2 6 1 8 1 12 1 15 2 18 1 21 1 24 1 27 2 29 1 32 1 34 1 36 2 38 1 40 1 40 2 42 1 42 1 42 1 42 2 41 1 40 1 38 1 36 2 34 1 32 1 28 1 25 2 21 1 17 1 13 1 9 2 4 1 0 1-4 1-8 2-13 1-17 1-20 1-23 2-26 1-29 1-30 1-32 2-33 1-33 1-32 2-31 1-30 1-27 1-24 2-22 1-17 1-14 1-9 2-4 1 0 1 6 1 10 2 14 1 20 1 23 1 27 2 30 1 33 1 34 1 36 2 35 1 36 1 33 1 32 2 29 1 25 1 21 2 17 1 11 1 6 1 1 2-5 1-10 1-15 1-19 2-23 1-27 1-29 1-30 2-31 1-31 1-29 1-28 2-25 1-22 1-17 1-14 2-8 1-3 1 2 1 6 2 12 1 16 1 20 2 23 1 26 1 28 1 29 2 30 1 30 1 28 1 27 2 24 1 21 1 17 1 14 2 8 1 5 1-1 1-5 2-10 1-14 1-18 1-22 2-24 1-26 1-27 1-28 2-27 1-25 1-24 2-21 1-17 1-12 1-8 2-3 1 3 1 8 1 12 2 18 1 22 1 25 1 27 2 30 1 29 1 29 1 27 2 25 1 21 1 17 1 12 2 6 1 1 1-5 1-11 2-16 1-20 1-23 2-26 1-28 1-28 1-27 2-26 1-22 1-17 1-13 2-8 1-1 1 4 1 11 2 16 1 21 1 25 1 27 2 30 1 29 1 28 1 26 2 21 1 17 1 11 1 5 2-2 1-8 1-14 2-19 1-24 1-26 1-27 2-28 1-26 1-23 1-19 2-15 1-8 1-3 1 4 2 9 1 15 1 20 1 23 2 25 1 27 1 27 1 25 2 22 1 19 1 14 1 9 2 3 1-3 1-8 2-13 1-18 1-21 1-24 2-24 1-25 1-22 1-20 2-17 1-11 1-7 1-1 2 5 1 10 1 15 1 18 2 22 1 24 1 24 1 24 2 22 1 19 1 15 1 10 2 5 1 0 1-6 2-10 1-15 1-19 1-22 2-22 1-23 1-22 1-20 2-16 1-11 1-7 1-2 2 4 1 9 1 14 1 18 2 20 1 22 1 23 1 22 2 20 1 18 1 13 1 9 2 4 1-2 1-6 2-11 1-16 1-18 1-21 2-22 1-22 1-20 1-17 2-13 1-8 1-3 1 2 2 9 1 13 1 18 1 21"/>
<path stroke="#E05519" stroke-width="11" d="M4684 2569l2 23 1 23 1 22 1 20 2 15 1 9 1 4 1-3 2-8 1-14 1-18 1-22 2-22 1-22 1-21 2-17 1-12 1-7 1 0 2 5 1 11 1 15 1 20 2 21 1 23 1 21 1 19 2 16 1 10 1 5 1-1 2-7 1-13 1-16 1-19 2-21 1-21 1-20 1-16 2-12 1-8 1-2 2 2 1 8 1 13 1 16 2 18 1 20 1 19 1 19 2 15 1 13 1 9 1 4 2-1 1-5 1-10 1-13 2-16 1-18 1-19 1-18 2-16 1-14 1-10 1-5 2-1 1 4 1 9 2 13 1 16 1 18 1 19 2 18 1 17 1 14 1 11 2 6 1 1 1-4 1-9 2-12 1-16 1-18 1-18 2-18 1-17 1-13 1-8 2-4 1 1 1 6 1 12 2 15 1 18"/>
<path stroke="#E05519" stroke-width="10" d="M4804 2600l1 20 2 19 1 17 1 15 1 9 2 5 1-2 1-6 1-12 2-16 1-18 1-19 1-19 2-16 1-13 1-8 1-2 2 3 1 8 1 12 1 16 2 18 1 19 1 18 1 15 2 12 1 8 1 2 2-3 1-8 1-12 1-16 2-17 1-18 1-17 1-15 2-11 1-7 1-2 1 4 2 9 1 13 1 16 1 17 2 19 1 16 1 15 1 10 2 6 1 1 1-5 1-9 2-14 1-16 1-17 2-18 1-16 1-12 1-9 2-4 1 1 1 6 1 11 2 14 1 17 1 18 1 17 2 15 1 12 1 7 1 2 2-3 1-8 1-12 1-15 2-17 1-17 1-16 1-13 2-10 1-4 1 0 2 6 1 10 1 14 1 16 2 17 1 17 1 15 1 11 2 7 1 2 1-3 1-8 2-12 1-15 1-17 1-16 2-16 1-12 1-8 1-4 2 1 1 7 1 11 1 14 2 16 1 17 1 16 1 13 2 10 1 5 1 0 2-4 1-10 1-13 1-15 2-17 1-16 1-13 1-11 2-6 1-1 1 4 1 9 2 13 1 15 1 16 1 16 2 15 1 11 1 6 1 2 2-3 1-8 1-12 1-15 2-16 1-16 1-14 2-10 1-7 1-2 1 3 2 9 1 11 1 15 1 16 2 16 1 14 1 11 1 6 2 2 1-3 1-8 1-12 2-15 1-16 1-15 1-13 2-10 1-6 1-1 1 4 2 9 1 12 1 15 2 15 1 16 1 12 1 10 2 5 1 1 1-5 1-9 2-12 1-15 1-15 1-14 2-12 1-9 1-4 1 1 2 5 1 10 1 13 1 14 2 15 1 14 1 12 1 8 2 3 1-2 1-6 2-10 1-13 1-14 1-15 2-13 1-10 1-7 1-2 2 3 1 7 1 11 1 13 2 15 1 14 1 13 1 9 2 6 1 1 1-4 1-8 2-11 1-14 1-14 1-14 2-11 1-8 1-4 2 0 1 6 1 9 1 12 2 14 1 14 1 13 1 10 2 7 1 3 1-2 1-6 2-10 1-13 1-13 1-14 2-12 1-9 1-5 1-1 2 3 1 8 1 11 1 13 2 14 1 13 1 11 2 8 1 4 1-1 1-5 2-9 1-11 1-14 1-13 2-12 1-10 1-6 1-1 2 2 1 7 1 10 1 13 2 13 1 13 1 11 1 8 2 4 1 0 1-4 1-8 2-11 1-13 1-13 2-11 1-10 1-6 1-2 2 2 1 6 1 10 1 11 2 13 1 13 1 11 1 8 2 4 1 1 1-4 1-8 2-11 1-12 1-13 1-11 2-10 1-5 1-3 1 3 2 6 1 9 1 12 2 12 1 13 1 10 1 8 2 4 1-1 1-4 1-8 2-10 1-12 1-12 1-11 2-9 1-5 1-2 1 3 2 6 1 10 1 11 1 13 2 11 1 10 1 7 1 3 2-1 1-5 1-8 1-11 2-11 1-12 1-10 2-8 1-4 1-1 1 4 2 7 1 10 1 11 1 12 2 11 1 8 1 6 1 2 2-2 1-6 1-9 1-10 2-12 1-11 1-9 1-7 2-3 1 1 1 5 1 8 2 10 1 12 1 11 2 10 1 7 1 4 1 1 2-4 1-7 1-9 1-11 2-11 1-10 1-8 1-5 2-1 1 3 1 6 1 9 2 10 1 11 1 11 1 8 2 6 1 2 1-2 1-5 2-8 1-10 1-11 2-11 1-8 1-6 1-3 2 1 1 5 1 8 1 9 2 11 1 11 1 9 1 6 2 4 1-1 1-4 1-7 2-9 1-10 1-11 1-9 2-7 1-3 1 0 1 3 2 7 1 9 1 10 2 11 1 9 1 7 1 4 2 1 1-3 1-6 1-9 2-10 1-10 1-9 1-7 2-5 1 0 1 2 1 6 2 9 1 9 1 11 1 9 2 7 1 5 1 1 1-2 2-6 1-8"/>
<path stroke="#F0B21F" stroke-width="12" d="M3973 2685L4169 2685l2 0 1-1 1 0 1 0 2 0 1 0 1 0 1 0 2 0 1 0 1-1 2 0 1 0 1 0 1 0 2-1 1 0 1 0 1-1 2 0 1-1 1 0 1-1 2 0 1-1 1-1 1-1 2-1 1-1 1-1 1-1 2-2 1-1 1-2 1-2 2-2 1-2 1-2 2-2 1-3 1-3 1-3 2-4 1-4 1-4 1-4 2-5 1-4 1-6 1-6 2-6 1-6 1-7 1-8 2-8 1-8 1-9 1-10 2-10 1-10 1-11 1-12 2-12 1-13 1-14 2-14 1-14 1-16 1-16 2-16 1-17 1-18 1-18 2-18 1-19 1-19 1-20 2-20 1-20 1-21 1-20 2-21 1-20 1-21 1-20 2-19 1-20 1-18 1-18 2-18 1-16 1-15 2-14 1-13 1-12 1-10 2-8 1-7 1-4 1-3 2-1 1 1 1 4 1 6 2 8 1 11 1 14 1 16 2 18 1 20 1 23 1 25 2 26 1 29 1 30 1 32 2 33 1 33 1 35 2 34 1 35 1 35 1 35 2 33 1 33 1 31 1 29 2 28 1 25 1 23 1 20 2 18 1 14 1 11 1 8 2 5 1 1 1-2 1-6 2-8 1-12 1-15 1-17 2-20 1-22 1-23 2-26 1-26 1-27 1-27 2-27 1-26 1-26 1-24 2-22 1-20 1-18 1-14 2-12 1-9 1-5 1-2 2 2 1 6 1 9 1 12 2 16 1 18 1 21 1 23 2 26 1 26 1 28 1 29 2 28 1 28 1 27 2 26 1 24 1 22 1 19 2 16 1 13 1 9 1 6 2 2 1-2 1-5 1-10 2-12 1-16 1-18 1-21 2-23 1-24 1-25 1-25 2-25 1-24 1-23 1-21 2-19 1-15 1-12 2-9 1-5 1-1 1 3 2 6 1 11 1 14 1 17 2 19 1 22 1 24 1 24 2 25 1 26 1 24 1 24 2 22 1 20 1 17 1 14 2 11 1 8 1 3 1 1 2-4 1-7 1-11 2-14 1-16 1-19 1-20 2-22 1-22 1-22 1-21 2-19 1-18 1-15 1-11 2-8 1-4 1 0 1 5 2 9 1 13 1 17 1 21 2 22 1 25 1 25 1 25 2 23 1 22 1 18 2 14 1 9 1 5 1-1 2-6 1-11 1-15 1-18 2-21 1-23 1-23 1-22 2-21 1-17 1-15 1-10 2-6 1-1 1 4 1 8 2 12 1 16 1 18 1 20 2 22 1 22 1 21 2 19 1 17 1 14 1 10 2 5 1 2 1-3 1-7 2-11 1-14 1-17 1-20 2-20 1-20 1-19 1-18 2-14 1-12"/>
<path stroke="#F0B21F" stroke-width="11" d="M4551 2510l1-7 1-3 2 1 1 6 1 11 1 15 2 17 1 20 1 21 2 21 1 21 1 18 1 15 2 11 1 6 1 2 1-3 2-8 1-12 1-16 1-18 2-20 1-20 1-19 1-17 2-14 1-11 1-6 1-2 2 2 1 7 1 11 1 15 2 17 1 18 1 19 2 19 1 17 1 15 1 12 2 9 1 4 1 1 1-4 2-8 1-11 1-15 1-16 2-17 1-17 1-17 1-14 2-13 1-9 1-5 1-2 2 3 1 6 1 10 1 13 2 15 1 17 1 17 2 17 1 16 1 13 1 10 2 7 1 4 1-1 1-4 2-9 1-11 1-14 1-15 2-16 1-16 1-16 1-13 2-10 1-8 1-3 1 0 2 4 1 8 1 10 1 14 2 15 1 16 1 16 2 15 1 13 1 11 1 8 2 5 1 1 1-3 1-6"/>
<path stroke="#F0B21F" stroke-width="10" d="M4674 2676l2-10 1-12 1-14 1-15 2-15 1-15 1-13 1-11 2-7 1-4 1 1 1 4 2 8 1 12 1 14 1 16 2 16 1 16 1 14 1 12 2 8 1 4 1-1 2-5 1-9 1-12 1-14"/>
<path stroke="#F0B21F" stroke-width="9" d="M4708 2644l2-16 1-16 1-15 1-12 2-10 1-5 1-2 1 3 2 7 1 10 1 13 1 16 2 15 1 16 1 13 1 12 2 8 1 4 1-1 1-4 2-8 1-11 1-14 2-14 1-15 1-14 1-12 2-9 1-6 1-2 1 2 2 5 1 9 1 11 1 12 2 14 1 14 1 13 1 11 2 9 1 7 1 3 1-1 2-3 1-7 1-9 1-11 2-13 1-13 1-12 2-12 1-10 1-7 1-4 2 0 1 2 1 6 1 9 2 11 1 13 1 13 1 13 2 12 1 10 1 8 1 4 2 1 1-3 1-6 1-8 2-11 1-13 1-13 1-13 2-11 1-9 1-7 2-2 1 0 1 5 1 8 2 10 1 13 1 14 1 13 2 13 1 10 1 7 1 3 2-1 1-5 1-8 1-11 2-13 1-14 1-13 1-11 2-9 1-5 1-2 1 2 2 5 1 9 1 11 2 13 1 13 1 13 1 10 2 9 1 5 1 2 1-2 2-5 1-9 1-11 1-13 2-13 1-12 1-11 1-8 2-5 1-1 1 3 1 6 2 9 1 12 1 13 1 13 2 12 1 11 1 7 2 4 1-1 1-4 1-7 2-11 1-12 1-13 1-13 2-12 1-8 1-6 1-1 2 2 1 6 1 10 1 12 2 13 1 13 1 12 1 10 2 7 1 3 1-1 1-5 2-9 1-11 1-13 2-14 1-12 1-11 1-7 2-4 1 1 1 4 1 8 2 11 1 13 1 13 1 13 2 11 1 8 1 4 1 1 2-4 1-8 1-10 1-13 2-13 1-13 1-11 1-9 2-4 1-1 1 4 1 7 2 11 1 13 1 13 2 13 1 11 1 9 1 4 2 1 1-4 1-8 1-10 2-13 1-13 1-13 1-11 2-8 1-5 1 0 1 5 2 8 1 11 1 13 1 13 2 13 1 11 1 7 1 4 2-1 1-5 1-9 2-11 1-13 1-14 1-12 2-10 1-7 1-2 1 2 2 6 1 10 1 12 1 13 2 14 1 11 1 9 1 6 2 1 1-4 1-7 1-11 2-12 1-14 1-13 1-11 2-7 1-4 1 1 2 5 1 9 1 12 1 13 2 13 1 13 1 9 1 6 2 2 1-3 1-6 1-11 2-12 1-13 1-13 1-11 2-8 1-4 1 0 1 5 2 8 1 11 1 14 1 13 2 12 1 10 1 6 2 2 1-2 1-7 1-10 2-12 1-13 1-13 1-11 2-8 1-4 1 0 1 5 2 8 1 12 1 13 1 13 2 12 1 9 1 6 1 2 2-3 1-6 1-11 1-12 2-13 1-13 1-10 2-8 1-3 1 1 1 5 2 8 1 12 1 13 1 13 2 12 1 9 1 5 1 1 2-4 1-7 1-10 1-13 2-13 1-12 1-10 1-7 2-2 1 1 1 7 1 9 2 12 1 13 1 13 2 11 1 8 1 4 1-1 2-4 1-9 1-11 1-13 2-13 1-11 1-9 1-5 2-1 1 3 1 7 1 11 2 12 1 12 1 12 1 10 2 7 1 3 1-1 1-6 2-8 1-12 1-12 2-12 1-11 1-8 1-5 2-1 1 4 1 7 1 10 2 12 1 12 1 12 1 10 2 6 1 3 1-1 1-6 2-8 1-11 1-12 1-12 2-11 1-8 1-5 1 0 2 3 1 7 1 10 2 12 1 12 1 12 1 9 2 6 1 3 1-1 1-6 2-8 1-11 1-12 1-12 2-10 1-8 1-4 1 0 2 3 1 8 1 10 1 11 2 12 1 11 1 9 1 6 2 2 1-2 1-6 1-9 2-11 1-12 1-11 2-10 1-7 1-3 1 1 2 4 1 8 1 11 1 11 2 12 1 10 1 8 1 5 2 1 1-3 1-7 1-9 2-12 1-11 1-11 1-9 2-5 1-2 1 2 1 5 2 9 1 11 1 11 2 12 1 9 1 7 1 3 2-1 1-4 1-8 1-10 2-11 1-12 1-9 1-8 2-4 1 0 1 4 1 7 2 9 1 11 1 12 1 10 2 8 1 5 1 1 1-3 2-6 1-9 1-10 2-11 1-11 1-8 1-5 2-2 1 2 1 5 1 9 2 10 1 11 1 11 1 8 2 6 1 3 1-1 1-5 2-8 1-9 1-11 1-11 2-8 1-7 1-3 1 1 2 4 1 8 1 9 2 11 1 10 1 9 1 7 2 4 1-1 1-3 1-7 2-9 1-10 1-11 1-9 2-6 1-4 1 0 1 3 2 7 1 8 1 11 1 10 2 9 1 7 1 4 1 1 2-3 1-6"/>
<path stroke="#842F97" stroke-width="12" d="M3973 2685L4118 2685l1 0 1-1 2 0 1 0 1 0 1 0 2 0 1 0 1 0 1 0 2 0 1-1 1 0 1 0 2 0 1-1 1 0 1 0 2-1 1 0 1 0 1-1 2 0 1-1 1-1 2 0 1-1 1-1 1-1 2-1 1-1 1-1 1-2 2-1 1-2 1-2 1-1 2-3 1-2 1-2 1-3 2-3 1-3 1-3 1-3 2-4 1-4 1-4 1-5 2-5 1-5 1-6 2-6 1-7 1-6 1-8 2-7 1-8 1-9 1-9 2-9 1-10 1-11 1-11 2-11 1-12 1-13 1-13 2-13 1-14 1-14 1-15 2-15 1-16 1-16 1-16 2-17 1-17 1-17 2-17 1-18 1-17 1-17 2-18 1-17 1-16 1-17 2-16 1-15 1-15 1-14 2-14 1-12 1-11 1-11 2-9 1-7 1-7 1-4 2-4 1-1 1-1 1 1 2 3 1 6 1 7 2 10 1 12 1 14 1 16 2 18 1 20 1 22 1 24 2 25 1 26 1 28 1 29 2 29 1 30 1 30 1 31 2 30 1 29 1 29 1 28 2 27 1 25 1 23 1 21 2 20 1 16 1 15 2 11 1 9 1 6 1 3 2 1 1-3 1-5 1-8 2-11 1-13 1-15 1-18 2-19 1-20 1-22 1-23 2-23 1-24 1-23 1-23 2-23 1-21 1-20 1-18 2-16 1-14 1-11 2-9 1-6 1-3 1-1 2 3 1 6 1 8 1 11 2 13 1 16 1 18 1 20 2 21 1 23 1 23 1 24 2 24 1 24 1 23 1 23 2 21 1 19 1 18 1 15 2 13 1 11 1 8 2 5 1 2 1-1 1-3 2-6 1-9 1-11 1-14 2-15 1-17 1-19 1-19 2-20 1-20 1-20 1-20 2-19 1-18 1-16 1-14 2-12 1-10 1-7 1-5 2-2 1 2 1 3 1 7 2 9 1 12 1 14 2 16 1 18 1 19 1 20 2 21 1 21 1 20 1 20 2 19 1 17 1 16 1 13 2 12 1 8 1 6 1 3 2 1 1-3 1-5 1-8 2-10 1-13 1-14 1-16 2-17 1-19 1-18 2-19 1-18 1-18 1-17 2-15 1-13 1-12 1-9 2-7 1-4 1-1 1 1 2 4 1 7 1 9 1 11 2 13 1 15 1 16 1 17 2 18 1 18 1 18 1 17 2 17 1 16 1 15 2 12 1 11 1 9 1 7 2 4 1 1 1-1 1-4 2-6 1-8 1-11 1-13 2-14 1-16 1-18 1-17 2-19 1-18 1-18 1-17 2-16 1-14 1-12 1-10 2-8 1-5 1-1 2 1 1 5 1 7 1 10 2 13 1 15 1 17 1 18 2 20 1 19 1 20 1 20 2 18 1 17 1 14 1 13 2 9 1 6 1 4 1-1 2-3 1-7 1-10 1-12 2-15 1-17 1-19 2-19 1-19 1-19 1-18 2-17 1-14 1-12 1-9 2-5 1-2 1 2 1 5 2 9 1 13 1 15 1 18 2 19 1 21 1 21 1 20 2 19 1 18 1 14 1 12 2 8 1 4 1-1 2-4 1-9 1-12 1-15 2-17 1-19 1-20 1-20 2-19 1-17 1-15 1-11 2-9 1-4 1 0 1 4 2 8 1 11 1 15 1 16 2 19 1 20 1 19 1 20 2 17 1 15 1 13 2 9 1 5"/>
<path stroke="#842F97" stroke-width="11" d="M4599 2684l1 1 1-3 2-7 1-10 1-13 1-16 2-17 1-18 1-18 1-18 2-15 1-14 1-10 1-7 2-4 1 1 1 5 1 8 2 12 1 14 1 17 1 18 2 18 1 18 1 17 2 15 1 12 1 9 1 5 2 1 1-3 1-7 1-10 2-13 1-16 1-17 1-18 2-17 1-16 1-15 1-11 2-9 1-4 1-1 1 4 2 7 1 11 1 14 1 16 2 17 1 17 1 18 2 16"/>
<path stroke="#842F97" stroke-width="10" d="M4666 2648l1 13 1 12 1 7 2 4 1 1 1-4 1-8 2-11 1-13 1-16 1-17 2-17 1-16 1-15 1-12 2-9 1-5 1 0 1 3 2 8 1 12 1 15 1 17 2 18 1 18"/>
<path stroke="#842F97" stroke-width="9" d="M4697 2633l1 17 1 15 2 11 1 7 1 2 2-2 1-8 1-11 1-15 2-16 1-18 1-18 1-16 2-14 1-10 1-5 1-1 2 3 1 8 1 12 1 15 2 17 1 18 1 17 1 16 2 13 1 9 1 5 1 1 2-5 1-8 1-13 2-14 1-17 1-17 1-16 2-14 1-11 1-8 1-4 2 1 1 5 1 8 1 12 2 14 1 15 1 16 1 15 2 14 1 12 1 8 1 6 2 1 1-2 1-6 1-10 2-11 1-14 1-15 2-15 1-14 1-12 1-10 2-7 1-3 1 1 1 5 2 8 1 12 1 13 1 15 2 16 1 14 1 13 1 11 2 7 1 4 1-1 1-4 2-8 1-11 1-13 1-15 2-15 1-15 1-13 2-9 1-7 1-2 1 2 2 6 1 10 1 13 1 15 2 16 1 16 1 14 1 11 2 7 1 3 1-2 1-6 2-11 1-13 1-16 1-16 2-15 1-13 1-10 1-6 2-2 1 3 1 7 2 11 1 14 1 15 1 16 2 14 1 13 1 10 1 5 2 2 1-3 1-7 1-11 2-13 1-15 1-15 1-14 2-13 1-9 1-6 1-1 2 4 1 7 1 11 1 14 2 15 1 15 1 14 2 13 1 8 1 5 1 1 2-4 1-8 1-12 1-14 2-15 1-15 1-13 1-12 2-7 1-4 1 1 1 5 2 9 1 13 1 14 1 15 2 15 1 13 1 10 1 7 2 2 1-2 1-7 2-10 1-13 1-15 1-15 2-14 1-12 1-8 1-5 2 0 1 5 1 8 1 12 2 14 1 15 1 15 1 13 2 10 1 7 1 2 1-2 2-7 1-10 1-13 1-15 2-15 1-13 1-12 1-8 2-4 1 1 1 5 2 9 1 12 1 15 1 15 2 14 1 12 1 10 1 5 2 1 1-4 1-8 1-11 2-14 1-14 1-15 1-13 2-9 1-7 1-1 1 2 2 7 1 11 1 14 1 14 2 15 1 13 1 11 2 6 1 3 1-2 1-6 2-11 1-12 1-15 1-14 2-14 1-10 1-7 1-3 2 2 1 6 1 10 1 13 2 15 1 14 1 14 1 10 2 7 1 3 1-2 1-6 2-10 1-13 1-14 2-15 1-13 1-10 1-6 2-2 1 2 1 7 1 10 2 13 1 15 1 14 1 12 2 10 1 6 1 2 1-3 2-7 1-11 1-13 1-14 2-13 1-12 1-10 1-5 2-1 1 4 1 8 2 11 1 13 1 14 1 14 2 11 1 9 1 4 1 1 2-5 1-8 1-11 1-14 2-13 1-13 1-11 1-8 2-3 1 1 1 5 1 9 2 12 1 13 1 14 1 13 2 10 1 6 1 3 2-2 1-6 1-9 1-13 2-13 1-13 1-12 1-9 2-6 1-1 1 3 1 7 2 11 1 12 1 14 1 13 2 11 1 8 1 4 1 0 2-4 1-8 1-11 1-12 2-14 1-12 1-10 2-7 1-2 1 1 1 6 2 9 1 11 1 13 1 13 2 12 1 9 1 6 1 1 2-3 1-7 1-10 1-12 2-13 1-12 1-10 1-8 2-4 1 1 1 4 1 8 2 11 1 13 1 13 2 11 1 10 1 6 1 2 2-2 1-6 1-9 1-12 2-12 1-12 1-11 1-8 2-4 1 0 1 4 1 7 2 10 1 13 1 12 1 12 2 9 1 6 1 3 1-2 2-5 1-9 1-11 2-12 1-12 1-11 1-7 2-5 1 0 1 4 1 7 2 10 1 12 1 12 1 11 2 10 1 6 1 2 1-2 2-5 1-9 1-11 1-12 2-11 1-10 1-8 1-4 2 0 1 4 1 8 1 10 2 11 1 12 1 11 2 9 1 5 1 2 1-2 2-6 1-9 1-11 1-12 2-11 1-9 1-7 1-3 2 1 1 5 1 8 1 10 2 11 1 12 1 10 1 8 2 4 1 1 1-3 1-7 2-9 1-11 1-12 2-10 1-8 1-6 1-2 2 2 1 6 1 8 1 11 2 11 1 11 1 9 1 7 2 3 1-1 1-4 1-8 2-10 1-11 1-11 1-9 2-7 1-4 1 0 1 3 2 7 1 9 1 11 2 11 1 10 1 8 1 5 2 1 1-3 1-5 1-9 2-10 1-11 1-10 1-8 2-6 1-2 1 2 1 5 2 9 1 10 1 10 1 11 2 8 1 6 1 3 1-1 2-4 1-8 1-9 2-11 1-10 1-9 1-6 2-3 1 0 1 4 1 7 2 9 1 11 1 10 1 9 2 7 1 3 1 1 1-4 2-6 1-9 1-10 1-10 2-9 1-7 1-4 1 0 2 3 1 6"/>
</g></g>
<text class="k" text-anchor="middle" x="397.30" y="274.70">-10</text><text class="k" text-anchor="middle" x="414.61" y="274.70">-5</text><text class="k" text-anchor="middle" x="431.93" y="274.70">0</text><text class="k" text-anchor="middle" x="449.24" y="274.70">5</text><text class="k" text-anchor="middle" x="466.55" y="274.70">10</text><text class="k" text-anchor="middle" x="483.86" y="274.70">15</text><text class="k" text-anchor="middle" x="501.17" y="274.70">20</text><text class="k" text-anchor="middle" x="518.49" y="274.70">25</text><text class="k" text-anchor="middle" x="535.80" y="274.70">30</text>
<text class="k" text-anchor="end" x="395.10" y="270.00">0</text><text class="k" text-anchor="end" x="395.10" y="257.10">0.05</text><text class="k" text-anchor="end" x="395.10" y="244.20">0.1</text><text class="k" text-anchor="end" x="395.10" y="231.30">0.15</text><text class="k" text-anchor="end" x="395.10" y="218.40">0.2</text><text class="k" text-anchor="end" x="395.10" y="205.50">0.25</text><text class="k" text-anchor="end" x="395.10" y="192.60">0.3</text><text class="k" text-anchor="end" x="395.10" y="179.70">0.35</text><text class="k" text-anchor="end" x="395.10" y="166.80">0.4</text>
<text class="t" x="466.55" y="161.30">Tangent phase mask</text>
<text class="l" x="466.25" y="284.50">Simulated image plane coordinate</text>
<text class="l" style="font-size:8.9px" transform="translate(384.00 216.50) rotate(-90)">PSF</text>
<rect x="495.70" y="168.30" width="37.20" height="44.10" fill="#fff" stroke="#7a7a7a" stroke-width="0.6"/>
<path d="M497.20 174.40h12" stroke="#0473C2" stroke-width="1.1" fill="none"/><text class="g" x="511.00" y="177.70"><tspan font-size="7" fill="#6a6a6a" dy="0.6">ψ</tspan><tspan dy="-0.6" dx="0.6">=0</tspan></text>
<path d="M497.20 185.10h12" stroke="#E05519" stroke-width="1.1" fill="none"/><text class="g" x="511.00" y="188.40"><tspan font-size="7" fill="#6a6a6a" dy="0.6">ψ</tspan><tspan dy="-0.6" dx="0.6">=20</tspan></text>
<path d="M497.20 195.80h12" stroke="#F0B21F" stroke-width="1.1" fill="none"/><text class="g" x="511.00" y="199.10"><tspan font-size="7" fill="#6a6a6a" dy="0.6">ψ</tspan><tspan dy="-0.6" dx="0.6">=40</tspan></text>
<path d="M497.20 206.50h12" stroke="#842F97" stroke-width="1.1" fill="none"/><text class="g" x="511.00" y="209.80"><tspan font-size="7" fill="#6a6a6a" dy="0.6">ψ</tspan><tspan dy="-0.6" dx="0.6">=60</tspan></text>
<text class="s" x="460.35" y="298.20">(<tspan font-weight="bold">f</tspan>)</text>
</g>
</svg>
</body></html>
